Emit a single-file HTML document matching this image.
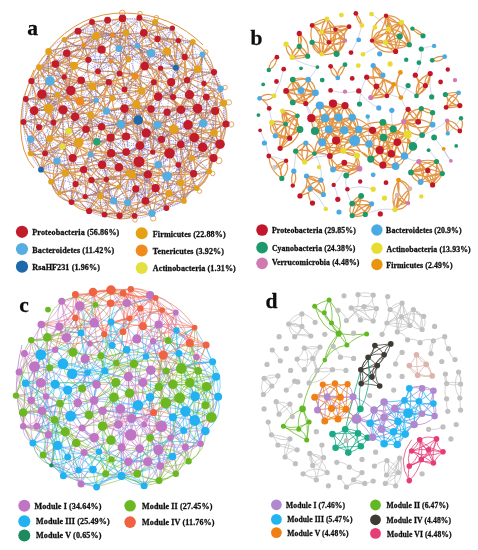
<!DOCTYPE html>
<html><head><meta charset="utf-8"><style>
html,body{margin:0;padding:0;background:#fff;}
svg{display:block;}
text{font-family:"Liberation Serif",serif;font-weight:bold;fill:#111;stroke:#111;stroke-width:0.28px;letter-spacing:0.1px;}
</style></head><body>
<svg width="478" height="550" viewBox="0 0 478 550">
<defs><filter id="bl" x="0" y="0" width="478" height="550" filterUnits="userSpaceOnUse"><feGaussianBlur stdDeviation="0.5"/></filter><filter id="bt" x="0" y="0" width="478" height="550" filterUnits="userSpaceOnUse"><feGaussianBlur stdDeviation="0.4"/></filter></defs><rect width="478" height="550" fill="#fff"/>
<g filter="url(#bl)"><path d="M96.1 100.2Q45.8 116.9 41 169.7M176 67.7Q182.2 83.2 173.1 97.1M189.5 94.7Q197.9 95.9 206.3 97.1M39.1 67.3Q64.1 81.7 92.5 86.5M102.1 164.8Q109.9 170.3 118.9 167.3M92.5 86.5Q104.3 96 106.4 111M124.5 89.4Q127.7 81.1 135.1 76.2M91.5 180.2Q106.2 186.7 113.6 200.9M48.7 108.6Q52.1 115.2 53.5 122.5M83.6 44.9Q92.8 46.6 101.6 49.7M126.1 152.1Q135.1 153.2 139.9 145.6M104.5 214.6Q119.3 222.5 134.6 215.8M92 22Q98.7 34 112.4 35.3M48.7 108.6Q89.4 102.4 110.7 137.7M126.1 32.9Q136 35.5 137.5 45.6M48.7 51.4Q35.7 63.7 31.4 81M173.8 129.2Q165 140.1 169.5 153.3M152.7 152.1Q161.1 152.4 169.5 153.3M139.4 17.7Q147 20.8 155.1 22M203.9 83.4Q219.2 93.2 215.2 111M83.6 169.7Q86.4 183 85.2 196.6M188 124.9Q207.3 135.8 226 124M75.6 184.1Q84.4 185.8 91.5 180.2M75.6 184.1Q75.7 200.9 89.1 211M141.8 91.1Q130.4 104.4 138.2 120.1M96.1 100.2Q120.2 120.9 126.1 152.1M64.3 39.6Q74.5 58.2 64.3 76.9M192.8 42Q210.7 51.9 214 72.1M96.8 141.8Q103.8 147.8 111.2 153.3M124.5 89.4Q137.6 80.3 144.7 66.1M91.5 180.2Q99.2 184.4 106.4 179.3M39.1 67.3Q44.2 83.9 57.8 94.7M213.5 158.1Q210 164.3 209.2 171.3M111.2 153.3Q148.6 178.8 193.6 173.7M137.5 45.6Q144.5 49 151 53.3M92 22Q95.8 36.2 101.6 49.7M137.5 45.6Q146.2 61.7 135.1 76.2M173.8 129.2Q182.4 137.5 194.3 137.7M90.8 115.3Q97.4 143.8 83.6 169.7M64.3 76.9Q123.1 94.5 167.1 51.6M131.7 174.5Q139.8 176.2 147.9 174.5M30.6 153.3Q38.1 160.1 41 169.7M131.7 174.5Q145.4 184.1 145.4 200.9M86 129.2Q93.4 125.3 101.6 126.8M160.6 68.2Q156.7 82.2 158.2 96.6M106.4 111Q90 109.5 75.1 116.7M86 129.2Q78.9 144.3 62.4 146.6M118.9 48.5Q136.4 41.2 151 53.3M172.4 28Q173.5 47.9 176 67.7M81.2 80.2Q87.5 91.1 96.1 100.2M83.6 169.7Q80.7 177.5 75.6 184.1M223.6 103.1Q228.8 113.1 226 124M83.6 169.7Q75.3 185 71.5 202.1M78.7 142.5Q81 152.4 72.7 158.1M188 124.9Q192.9 130.4 194.3 137.7M193.6 173.7Q189.5 187.6 183.9 200.9M64.3 39.6Q52 49 55.4 64.1M96.8 141.8Q112 142.1 126.1 136.5M192.8 42Q179.7 59.6 187.1 80.2M91.5 180.2Q96.2 188 100.4 196.1M180.3 182.6Q189.5 182.4 196.7 188.2M213.5 158.1Q210.4 176.1 196.7 188.2M178.4 164.8Q191.7 178 209.2 171.3M104.5 214.6Q163.1 207.9 209.2 171.3M137.5 45.6Q143.9 54.9 144.7 66.1M214 132.9Q222.2 145.7 213.5 158.1M131.7 174.5Q133.8 181.7 135.8 188.9M160.6 68.2Q164.2 76.5 171.2 82.2M203.9 83.4Q202.2 96.4 197.6 108.6M155.6 188.2Q164.4 196.3 166.4 208.1M78 31.2Q94.7 37.3 112.4 35.3M81.2 80.2Q72.9 82.3 70.8 90.6M68.4 131.2Q68.4 148.3 57.1 161M191.9 158.1Q185.4 175.2 167.1 176.2M78.7 142.5Q75.6 159.2 65.5 173M96.1 100.2Q94.3 108 90.8 115.3M75.6 184.1Q71.2 192.6 71.5 202.1M181 109.8Q187.7 115.9 188 124.9M112.4 35.3Q129.6 32.1 139.4 17.7M192.8 42Q190.6 56.5 197.6 69.4M96.8 141.8Q93.8 148.1 90.8 154.5M194.3 137.7Q208.5 135.6 220 144.2M213.5 158.1Q198.4 159.4 193.6 173.7M126.1 32.9Q130.8 45.8 128.5 59.3M102.1 164.8Q91.8 163.1 83.6 169.7M63.1 109.8Q69.8 119.5 68.4 131.2M194.3 137.7Q191.6 154.4 178.4 164.8M64.3 76.9Q72.1 81.6 81.2 80.2M41.9 94.2Q55.4 92.3 67.9 97.8M136.5 104.3Q149.3 117.9 167.1 112.2M187.1 80.2Q188.3 87.4 189.5 94.7M206.3 97.1Q222 106.2 226 124M152.7 152.1Q184.3 143.3 213.5 158.1M167.1 112.2Q165.9 126.1 161.6 139.3M160.6 68.2Q168.4 69.7 176 67.7M203.9 83.4Q200.8 91 206.3 97.1M108.8 82.2Q118.4 81.9 124.5 89.4M160.6 68.2Q152.9 81.1 141.8 91.1M90.8 154.5Q107.4 155.3 118.9 167.3M83.6 169.7Q63.4 164.9 51.1 181.7M78.7 142.5Q87.6 137.6 96.8 141.8M180.8 144.4Q177.9 152.4 169.5 153.3M75.6 184.1Q70.3 193.5 59.5 193M158.2 96.6Q147.9 102.1 136.5 104.3M34.2 110.6Q68.6 157 126.1 152.1M206.3 97.1Q207 106.4 215.2 111M192.8 42Q186.3 48.1 184.7 56.9M75.1 116.7Q67.9 130.9 78.7 142.5M96.8 141.8Q105 143.9 110.7 137.7M157.5 124.9Q166.2 125.1 173.8 129.2M126.1 32.9Q125.9 42.3 118.9 48.5M141.8 91.1Q124.2 117.8 139.9 145.6M194.3 137.7Q196.8 143.9 202.7 147.3M167.1 51.6Q160.7 66.2 144.7 66.1M63.1 109.8Q60.8 148.4 75.6 184.1M64.3 76.9Q67.9 87 67.9 97.8M53.5 122.5Q52 138.6 45.1 153.3M126.1 136.5Q135.7 132.3 146.2 132.9M119.6 73.7Q122 55.5 137.5 45.6M203.9 83.4Q214.1 80.2 220.7 88.7M160.6 68.2Q159.4 76.2 153.9 82.2M90.8 154.5Q100.9 151.8 111.2 153.3M124.5 108.6Q170.3 148.7 226 124M49.9 81Q62.9 80.3 70.8 90.6M155.6 188.2Q165.6 203.7 183.9 200.9M128.5 173Q135.4 179.5 135.8 188.9M49.9 81Q52.1 94.9 48.7 108.6M67.9 97.8Q55.9 98.9 48.7 108.6M193.6 173.7Q161.3 168.3 135.8 188.9M180.8 144.4Q187.2 140.4 194.3 137.7M51.1 181.7Q105.4 152 155.6 188.2M48.7 108.6Q41.5 109.9 34.2 110.6M75.1 116.7Q89.2 119.4 101.6 126.8M118.9 187Q97 190.2 89.1 211M194.3 137.7Q203.1 131.1 214 132.9M110.7 137.7Q122.8 126.3 138.2 120.1M126.1 32.9Q65.4 30.6 31.4 81M39.1 127.3Q50.6 138.3 45.1 153.3M72.7 158.1Q75.8 170.9 75.6 184.1M187.1 80.2Q176.4 85.6 173.1 97.1M41 169.7Q52.6 175.9 65.5 173M101.6 49.7Q160.1 84.5 152.7 152.1M62.4 146.6Q79.2 141.3 90.8 154.5M167.1 112.2Q163 128.9 146.2 132.9M120.8 124.4Q119.9 132 126.1 136.5M124.5 108.6Q133.3 112 138.2 120.1M65.5 173Q75.1 174.5 83.6 169.7M90.8 154.5Q91.7 171.3 106.4 179.3M96.1 100.2Q81.7 102.2 67.9 97.8M55.4 64.1Q47.8 68.3 39.1 67.3M128.5 173Q129.6 174.8 131.7 174.5M172.4 28Q157.7 28.1 143.8 32.9M55.4 64.1Q67.5 74.8 70.8 90.6M68.4 131.2Q63.1 138 62.4 146.6M191.9 158.1Q202.7 155.3 213.5 158.1M226 124Q225.1 143 213.5 158.1M112.4 35.3Q101.3 50.1 83.6 44.9M180.8 144.4Q165.4 143.2 152.7 152.1M73.9 65.8Q84.3 75.6 98 71.3M178.4 40.6Q174.7 53.9 176 67.7M151 53.3Q166.7 65.6 184.7 56.9M75.1 116.7Q82.5 110.8 90.8 115.3M206.3 97.1Q204.1 104.5 197.6 108.6M118.9 187Q102.2 192.4 85.2 196.6M158.2 164.8Q163.6 180.8 180.3 182.6M112.4 35.3Q128.9 44.1 143.8 32.9M126.1 32.9Q115.2 43.2 101.6 49.7M189.5 94.7Q201.3 106.6 203.2 123.2M135.1 76.2Q147.7 85.3 158.2 96.6M155.1 22Q146.4 33.9 137.5 45.6M151 109.1Q141.3 110.8 138.2 120.1M62.4 146.6Q70.1 150.1 72.7 158.1M203.2 123.2Q207.2 137.3 220 144.2M71.5 202.1Q127 185.7 161.6 139.3M90.8 154.5Q83.8 160.5 83.6 169.7M88.4 59.8Q85.4 73.9 92.5 86.5M155.6 188.2Q149.5 193.8 145.4 200.9M96.1 100.2Q102.6 104.4 106.4 111M55.4 64.1Q70.3 68.9 81.2 80.2M49.9 81Q60.5 87.7 67.9 97.8M197.6 69.4Q188.6 80.4 189.5 94.7M89.1 211Q105.8 204.4 119.6 215.8M135.8 188.9Q140.9 202.6 134.6 215.8M178.4 40.6Q170.8 44.1 167.1 51.6M215.2 111Q223.5 126.8 220 144.2M158.2 96.6Q173.6 96.3 181 109.8M158.2 164.8Q166.4 167.6 167.1 176.2M168.8 193.5Q176.1 197.8 183.9 200.9M70.8 90.6Q61.9 102.3 48.7 108.6M167.1 51.6Q176.4 70.8 197.6 69.4M39.1 127.3Q27.9 138 30.6 153.3M101.6 126.8Q94.1 132.7 96.8 141.8M145.4 200.9Q157.1 201 166.4 208.1M70.8 90.6Q131.5 68.1 181 109.8M202.7 147.3Q212.7 157.5 209.2 171.3M100.4 196.1Q94.8 203.6 89.1 211M62.4 146.6Q52.8 147.4 45.1 153.3M107.6 20.1Q114.3 33.9 118.9 48.5M120.8 124.4Q103 150.2 72.7 158.1M25.8 99Q34.1 112.4 39.1 127.3M90.8 154.5Q81.4 154.8 72.7 158.1M203.2 123.2Q200 135.2 202.7 147.3M88.4 59.8Q73.4 64.2 64.3 76.9M49.9 81Q50.5 89.8 57.8 94.7M45.1 153.3Q53 165.5 65.5 173M108.8 82.2Q95.8 134.6 45.1 153.3M106.4 179.3Q110.8 186.1 118.9 187M34.2 110.6Q36.5 125.5 30.6 139.3M101.6 49.7Q105.9 55.9 111.2 61.2M151 53.3Q158.9 51 167.1 51.6M214 72.1Q214.6 81.5 220.7 88.7M173.1 97.1Q180.2 113 173.8 129.2M110.7 137.7Q113.7 145.4 111.2 153.3M158.2 164.8Q161.1 177 155.6 188.2M126.1 152.1Q134.3 161.9 131.7 174.5M101.6 126.8Q111.8 130.8 120.8 124.4M155.1 22Q173.8 48 197.6 69.4M41 169.7Q47.5 174.5 51.1 181.7M202.7 147.3Q191.8 157.8 178.4 164.8M31.4 81Q40.6 87.4 49.9 81M124.5 89.4Q151.1 127.4 178.4 164.8M31.4 81Q32 91.1 25.8 99M71.5 202.1Q78.4 210.4 89.1 211M80 101.4Q92.2 109 106.4 111M88.4 59.8Q70.4 50.6 55.4 64.1M157.5 38.9Q149.4 47.8 137.5 45.6M55.4 64.1Q60.1 70.3 64.3 76.9M197.6 69.4Q205.2 74.4 214 72.1M86 129.2Q106.2 166.6 147.9 174.5M30.6 139.3Q33.8 150.5 45.1 153.3M197.6 108.6Q185.4 154 139 161.7M139 161.7Q137.2 169.2 131.7 174.5M89.1 211Q97.8 208.7 104.5 214.6M135.8 188.9Q149.2 197.7 151.9 213.4M189.5 94.7Q180.3 99.4 181 109.8M215.2 111Q185.5 114.6 157.5 124.9M34.2 110.6Q40.3 122.4 53.5 122.5M215.2 111Q216.6 122.1 214 132.9M158.2 164.8Q150.6 167 147.9 174.5M83.6 44.9Q86.5 52.2 88.4 59.8M110.7 137.7Q111 152.7 102.1 164.8M168.8 193.5Q155.7 192.7 145.4 200.9M70.8 90.6Q67.1 93.3 67.9 97.8M48.7 51.4Q48.3 62 39.1 67.3M98 71.3Q103.4 85.8 112.4 98.3M119.6 215.8Q136 217.3 151.9 213.4M101.6 126.8Q93.3 139.2 78.7 142.5M124.5 108.6Q127.9 122.4 126.1 136.5M90.8 115.3Q147 118.1 178.4 164.8M147.9 174.5Q157.9 171.4 167.1 176.2M31.4 81Q37.9 95.3 34.2 110.6M203.2 123.2Q214.5 125.2 226 124M107.6 20.1Q101.5 34.3 101.6 49.7M25.8 99Q29.4 111 23.4 122M197.6 108.6Q205.4 114 203.2 123.2M45.1 153.3Q45 162 41 169.7M128.5 59.3Q122.3 65.4 119.6 73.7M106.4 179.3Q113.2 197.4 104.5 214.6M112.4 35.3Q118.9 32.3 126.1 32.9M151 109.1Q166.1 103.2 181 109.8M23.4 122Q23.4 132.1 30.6 139.3M48.7 108.6Q43.3 117.6 39.1 127.3M92 22Q98.4 27.7 96.3 36M83.6 44.9Q84.6 58.1 73.9 65.8M91.5 180.2Q144.7 176.5 196.7 188.2M196.7 188.2Q182.6 189.9 168.8 193.5M57.8 94.7Q62.5 97.2 67.9 97.8M167.1 112.2Q181.3 101.7 197.6 108.6M118.9 167.3Q123.5 177.2 118.9 187M138.2 120.1Q135.6 133.1 139.9 145.6M41.9 94.2Q59.9 103.4 75.1 116.7M73.9 65.8Q124.7 82.7 157.5 124.9M96.3 36Q109.3 39.2 118.9 48.5M171.2 82.2Q167.3 99.1 181 109.8M169.5 153.3Q171.3 165.1 167.1 176.2M25.8 99Q84.2 100.5 141.8 91.1M188 124.9Q195.4 122.5 203.2 123.2M157.5 38.9Q175.3 38.4 192.8 42M30.6 139.3Q27 146.3 30.6 153.3M127.6 202.6Q146.6 205.1 155.6 188.2M75.6 184.1Q120.6 171.4 167.1 176.2M189.5 94.7Q182 108.2 167.1 112.2M39.1 67.3Q36.2 81.2 41.9 94.2M23.4 122Q38.6 116 53.5 122.5M102.1 164.8Q112.1 181 100.4 196.1M124.5 89.4Q132.2 106.7 151 109.1M161.6 139.3Q161.3 152.2 158.2 164.8M158.2 96.6Q142.9 103.9 138.2 120.1M220 144.2Q217.7 151.6 213.5 158.1M48.7 51.4Q57.4 65.4 73.9 65.8M118.9 167.3Q123.9 169.9 128.5 173M85.2 196.6Q100.4 192 113.6 200.9M138.2 120.1Q156.4 121.8 161.6 139.3M41.9 94.2Q46.7 108.8 53.5 122.5M139.4 17.7Q146.4 30.1 157.5 38.9M113.6 200.9Q129.5 210 145.4 200.9M96.3 36Q104.1 31 112.4 35.3M124.5 108.6Q115.1 122 110.7 137.7M143.8 32.9Q157.1 40.1 167.1 51.6M202.5 54.5Q211.5 71.7 220.7 88.7M147.9 174.5Q153.2 188.3 145.4 200.9M146.2 132.9Q160.9 139.6 169.5 153.3M34.2 110.6Q48.7 110.6 63.1 109.8M197.6 108.6Q187.9 113.9 188 124.9M157.5 38.9Q176 40.5 184.7 56.9M127.6 202.6Q137.6 188.4 147.9 174.5M128.5 59.3Q120.1 73.5 124.5 89.4M161.6 139.3Q161 148.9 169.5 153.3M92 22Q86.9 29.6 78 31.2M83.6 44.9Q74.5 61.9 55.4 64.1M90.8 115.3Q85.6 130.4 96.8 141.8M48.7 51.4Q57.1 58.3 66.7 53.3M98 71.3Q103.5 76.6 108.8 82.2M214 132.9Q210.8 152.4 191.9 158.1M30.6 153.3Q70.9 177.3 111.2 153.3M118.9 167.3Q113.6 174.3 106.4 179.3M64.3 76.9Q107.6 94.2 144.7 66.1M214 132.9Q208.4 151.7 209.2 171.3M220.7 88.7Q211.6 89.6 206.3 97.1M85.2 196.6Q99.1 201 104.5 214.6M183.9 200.9Q165.4 200.7 151.9 213.4M113.6 200.9Q122.4 190.6 135.8 188.9M108.8 82.2Q103.7 92 96.1 100.2M113.6 200.9Q120.5 213.4 134.6 215.8M96.3 36Q95.8 44.1 101.6 49.7M86 129.2Q94 140.8 90.8 154.5M122.5 18.4Q135.4 29 137.5 45.6M78 31.2Q85.2 44.8 88.4 59.8M146.2 132.9Q142.2 147.2 139 161.7M112.4 98.3Q83.2 131.3 45.1 153.3M120.8 124.4Q135.9 130 139.9 145.6M127.6 202.6Q125.9 210.6 119.6 215.8M96.1 100.2Q83 105.1 75.1 116.7M127.6 202.6Q135.5 198 135.8 188.9M192.8 42Q192.7 60.2 176 67.7M153.9 82.2Q162.8 90.5 173.1 97.1M180.3 182.6Q178.8 192.4 183.9 200.9M161.6 139.3Q177.4 127.9 194.3 137.7M102.1 164.8Q86.1 176.7 85.2 196.6M178.4 164.8Q184.1 173.2 180.3 182.6M83.6 44.9Q65.7 45.7 48.7 51.4M90.8 115.3Q105.5 120.9 120.8 124.4M92 22Q76.6 28.3 64.3 39.6M206.3 97.1Q208.3 110.6 203.2 123.2M173.8 129.2Q168.3 134.9 161.6 139.3M196.7 188.2Q180.4 196.4 166.4 208.1M124.5 108.6Q137.8 107.5 151 109.1M139.4 17.7Q139.9 25.8 143.8 32.9M86 129.2Q98.7 132.5 110.7 137.7M106.4 111Q114.2 117.1 120.8 124.4M143.8 32.9Q154.2 40.7 151 53.3M86 129.2Q76.9 142.5 72.7 158.1M78 31.2Q80.9 38 83.6 44.9M146.2 132.9Q153 141.3 152.7 152.1M81.2 80.2Q66.8 83.1 57.8 94.7M111.2 153.3Q112.3 161.8 118.9 167.3M188 124.9Q175.2 132.9 161.6 139.3M173.1 97.1Q187.9 97.4 197.6 108.6M188 124.9Q190.6 141.4 191.9 158.1M67.9 97.8Q76.7 105.3 75.1 116.7M127.6 202.6Q122.3 187.5 131.7 174.5M153.9 82.2Q153.8 95.8 151 109.1M124.5 89.4Q133.6 85.3 141.8 91.1M178.4 164.8Q182.6 182.6 183.9 200.9M92 22Q107.3 20.4 122.5 18.4M90.8 115.3Q93.5 132.8 78.7 142.5M64.3 76.9Q69.8 90.6 80 101.4M49.9 138.4Q114.9 152.3 134.6 215.8M136.5 104.3Q125.4 111.8 120.8 124.4M214 132.9Q205.6 137.9 202.7 147.3M118.9 48.5Q123.6 54 128.5 59.3M59.5 193Q73.5 186.8 85.2 196.6M106.4 111Q121.5 107.7 136.5 104.3M65.5 173Q79.1 174.4 91.5 180.2M86 129.2Q76.6 124.6 68.4 131.2M108.8 82.2Q114.7 89.3 112.4 98.3M101.6 126.8Q120.4 159.9 158.2 164.8M184.7 56.9Q194.4 61.9 202.5 54.5M112.4 98.3Q112.4 112.7 120.8 124.4M172.4 28Q151.1 29.1 137.5 45.6M68.4 131.2Q60.7 138.8 49.9 138.4M81.2 80.2Q94.3 90.5 108.8 82.2M184.7 56.9Q186 68.5 187.1 80.2M78.7 142.5Q84.6 177.6 118.9 187M181 109.8Q164.9 110.5 157.5 124.9M75.1 116.7Q83.5 120.4 86 129.2M111.2 153.3Q127.1 155.2 139.9 145.6M124.5 89.4Q141.4 94.7 153.9 82.2M157.5 124.9Q172.1 135.5 169.5 153.3M41.9 94.2Q34.4 98.3 25.8 99M64.3 76.9Q50 81.5 41.9 94.2M187.1 80.2Q176.6 95.3 158.2 96.6M53.5 122.5Q60.5 139.5 78.7 142.5M122.5 18.4Q126.6 25.1 126.1 32.9M118.9 48.5Q103.4 55.3 98 71.3M59.5 193Q67.8 194.6 71.5 202.1M108.8 82.2Q100.6 84.3 92.5 86.5M197.6 108.6Q212.2 113.5 223.6 103.1M203.9 83.4Q217.8 89.2 223.6 103.1M167.1 112.2Q190.2 153.8 183.9 200.9M78 31.2Q71.1 35.3 64.3 39.6M146.2 132.9Q144.7 140 139.9 145.6M120.8 124.4Q136.3 120.4 146.2 132.9M111.2 153.3Q109.2 161.1 102.1 164.8M83.6 169.7Q98.3 178.9 100.4 196.1M193.6 173.7Q190.7 181.9 196.7 188.2M191.9 158.1Q198.9 166.9 209.2 171.3M73.9 65.8Q56.1 56.9 39.1 67.3M63.1 109.8Q63.1 127.2 49.9 138.4M118.9 187Q134 178.4 139 161.7M135.1 76.2Q142.5 81.8 141.8 91.1M41.9 94.2Q37.7 102.2 34.2 110.6M126.1 32.9Q134.9 34.6 143.8 32.9M113.6 200.9Q102.3 208.4 89.1 211M167.1 176.2Q158.4 192 166.4 208.1M101.6 126.8Q120.2 124.9 138.2 120.1M122.5 18.4Q119 33.2 118.9 48.5M106.4 111Q137.9 109.3 153.9 82.2M98 71.3Q130.1 96.1 126.1 136.5M220.7 88.7Q211.2 108.2 226 124M122.5 18.4Q117.1 54.1 124.5 89.4M119.6 73.7Q132 80.8 141.8 91.1M112.4 98.3Q128.6 100.8 141.8 91.1M160.6 68.2Q171.6 80.6 173.1 97.1M65.5 173Q58.5 189.6 71.5 202.1M226 124Q221.9 133.8 220 144.2M83.6 169.7Q88.6 174.2 91.5 180.2M73.9 65.8Q74.9 74.4 81.2 80.2M106.4 179.3Q118.9 175.9 131.7 174.5M214 72.1Q206.9 88.9 189.5 94.7M75.1 116.7Q63.3 115.9 53.5 122.5M104.5 214.6Q112.4 210.4 119.6 215.8M144.7 66.1Q172.4 113.3 226 124M194.3 137.7Q207.4 144.6 213.5 158.1M63.1 109.8Q72.7 121.7 86 129.2M157.5 124.9Q145.9 136.9 152.7 152.1M90.8 115.3Q87.6 122 86 129.2M153.9 82.2Q139.6 112.3 139.9 145.6M98 71.3Q146.8 71 189.5 94.7M57.8 94.7Q74.1 99.7 75.1 116.7M122.5 18.4Q123 30.1 112.4 35.3M120.8 124.4Q113.1 139 96.8 141.8M62.4 146.6Q49.8 156.4 41 169.7M139.9 145.6Q140.2 153.7 139 161.7M65.5 173Q62.3 182.9 59.5 193M128.5 173Q145.6 177.1 158.2 164.8M49.9 81Q49.3 89.7 41.9 94.2M184.7 56.9Q182.4 64 176 67.7M55.4 64.1Q63.7 85.4 80 101.4M193.6 173.7Q189.9 182.6 180.3 182.6M180.8 144.4Q200.3 130.7 220 144.2M143.8 32.9Q182.7 72 203.2 123.2M191.9 158.1Q197 165.4 193.6 173.7M112.4 35.3Q122.8 45.7 128.5 59.3M158.2 96.6Q165.7 94 173.1 97.1M151 53.3Q141.7 63.8 135.1 76.2M73.9 65.8Q68.9 81.4 67.9 97.8M75.1 116.7Q74.8 125.3 68.4 131.2M23.4 122Q55.5 165.7 100.4 196.1M157.5 124.9Q169.5 134.2 180.8 144.4M155.1 22Q171.5 25.3 178.4 40.6M167.1 176.2Q168 193.7 183.9 200.9M106.4 111Q115 106.6 124.5 108.6M57.8 94.7Q62.5 109.7 53.5 122.5M126.1 136.5Q135.6 137.1 139.9 145.6M139.9 145.6Q145.7 150.1 152.7 152.1M203.2 123.2Q195 128.1 194.3 137.7M96.3 36Q50.5 61 34.2 110.6M220.7 88.7Q214.3 107.2 203.2 123.2M144.7 66.1Q160.6 69.8 171.2 82.2M181 109.8Q188.9 103.5 197.6 108.6M141.8 91.1Q137.8 97.2 136.5 104.3M172.4 28Q174.9 34.6 178.4 40.6M106.4 179.3Q105.2 188.3 100.4 196.1M180.8 144.4Q191.5 148.1 202.7 147.3M191.9 158.1Q187.1 170.8 180.3 182.6M180.8 144.4Q178.2 163 193.6 173.7M101.6 49.7Q85.1 53.2 73.9 65.8M151 53.3Q150.1 60.8 144.7 66.1M112.4 35.3Q103.2 65.8 124.5 89.4M178.4 40.6Q193.8 70.5 173.1 97.1M75.1 116.7Q56.9 121.2 39.1 127.3M57.1 161Q62.1 166.4 65.5 173M158.2 164.8Q146.7 174.5 131.7 174.5M206.3 97.1Q216.8 94.8 223.6 103.1M118.9 187Q113.5 192.9 113.6 200.9M70.8 90.6Q79.1 92.9 80 101.4M155.1 22Q160 37.2 167.1 51.6M187.1 80.2Q201.3 94.8 220.7 88.7M138.2 120.1Q174.6 125.7 191.9 158.1M118.9 167.3Q126.8 168.2 131.7 174.5M119.6 73.7Q114.1 85.5 112.4 98.3M122.5 18.4Q109.3 27.1 96.3 36M100.4 196.1Q113.4 202 127.6 202.6M31.4 81Q34 98.6 48.7 108.6M137.5 45.6Q165.6 80.7 157.5 124.9M107.6 20.1Q98.9 35.7 83.6 44.9M119.6 73.7Q127.7 72.8 135.1 76.2M124.5 108.6Q143 113.9 146.2 132.9M144.7 66.1Q136.4 77.8 141.8 91.1M197.6 69.4Q181.9 70.6 171.2 82.2M128.5 173Q139.8 184.7 155.6 188.2M215.2 111Q213.4 121.2 203.2 123.2M180.8 144.4Q164.6 149.2 158.2 164.8M101.6 49.7Q83.5 45.5 66.7 53.3M214 72.1Q200.7 76.8 187.1 80.2M49.9 138.4Q49.7 150.9 57.1 161M23.4 122Q35.3 136.9 45.1 153.3M57.1 161Q70.8 169 75.6 184.1M70.8 90.6Q57.3 100.4 41.9 94.2M189.5 94.7Q179.2 115.8 157.5 124.9M110.7 137.7Q130 116.2 157.5 124.9M155.1 22Q158.2 30.2 157.5 38.9M101.6 126.8Q112.2 135.9 126.1 136.5M66.7 53.3Q76.7 59.5 88.4 59.8M119.6 73.7Q103 73.5 92.5 86.5M124.5 89.4Q152.2 123.9 194.3 137.7M92 22Q144.9 46.3 173.1 97.1M100.4 196.1Q109.3 206.7 119.6 215.8M171.2 82.2Q143.4 112.7 110.7 137.7M88.4 59.8Q99.5 65.1 111.2 61.2M157.5 38.9Q167.9 40.1 178.4 40.6M157.5 38.9Q171.5 50.3 176 67.7M128.5 173Q138.1 175.7 147.9 174.5M51.1 181.7Q54.7 198.5 71.5 202.1M111.2 61.2Q126.1 64 135.1 76.2M127.6 202.6Q127.6 211.1 134.6 215.8M23.4 122Q33 119.3 39.1 127.3M178.4 40.6Q192.8 51.8 197.6 69.4M49.9 138.4Q43 149.4 30.6 153.3M57.1 161Q47.6 162.6 41 169.7M57.1 161Q48.3 177.7 59.5 193M92.5 86.5Q86.7 100.6 90.8 115.3M57.8 94.7Q62.3 101.6 63.1 109.8M48.7 51.4Q51 84.7 80 101.4M151 109.1Q156.1 116.2 157.5 124.9M101.6 126.8Q101.3 142.6 90.8 154.5M66.7 53.3Q66.7 61.6 73.9 65.8M96.3 36Q90.2 47.2 88.4 59.8M202.5 54.5Q199.3 69.1 203.9 83.4M112.4 98.3Q107.9 104 106.4 111M100.4 196.1Q105.4 202.9 113.6 200.9M147.9 174.5Q158.8 183.6 168.8 193.5M128.5 173Q120.4 177.7 118.9 187M71.5 202.1Q93.7 215.6 119.6 215.8M144.7 66.1Q152.1 71.1 160.6 68.2M55.4 64.1Q44.1 73.6 31.4 81M51.1 181.7Q53.5 188.7 59.5 193M135.8 188.9Q145.7 189.5 155.6 188.2M139 161.7Q155 165.2 167.1 176.2M92.5 86.5Q82.5 92.9 70.8 90.6M215.2 111Q200.4 115.6 188 124.9M49.9 138.4Q65.5 131.9 78.7 142.5M119.6 215.8Q179.4 198.2 194.3 137.7M57.1 161Q59.2 172.8 51.1 181.7M48.7 108.6Q59.2 123.1 49.9 138.4M126.1 152.1Q135.2 153.3 139 161.7M168.8 193.5Q163.2 200.1 166.4 208.1M57.8 94.7Q42.3 100.3 25.8 99M124.5 108.6Q126.6 117.4 120.8 124.4M136.5 104.3Q142.6 111.6 138.2 120.1M171.2 82.2Q178.5 76.1 187.1 80.2M96.3 36Q88.7 38.7 83.6 44.9M202.5 54.5Q206.6 64.4 214 72.1M143.8 32.9Q139.7 49.6 144.7 66.1M100.4 196.1Q99.4 206 104.5 214.6M147.9 174.5Q161.7 192.7 151.9 213.4M107.6 20.1Q115.2 20.2 122.5 18.4M81.2 80.2Q82.6 90.9 80 101.4M80 101.4Q62.7 98 48.7 108.6M188 124.9Q199.7 141.7 220 144.2M139 161.7Q140 179.5 155.6 188.2M111.2 153.3Q127.9 157.7 131.7 174.5M92.5 86.5Q99.4 97.5 112.4 98.3M127.6 202.6Q136.6 215 151.9 213.4M39.1 67.3Q47.7 88.8 70.8 90.6M153.9 82.2Q160 88.2 158.2 96.6M49.9 138.4Q57.8 139.9 62.4 146.6M128.5 59.3Q138.1 50.2 151 53.3M102.1 164.8Q105.6 130.7 138.2 120.1M126.1 152.1Q139.4 158.6 152.7 152.1M126.1 152.1Q132.1 168.1 147.9 174.5M70.8 90.6Q82.5 97.8 96.1 100.2M196.7 188.2Q187.4 191.6 183.9 200.9M48.7 51.4Q46.6 66.3 49.9 81M57.8 94.7Q48.4 106.2 34.2 110.6M124.5 108.6Q129.3 103.1 136.5 104.3M126.1 32.9Q124.2 89.2 75.1 116.7M139.4 17.7Q154 28.8 172.4 28M96.3 36Q85.1 50.8 66.7 53.3M202.5 54.5Q198.1 69.3 187.1 80.2M128.5 173Q117.8 177.3 106.4 179.3M71.5 202.1Q92.2 197.3 104.5 214.6M45.1 153.3Q59.7 151 72.7 158.1M64.3 39.6Q79.4 46 88.4 59.8M176 67.7Q187.6 79.8 203.9 83.4M39.1 67.3Q61.3 69.9 81.2 80.2M153.9 82.2Q162.6 80 171.2 82.2M189.5 94.7Q189 104.3 197.6 108.6M91.5 180.2Q105.2 183.7 118.9 187M161.6 139.3Q149.2 137.1 139.9 145.6M92 22Q100 22.3 107.6 20.1M48.7 108.6Q49.7 129.9 30.6 139.3M137.5 45.6Q152.7 46.8 167.1 51.6M119.6 215.8Q126.5 201.6 135.8 188.9M30.6 153.3Q37.9 156.1 45.1 153.3M85.2 196.6Q78.9 200.8 71.5 202.1M220.7 88.7Q220.1 96.3 223.6 103.1M96.3 36Q80.2 37 64.3 39.6M202.5 54.5Q203 62.9 197.6 69.4M108.8 82.2Q100.3 96 106.4 111M146.2 132.9Q155.7 131.7 161.6 139.3M169.5 153.3Q171.4 161 178.4 164.8M209.2 171.3Q206.8 182.6 196.7 188.2M111.2 61.2Q119.8 64.5 119.6 73.7M80 101.4Q73.2 102.1 67.9 97.8M188 124.9Q199.5 133.7 214 132.9M111.2 153.3Q168.6 185.1 220 144.2" fill="none" stroke="#d98b38" stroke-width="1.05" opacity="0.85"/><path d="M139 161.7Q136.2 175.2 135.8 188.9M64.3 39.6Q66.6 53.6 73.9 65.8M176 67.7Q170.9 82 173.1 97.1M126.1 152.1Q131.6 162.1 128.5 173M153.9 82.2Q148.5 87.5 141.8 91.1M102.1 164.8Q110.7 164.9 118.9 167.3M91.5 180.2Q106.9 185.9 113.6 200.9M104.5 214.6Q119.7 212.3 134.6 215.8M83.6 44.9Q93.4 44.4 101.6 49.7M126.1 152.1Q133.5 149.9 139.9 145.6M118.9 187Q133.6 191.2 145.4 200.9M92 22Q103.2 27.1 112.4 35.3M137.5 45.6Q144.1 61.9 160.6 68.2M126.1 32.9Q131.7 39.3 137.5 45.6M126.1 32.9Q160.8 73.2 214 72.1M30.6 153.3Q43.3 158.9 57.1 161M137.5 45.6Q158.5 78.2 181 109.8M173.8 129.2Q167.8 140.6 169.5 153.3M131.7 174.5Q145.7 177.9 155.6 188.2M135.1 76.2Q112.8 123.3 128.5 173M152.7 152.1Q161 163.5 167.1 176.2M139.4 17.7Q148.2 16.4 155.1 22M113.6 200.9Q147.5 193.9 180.3 182.6M25.8 99Q46.6 97.1 63.1 109.8M197.6 108.6Q206.3 110.4 215.2 111M86 129.2Q81.5 135.4 78.7 142.5M108.8 82.2Q92.3 88.6 80 101.4M126.1 32.9Q87.8 76.5 68.4 131.2M106.4 111Q100.7 125.1 86 129.2M169.5 153.3Q184.6 142 202.7 147.3M122.5 18.4Q131 19.8 139.4 17.7M118.9 48.5Q139.2 59.5 160.6 68.2M106.4 111Q110.9 127.9 126.1 136.5M111.2 61.2Q119.8 59.4 128.5 59.3M215.2 111Q217.8 105.4 223.6 103.1M223.6 103.1Q226 120.3 214 132.9M75.6 184.1Q82.6 178.4 91.5 180.2M75.6 184.1Q86.7 195.4 89.1 211M181 109.8Q190.3 119.5 203.2 123.2M128.5 59.3Q117.9 70.1 108.8 82.2M176 67.7Q179.2 76 187.1 80.2M126.1 152.1Q111.6 153.7 102.1 164.8M39.1 67.3Q51.6 72.3 64.3 76.9M96.8 141.8Q106 145 111.2 153.3M91.5 180.2Q98.8 177.5 106.4 179.3M213.5 158.1Q210.7 164.5 209.2 171.3M39.1 67.3Q53.3 77.7 57.8 94.7M91.5 180.2Q97.7 197.5 104.5 214.6M178.4 164.8Q173.5 179.1 168.8 193.5M118.9 187Q127.8 184 135.8 188.9M41.9 94.2Q48.4 100 48.7 108.6M158.2 96.6Q151.5 110.6 157.5 124.9M48.7 108.6Q58.7 119.8 68.4 131.2M118.9 187Q127.2 201.1 134.6 215.8M92 22Q97.8 35.5 101.6 49.7M173.8 129.2Q182.8 136.5 194.3 137.7M131.7 174.5Q139.8 175.7 147.9 174.5M30.6 153.3Q34.3 162.5 41 169.7M152.7 152.1Q145.5 156.4 139 161.7M86 129.2Q93.4 125.2 101.6 126.8M160.6 68.2Q163.1 82.7 158.2 96.6M118.9 48.5Q135.5 47.3 151 53.3M86 129.2Q111.3 140.6 118.9 167.3M120.8 124.4Q129.8 123.4 138.2 120.1M169.5 153.3Q161.8 157 158.2 164.8M120.8 124.4Q154.6 147.5 194.3 137.7M111.2 61.2Q106.8 69.1 98 71.3M81.2 80.2Q91.7 87.9 96.1 100.2M223.6 103.1Q223.5 113.7 226 124M111.2 61.2Q124.6 72.1 124.5 89.4M83.6 169.7Q82.1 187.6 71.5 202.1M78.7 142.5Q76.5 150.6 72.7 158.1M188 124.9Q189.5 132.1 194.3 137.7M193.6 173.7Q195 189.5 183.9 200.9M96.1 100.2Q104.8 112.3 101.6 126.8M124.5 89.4Q118.3 102.6 106.4 111M64.3 39.6Q63.2 53.1 55.4 64.1M192.8 42Q199.8 46.6 202.5 54.5M96.8 141.8Q111.7 140.4 126.1 136.5M96.8 141.8Q103.2 152.4 102.1 164.8M194.3 137.7Q198.1 148.5 191.9 158.1M81.2 80.2Q110.6 124.5 161.6 139.3M91.5 180.2Q96.3 188 100.4 196.1M213.5 158.1Q206.3 173.8 196.7 188.2M102.1 164.8Q106 171.5 106.4 179.3M178.4 164.8Q192.5 174 209.2 171.3M194.3 137.7Q193.7 158.1 209.2 171.3M118.9 187Q122.6 178 131.7 174.5M180.3 182.6Q188 186.9 196.7 188.2M64.3 76.9Q66.4 84.3 70.8 90.6M173.8 129.2Q188.8 127.4 203.2 123.2M214 132.9Q214.8 145.5 213.5 158.1M206.3 97.1Q212 114.6 214 132.9M173.8 129.2Q160.8 138.4 152.7 152.1M203.9 83.4Q206.8 97.5 197.6 108.6M118.9 48.5Q134.2 45.3 143.8 32.9M122.5 18.4Q142.1 63.1 124.5 108.6M78 31.2Q95.9 27.6 112.4 35.3M155.6 188.2Q162.2 197.5 166.4 208.1M184.7 56.9Q175.4 68.5 160.6 68.2M172.4 28Q165.2 38.8 167.1 51.6M68.4 131.2Q83.2 135 96.8 141.8M81.2 80.2Q76.7 86.1 70.8 90.6M78.7 142.5Q62.8 150.7 45.1 153.3M173.1 97.1Q159.8 99 151 109.1M191.9 158.1Q181 169.2 167.1 176.2M96.1 100.2Q92.3 107.3 90.8 115.3M75.6 184.1Q69.4 192.2 71.5 202.1M48.7 108.6Q55.9 108.6 63.1 109.8M64.3 39.6Q54.1 42.3 48.7 51.4M176 67.7Q173.2 74.8 171.2 82.2M112.4 35.3Q124.9 25 139.4 17.7M124.5 89.4Q147.4 57.9 172.4 28M192.8 42Q197.3 55.3 197.6 69.4M194.3 137.7Q207.4 140.1 220 144.2M213.5 158.1Q205.3 168.1 193.6 173.7M96.8 141.8Q96.8 158.9 83.6 169.7M102.1 164.8Q92.1 164.4 83.6 169.7M180.3 182.6Q176.6 197.1 166.4 208.1M64.3 76.9Q73.4 75.4 81.2 80.2M41.9 94.2Q55.4 92.1 67.9 97.8M136.5 104.3Q151.6 108.9 167.1 112.2M90.8 115.3Q77.3 120 68.4 131.2M63.1 109.8Q62.6 141.5 65.5 173M145.4 200.9Q140.2 208.5 134.6 215.8M113.6 200.9Q120.3 203.8 127.6 202.6M173.8 129.2Q179.3 135.9 180.8 144.4M167.1 112.2Q166.1 126.1 161.6 139.3M160.6 68.2Q168.2 65.8 176 67.7M203.9 83.4Q205.7 90.1 206.3 97.1M108.8 82.2Q116.2 86.8 124.5 89.4M155.6 188.2Q168.2 186.4 180.3 182.6M100.4 196.1Q119.5 202.5 134.6 215.8M78 31.2Q90 40.2 101.6 49.7M172.4 28Q166.6 35.7 157.5 38.9M128.5 173Q132 190 145.4 200.9M223.6 103.1Q211.6 111.4 203.2 123.2M78.7 142.5Q87.9 146.2 96.8 141.8M180.8 144.4Q172.9 146 169.5 153.3M75.6 184.1Q67.1 187.8 59.5 193M226 124Q192.7 158.2 155.6 188.2M101.6 49.7Q97.2 67.7 108.8 82.2M214 72.1Q213.9 91.6 215.2 111M206.3 97.1Q211.4 103.6 215.2 111M192.8 42Q188.7 49.4 184.7 56.9M75.1 116.7Q81.7 128.9 78.7 142.5M96.8 141.8Q104.3 141.5 110.7 137.7M118.9 187Q108.8 189.9 100.4 196.1M157.5 124.9Q166.5 123.7 173.8 129.2M194.3 137.7Q196.8 144 202.7 147.3M178.4 164.8Q185 171 193.6 173.7M167.1 51.6Q154 55.9 144.7 66.1M72.7 158.1Q72.6 167.2 65.5 173M64.3 76.9Q63.8 87.7 67.9 97.8M173.8 129.2Q180.1 124.5 188 124.9M113.6 200.9Q120.2 206.9 119.6 215.8M53.5 122.5Q46.1 137 45.1 153.3M126.1 136.5Q136.5 136.7 146.2 132.9M167.1 112.2Q168.1 121.6 173.8 129.2M101.6 126.8Q138 118.3 173.8 129.2M203.9 83.4Q213.1 83.4 220.7 88.7M90.8 154.5Q101.2 157.9 111.2 153.3M49.9 81Q62.4 81.3 70.8 90.6M88.4 59.8Q73.2 71.6 70.8 90.6M112.4 98.3Q167.3 117.7 223.6 103.1M155.6 188.2Q168.1 198.2 183.9 200.9M128.5 173Q134.6 179.8 135.8 188.9M49.9 81Q46.3 94.7 48.7 108.6M172.4 28Q166.9 45.1 151 53.3M68.4 131.2Q74.7 135.8 78.7 142.5M111.2 153.3Q118.8 155.1 126.1 152.1M80 101.4Q86.1 107.8 90.8 115.3M80 101.4Q99.3 125.1 111.2 153.3M73.9 65.8Q59.3 69.3 49.9 81M48.7 108.6Q41.5 109.9 34.2 110.6M101.6 49.7Q109.1 62.9 119.6 73.7M75.1 116.7Q87.7 123.5 101.6 126.8M157.5 124.9Q150.4 126.8 146.2 132.9M39.1 127.3Q36.4 141.6 45.1 153.3M136.5 104.3Q144.5 104.4 151 109.1M41 169.7Q53.5 169.7 65.5 173M145.4 200.9Q146.8 208.1 151.9 213.4M167.1 176.2Q166.3 185 168.8 193.5M202.7 147.3Q161 154.8 135.8 188.9M167.1 112.2Q161.6 127.5 146.2 132.9M62.4 146.6Q70.6 160.3 83.6 169.7M65.5 173Q74.5 171 83.6 169.7M124.5 108.6Q128.5 117.8 138.2 120.1M90.8 154.5Q97 159.1 102.1 164.8M128.5 173Q139.8 161.6 139.9 145.6M88.4 59.8Q88.9 71.4 81.2 80.2M90.8 154.5Q101.2 165.3 106.4 179.3M55.4 64.1Q47.6 67.6 39.1 67.3M128.5 173Q130 173.9 131.7 174.5M172.4 28Q158.8 34.5 143.8 32.9M55.4 64.1Q60.7 78.7 70.8 90.6M68.4 131.2Q66.1 139.2 62.4 146.6M226 124Q217.9 140.4 213.5 158.1M80 101.4Q84 115.1 86 129.2M112.4 35.3Q96.8 36.4 83.6 44.9M191.9 158.1Q202.7 154.4 213.5 158.1M73.9 65.8Q85.3 71.4 98 71.3M178.4 40.6Q176.5 54.1 176 67.7M151 53.3Q167.6 57.3 184.7 56.9M75.1 116.7Q83.3 119.5 90.8 115.3M118.9 187Q101.7 190.7 85.2 196.6M126.1 32.9Q116.1 44.6 101.6 49.7M189.5 94.7Q196.4 108.9 203.2 123.2M72.7 158.1Q56.7 163.6 41 169.7M155.1 22Q141.3 30.1 137.5 45.6M72.7 158.1Q63.1 174.4 59.5 193M113.6 200.9Q108.5 207.4 104.5 214.6M62.4 146.6Q65 154.6 72.7 158.1M203.2 123.2Q215.7 130.4 220 144.2M90.8 154.5Q85.2 161.2 83.6 169.7M49.9 81Q57.6 90.8 67.9 97.8M89.1 211Q103.4 219.5 119.6 215.8M80 101.4Q74.7 108.1 75.1 116.7M78.7 142.5Q70.4 143.9 62.4 146.6M180.8 144.4Q195.8 154.5 213.5 158.1M215.2 111Q209.7 128.7 220 144.2M101.6 49.7Q97.8 60.2 98 71.3M151 53.3Q166.8 54.7 176 67.7M214 72.1Q212.4 85.3 206.3 97.1M158.2 164.8Q161.1 171.7 167.1 176.2M168.8 193.5Q176.9 196 183.9 200.9M70.8 90.6Q56 95 48.7 108.6M98 71.3Q98.2 85.8 96.1 100.2M151 109.1Q127.9 153 127.6 202.6M155.1 22Q162.3 29.3 172.4 28M39.1 127.3Q33.4 139.8 30.6 153.3M192.8 42Q195.5 88.3 173.8 129.2M72.7 158.1Q61.6 169.6 51.1 181.7M41 169.7Q52 180 59.5 193M62.4 146.6Q52.2 146.1 45.1 153.3M120.8 124.4Q116.1 131.3 110.7 137.7M139.9 145.6Q150.6 153.7 158.2 164.8M90.8 154.5Q81.7 156.3 72.7 158.1M25.8 99Q29.8 114.4 39.1 127.3M203.2 123.2Q198.9 135.2 202.7 147.3M55.4 64.1Q64.5 66.1 73.9 65.8M157.5 38.9Q151 52.4 144.7 66.1M49.9 81Q52.6 88.5 57.8 94.7M141.8 91.1Q158.3 89.5 173.1 97.1M197.6 69.4Q199.5 76.9 203.9 83.4M135.8 188.9Q151.5 196.9 168.8 193.5M106.4 111Q110.2 146.3 131.7 174.5M106.4 179.3Q113.2 197.5 119.6 215.8M180.8 144.4Q160.5 151.4 139.9 145.6M178.4 40.6Q163.3 50.4 160.6 68.2M34.2 110.6Q27.7 124.4 30.6 139.3M23.4 122Q36.2 131 49.9 138.4M215.2 111Q214.9 131.2 202.7 147.3M214 72.1Q220.1 79.3 220.7 88.7M110.7 137.7Q108.8 145.6 111.2 153.3M206.3 97.1Q195.3 106.8 181 109.8M57.8 94.7Q54.9 102.7 48.7 108.6M189.5 94.7Q181.7 109.5 188 124.9M167.1 51.6Q176.8 51.3 184.7 56.9M101.6 126.8Q111 124.1 120.8 124.4M126.1 136.5Q129.3 144.3 126.1 152.1M118.9 167.3Q129.3 165.9 139 161.7M119.6 73.7Q124.9 80.7 124.5 89.4M202.7 147.3Q188.9 153.8 178.4 164.8M66.7 53.3Q58.5 67.3 49.9 81M31.4 81Q40.6 80.8 49.9 81M107.6 20.1Q108.4 28.2 112.4 35.3M80 101.4Q95.6 99.7 106.4 111M157.5 38.9Q146.9 40.3 137.5 45.6M45.1 153.3Q52.5 154.9 57.1 161M25.8 99Q24.4 126.5 30.6 153.3M55.4 64.1Q58.6 71.4 64.3 76.9M197.6 69.4Q206.3 67.7 214 72.1M141.8 91.1Q144.5 101.1 151 109.1M30.6 139.3Q37.2 146.9 45.1 153.3M55.4 64.1Q60.6 79.1 57.8 94.7M197.6 69.4Q183.6 81.7 173.1 97.1M89.1 211Q97.5 209.9 104.5 214.6M139 161.7Q135.8 168.4 131.7 174.5M135.8 188.9Q138.4 204.7 151.9 213.4M106.4 179.3Q108.1 190.7 113.6 200.9M92.5 86.5Q88.8 96.1 80 101.4M189.5 94.7Q181.6 100.2 181 109.8M178.4 40.6Q162.5 42.3 151 53.3M34.2 110.6Q44.4 115.6 53.5 122.5M215.2 111Q217.8 122.1 214 132.9M151 53.3Q154.4 61.7 160.6 68.2M161.6 139.3Q176.2 148 178.4 164.8M83.6 44.9Q86.1 52.3 88.4 59.8M110.7 137.7Q112.6 153.2 102.1 164.8M168.8 193.5Q155.6 192.6 145.4 200.9M70.8 90.6Q70.1 94.5 67.9 97.8M48.7 51.4Q47 61.2 39.1 67.3M98 71.3Q107.8 83.4 112.4 98.3M119.6 215.8Q136.3 222.1 151.9 213.4M39.1 127.3Q70.3 116.5 101.6 126.8M96.3 36Q111.1 33.6 126.1 32.9M124.5 108.6Q124.3 122.6 126.1 136.5M66.7 53.3Q84.2 59 98 71.3M202.7 147.3Q197.4 160.2 193.6 173.7M112.4 98.3Q104.7 103 96.1 100.2M147.9 174.5Q157.5 175 167.1 176.2M100.4 196.1Q84.5 192.2 71.5 202.1M31.4 81Q33 95.8 34.2 110.6M209.2 171.3Q193.4 173.4 180.3 182.6M107.6 20.1Q107.1 35.4 101.6 49.7M25.8 99Q21.9 110.2 23.4 122M197.6 108.6Q202.1 115.2 203.2 123.2M141.8 91.1Q149.6 95 158.2 96.6M45.1 153.3Q39.3 160.6 41 169.7M197.6 69.4Q192.4 74.9 187.1 80.2M30.6 139.3Q40.8 153.9 57.1 161M78 31.2Q130.3 40.7 176 67.7M106.4 179.3Q107.9 197.1 104.5 214.6M112.4 35.3Q118.8 31.3 126.1 32.9M151 109.1Q166.1 106.2 181 109.8M181 109.8Q151.8 160.2 134.6 215.8M57.1 161Q65.2 161.3 72.7 158.1M48.7 108.6Q42 117 39.1 127.3M92 22Q93.1 29.3 96.3 36M83.6 44.9Q83.2 57.4 73.9 65.8M153.9 82.2Q117.8 117.1 102.1 164.8M196.7 188.2Q184 197.5 168.8 193.5M167.1 112.2Q182.2 108.8 197.6 108.6M118.9 167.3Q122.4 177.2 118.9 187M83.6 44.9Q112.9 34.9 143.8 32.9M138.2 120.1Q133.2 133.2 139.9 145.6M143.8 32.9Q161 37.2 178.4 40.6M147.9 174.5Q149 182.9 155.6 188.2M118.9 48.5Q130.2 59.6 144.7 66.1M107.6 20.1Q105.1 30.3 96.3 36M80 101.4Q70.6 103.8 63.1 109.8M157.5 38.9Q175.4 37.1 192.8 42M111.2 61.2Q127.8 41.1 139.4 17.7M30.6 139.3Q31.4 146.3 30.6 153.3M30.6 139.3Q33.6 155.3 41 169.7M127.6 202.6Q140.6 193.4 155.6 188.2M49.9 138.4Q49.5 146.5 45.1 153.3M64.3 39.6Q76.5 74.9 63.1 109.8M102.1 164.8Q94.7 180.1 100.4 196.1M158.2 96.6Q144.2 105 138.2 120.1M83.6 44.9Q76.2 51.2 66.7 53.3M92 22Q92.9 35.3 83.6 44.9M48.7 51.4Q64.1 53.7 73.9 65.8M118.9 167.3Q122.8 171.6 128.5 173M126.1 32.9Q138.3 67 171.2 82.2M85.2 196.6Q98.3 205.8 113.6 200.9M220.7 88.7Q210.1 99.8 197.6 108.6M41.9 94.2Q54.1 105.7 53.5 122.5M139.4 17.7Q151.5 25.7 157.5 38.9M118.9 167.3Q128.6 155.6 139.9 145.6M96.3 36Q104.4 37.5 112.4 35.3M124.5 108.6Q110.4 119.7 110.7 137.7M136.5 104.3Q139.9 119.1 146.2 132.9M171.2 82.2Q179.6 89.6 189.5 94.7M118.9 48.5Q127.7 43.7 137.5 45.6M202.5 54.5Q216.3 69.1 220.7 88.7M122.5 18.4Q135.8 21.8 143.8 32.9M147.9 174.5Q144.8 187.5 145.4 200.9M146.2 132.9Q158.9 142 169.5 153.3M111.2 61.2Q84 66.2 70.8 90.6M188 124.9Q181 133.4 180.8 144.4M34.2 110.6Q48.6 109.9 63.1 109.8M197.6 108.6Q195.1 118.1 188 124.9M157.5 38.9Q172.2 46.2 184.7 56.9M78 31.2Q128 30.4 160.6 68.2M128.5 59.3Q112.6 63.6 98 71.3M127.6 202.6Q142.4 191.9 147.9 174.5M111.2 153.3Q125.1 157.7 139 161.7M128.5 59.3Q131.9 75.1 124.5 89.4M127.6 202.6Q136.1 197.9 145.4 200.9M39.1 67.3Q47.5 71.7 49.9 81M91.5 180.2Q86.6 187.7 85.2 196.6M151 109.1Q158.4 113.8 167.1 112.2M161.6 139.3Q168.6 144.6 169.5 153.3M48.7 108.6Q39.3 121.5 23.4 122M92 22Q82.9 23.4 78 31.2M83.6 44.9Q72.6 59.1 55.4 64.1M90.8 115.3Q90.8 129.2 96.8 141.8M48.7 51.4Q57.8 51.3 66.7 53.3M214 132.9Q209.2 151 191.9 158.1M118.9 167.3Q110.8 171.4 106.4 179.3M220.7 88.7Q212.8 91.6 206.3 97.1M85.2 196.6Q94.2 206.3 104.5 214.6M183.9 200.9Q168.1 207.6 151.9 213.4M25.8 99Q37 104.3 48.7 108.6M136.5 104.3Q146.8 114.8 157.5 124.9M108.8 82.2Q103.1 91.7 96.1 100.2M64.3 76.9Q58.1 99.5 53.5 122.5M96.3 36Q98.1 43.2 101.6 49.7M143.8 32.9Q151.7 33.5 157.5 38.9M86 129.2Q89.6 141.6 90.8 154.5M113.6 200.9Q123.3 209.5 134.6 215.8M169.5 153.3Q163.1 168.4 147.9 174.5M122.5 18.4Q125.8 34.3 137.5 45.6M166.4 208.1Q149.6 208.4 134.6 215.8M146.2 132.9Q145 147.9 139 161.7M81.2 80.2Q86.4 84.2 92.5 86.5M184.7 56.9Q193.4 70.8 203.9 83.4M120.8 124.4Q131.2 134.2 139.9 145.6M81.2 80.2Q75.7 89.9 67.9 97.8M81.2 80.2Q116.2 61.4 143.8 32.9M127.6 202.6Q126 210.7 119.6 215.8M96.1 100.2Q82.6 104.6 75.1 116.7M176 67.7Q164.7 74.6 153.9 82.2M127.6 202.6Q132.6 196.3 135.8 188.9M192.8 42Q179.9 51.9 176 67.7M92.5 86.5Q96.2 92.9 96.1 100.2M153.9 82.2Q161.7 92 173.1 97.1M91.5 180.2Q79.4 189.2 71.5 202.1M180.3 182.6Q185.3 191.1 183.9 200.9M178.4 164.8Q178.6 173.8 180.3 182.6M83.6 44.9Q66 47.2 48.7 51.4M90.8 115.3Q103.8 126.5 120.8 124.4M92 22Q79.4 32.7 64.3 39.6M126.1 32.9Q130.8 23.6 139.4 17.7M214 132.9Q217.3 138.4 220 144.2M206.3 97.1Q207.9 110.5 203.2 123.2M48.7 51.4Q53.8 56.8 55.4 64.1M173.8 129.2Q165.3 131.4 161.6 139.3M118.9 167.3Q113.9 184.4 100.4 196.1M85.2 196.6Q92.9 198.2 100.4 196.1M118.9 48.5Q122.8 61 119.6 73.7M124.5 108.6Q137.7 113.3 151 109.1M139.4 17.7Q140.5 25.6 143.8 32.9M59.5 193Q77.1 197.4 89.1 211M106.4 111Q160.8 120.3 215.2 111M143.8 32.9Q145.3 43.9 151 53.3M106.4 111Q115.4 115.7 120.8 124.4M86 129.2Q80 143.9 72.7 158.1M81.2 80.2Q69.2 87 57.8 94.7M111.2 153.3Q113.7 161.1 118.9 167.3M188 124.9Q173.1 129 161.6 139.3M30.6 139.3Q40.4 142.8 49.9 138.4M171.2 82.2Q173.6 142 183.9 200.9M67.9 97.8Q68.2 108.5 75.1 116.7M127.6 202.6Q132.2 188.9 131.7 174.5M192.8 42Q178.5 42.9 167.1 51.6M39.1 67.3Q37.8 75.6 31.4 81M194.3 137.7Q181.9 145.5 169.5 153.3M112.4 35.3Q128.4 50.8 144.7 66.1M153.9 82.2Q147.9 95.2 151 109.1M102.1 164.8Q84.5 168.5 75.6 184.1M178.4 164.8Q172 169.8 167.1 176.2M178.4 164.8Q172.8 184.1 183.9 200.9M41.9 94.2Q52.4 102.2 63.1 109.8M90.8 115.3Q85.3 129.1 78.7 142.5M126.1 32.9Q141.2 38.8 157.5 38.9M136.5 104.3Q128.2 114 120.8 124.4M75.1 116.7Q100.7 146.3 139.9 145.6M214 132.9Q210.6 141.8 202.7 147.3M53.5 122.5Q42.4 138.2 30.6 153.3M173.8 129.2Q200 127.3 220 144.2M118.9 48.5Q124.4 53.3 128.5 59.3M152.7 152.1Q164.8 160 178.4 164.8M183.9 200.9Q175.5 205.3 166.4 208.1M59.5 193Q73.2 189 85.2 196.6M160.6 68.2Q149.7 78 135.1 76.2M106.4 111Q122.1 110.7 136.5 104.3M65.5 173Q76.9 182.5 91.5 180.2M86 129.2Q77.2 130.6 68.4 131.2M108.8 82.2Q113.7 89.6 112.4 98.3M108.8 82.2Q121.5 92.5 124.5 108.6M184.7 56.9Q194.1 59.3 202.5 54.5M83.6 169.7Q97 169.8 106.4 179.3M193.6 173.7Q202 176.3 209.2 171.3M173.1 97.1Q189.7 92.1 206.3 97.1M111.2 153.3Q123.6 159.8 128.5 173M193.6 173.7Q168.2 188.8 151.9 213.4M181 109.8Q170.3 119.1 157.5 124.9M124.5 89.4Q111 96.7 96.1 100.2M64.3 39.6Q81.2 51 101.6 49.7M111.2 153.3Q126.7 153.8 139.9 145.6M176 67.7Q179.6 82.8 189.5 94.7M112.4 35.3Q127.5 34.3 137.5 45.6M124.5 89.4Q138.3 82.2 153.9 82.2M197.6 69.4Q200.4 119.6 178.4 164.8M135.1 76.2Q135.6 90.3 136.5 104.3M90.8 115.3Q96.1 121.2 101.6 126.8M187.1 80.2Q173.8 90.5 158.2 96.6M187.1 80.2Q154.2 102.7 120.8 124.4M173.8 129.2Q185.4 142.8 202.7 147.3M122.5 18.4Q125.4 25.4 126.1 32.9M118.9 48.5Q110.1 61.4 98 71.3M41 169.7Q89.3 157.2 139 161.7M203.9 83.4Q187.8 88.7 173.1 97.1M62.4 146.6Q70.1 159.1 65.5 173M59.5 193Q63.6 200 71.5 202.1M197.6 108.6Q209.9 102.5 223.6 103.1M112.4 98.3Q124.9 99.5 136.5 104.3M96.1 100.2Q87.9 99.2 80 101.4M106.4 111Q107.8 120 101.6 126.8M90.8 154.5Q84.9 167.5 91.5 180.2M122.5 18.4Q138.9 19.2 155.1 22M78 31.2Q69.9 33.4 64.3 39.6M146.2 132.9Q143.1 139.3 139.9 145.6M155.6 188.2Q151 206.5 134.6 215.8M120.8 124.4Q134.5 125.6 146.2 132.9M78 31.2Q72.5 51.6 55.4 64.1M31.4 81Q66.7 122 120.8 124.4M111.2 61.2Q106.1 71.3 108.8 82.2M111.2 153.3Q105.7 158.3 102.1 164.8M171.2 82.2Q144 124.4 147.9 174.5M111.2 153.3Q107.7 166.1 106.4 179.3M191.9 158.1Q202.2 162.5 209.2 171.3M73.9 65.8Q66.2 77.4 70.8 90.6M73.9 65.8Q55.7 83.9 48.7 108.6M96.8 141.8Q112.6 143.6 126.1 152.1M63.1 109.8Q77.1 111.8 90.8 115.3M63.1 109.8Q63.3 127.2 49.9 138.4M135.1 76.2Q134.8 85.3 141.8 91.1M110.7 137.7Q125.4 141.5 139.9 145.6M64.3 76.9Q57.1 79.1 49.9 81M167.1 51.6Q176.3 65.9 171.2 82.2M41.9 94.2Q35.3 101.1 34.2 110.6M151 109.1Q192.7 120.3 213.5 158.1M70.8 90.6Q71.4 103.9 75.1 116.7M113.6 200.9Q100.6 204.2 89.1 211M53.5 122.5Q56.7 135 62.4 146.6M136.5 104.3Q92.2 112.7 62.4 146.6M113.6 200.9Q145.8 174.5 146.2 132.9M118.9 48.5Q113.8 54.1 111.2 61.2M152.7 152.1Q155.8 158.3 158.2 164.8M122.5 18.4Q124.8 33.9 118.9 48.5M62.4 146.6Q56.5 152.6 57.1 161M65.5 173Q70.5 178.6 75.6 184.1M220.7 88.7Q225.8 106 226 124M112.4 98.3Q127.2 95.1 141.8 91.1M160.6 68.2Q169.6 81.5 173.1 97.1M106.4 111Q99.4 116 90.8 115.3M126.1 136.5Q131.7 169.9 145.4 200.9M65.5 173Q72.7 186.7 71.5 202.1M112.4 98.3Q102.5 110.8 101.6 126.8M172.4 28Q181 37.3 192.8 42M68.4 131.2Q50.2 138.4 30.6 139.3M184.7 56.9Q178.3 69.8 171.2 82.2M31.4 81Q18.4 99.8 23.4 122M226 124Q224.9 134.7 220 144.2M31.4 81Q60.1 107.9 78.7 142.5M88.4 59.8Q145.4 56.2 202.5 54.5M180.8 144.4Q188.2 149.7 191.9 158.1M75.6 184.1Q89.5 187 100.4 196.1M191.9 158.1Q188.6 174.1 196.7 188.2M158.2 96.6Q161.8 104.9 167.1 112.2M106.4 179.3Q119.4 178.6 131.7 174.5M75.1 116.7Q63.6 117.1 53.5 122.5M104.5 214.6Q112.3 212.5 119.6 215.8M118.9 187Q124.2 194.3 127.6 202.6M173.1 97.1Q194 154.1 166.4 208.1M63.1 109.8Q69.8 125.1 86 129.2M194.3 137.7Q205.4 146.5 213.5 158.1M157.5 124.9Q154.1 138.3 152.7 152.1M135.1 76.2Q144.2 80 153.9 82.2M167.1 51.6Q174.5 58 176 67.7M90.8 115.3Q87 121.8 86 129.2M145.4 200.9Q164.7 208.9 183.9 200.9M187.1 80.2Q186.6 96.5 197.6 108.6M167.1 176.2Q175 176.7 180.3 182.6M53.5 122.5Q54.1 131 49.9 138.4M151 109.1Q163 150.6 168.8 193.5M122.5 18.4Q116.8 26.5 112.4 35.3M62.4 146.6Q47.8 156.3 30.6 153.3M139.9 145.6Q137.1 153.5 139 161.7M66.7 53.3Q124.4 63.3 178.4 40.6M57.8 94.7Q82.1 120.3 90.8 154.5M160.6 68.2Q172.1 78.1 187.1 80.2M65.5 173Q66.1 184.1 59.5 193M88.4 59.8Q107 60.1 119.6 73.7M49.9 81Q42.8 85.7 41.9 94.2M25.8 99Q45 138.3 51.1 181.7M68.4 131.2Q72.4 144.4 72.7 158.1M226 124Q210.2 131.5 202.7 147.3M180.8 144.4Q200.4 139.3 220 144.2M191.9 158.1Q189.8 166.2 193.6 173.7M112.4 35.3Q117.9 49 128.5 59.3M180.8 144.4Q181.3 154.8 178.4 164.8M34.2 110.6Q49.2 124.4 68.4 131.2M101.6 49.7Q94.1 53.6 88.4 59.8M158.2 96.6Q165.6 99.7 173.1 97.1M214 72.1Q207.4 76.3 203.9 83.4M75.1 116.7Q71.7 123.9 68.4 131.2M118.9 187Q113.6 201.5 119.6 215.8M63.1 109.8Q68 115.1 75.1 116.7M157.5 124.9Q164.3 140.4 180.8 144.4M72.7 158.1Q88.6 156.3 102.1 164.8M155.1 22Q169.5 27.9 178.4 40.6M64.3 76.9Q47.1 72.6 31.4 81M126.1 136.5Q117.2 143.6 111.2 153.3M92.5 86.5Q70.7 130.5 41 169.7M187.1 80.2Q197.6 87.7 206.3 97.1M189.5 94.7Q180.4 142.4 196.7 188.2M167.1 176.2Q170.2 192.2 183.9 200.9M106.4 111Q115.6 110.6 124.5 108.6M220.7 88.7Q184.7 137.2 126.1 152.1M57.8 94.7Q52.6 108.1 53.5 122.5M126.1 136.5Q134.1 139.3 139.9 145.6M139.9 145.6Q146.1 149.3 152.7 152.1M100.4 196.1Q152 174.4 194.3 137.7M203.2 123.2Q195.4 128.4 194.3 137.7M65.5 173Q60.2 180.4 51.1 181.7M139.9 145.6Q148.4 158.8 147.9 174.5M181 109.8Q189.6 112.7 197.6 108.6M49.9 81Q37.1 89 25.8 99M141.8 91.1Q140.4 98.2 136.5 104.3M172.4 28Q176.3 33.9 178.4 40.6M55.4 64.1Q49.1 79.4 41.9 94.2M226 124Q217.9 125.6 214 132.9M34.2 110.6Q35.1 119.4 39.1 127.3M191.9 158.1Q183.4 169.1 180.3 182.6M215.2 111Q199.1 119.9 194.3 137.7M73.9 65.8Q67.2 69.7 64.3 76.9M180.8 144.4Q189.8 157.9 193.6 173.7M151 53.3Q149.9 60.7 144.7 66.1M57.1 161Q58.9 168.7 65.5 173M214 72.1Q218.1 87.8 223.6 103.1M206.3 97.1Q214.2 102.3 223.6 103.1M118.9 187Q115.4 193.6 113.6 200.9M158.2 164.8Q167.3 177.8 168.8 193.5M70.8 90.6Q78 93.8 80 101.4M157.5 124.9Q172.8 118 188 124.9M157.5 124.9Q149.2 135.7 139.9 145.6M72.7 158.1Q75.9 166 83.6 169.7M155.1 22Q164.3 35.5 167.1 51.6M126.1 136.5Q114.1 150.6 102.1 164.8M167.1 176.2Q163.8 184.5 155.6 188.2M66.7 53.3Q54.7 63.9 39.1 67.3M122.5 18.4Q113.3 33 96.3 36M112.4 98.3Q120.4 101.2 124.5 108.6M100.4 196.1Q115.5 193.2 127.6 202.6M31.4 81Q45.9 91.1 48.7 108.6M167.1 112.2Q175.5 121.9 188 124.9M96.3 36Q93.8 68.1 96.1 100.2M107.6 20.1Q92.9 29.9 83.6 44.9M119.6 73.7Q128 71.1 135.1 76.2M112.4 98.3Q121.2 84.6 135.1 76.2M124.5 108.6Q133.6 122.3 146.2 132.9M137.5 45.6Q196.9 70.7 214 132.9M88.4 59.8Q94.2 64.7 98 71.3M144.7 66.1Q160.7 59.5 176 67.7M128.5 173Q132.7 166.4 139 161.7M144.7 66.1Q138.7 78.1 141.8 91.1M128.5 173Q145.6 174.2 155.6 188.2M67.9 97.8Q51.1 104.4 34.2 110.6M51.1 181.7Q67.3 191 85.2 196.6M107.6 20.1Q123.8 31.9 143.8 32.9M89.1 211Q109.3 156.8 157.5 124.9M106.4 179.3Q92 192 89.1 211M112.4 35.3Q108 48.1 111.2 61.2M178.4 40.6Q193.3 42.6 202.5 54.5M180.8 144.4Q168.3 153.3 158.2 164.8M101.6 49.7Q83.7 46.7 66.7 53.3M214 72.1Q198.6 69.6 187.1 80.2M49.9 138.4Q54.6 149.3 57.1 161M23.4 122Q27.4 142.4 45.1 153.3M214 72.1Q175.6 78.8 151 109.1M70.8 90.6Q57.2 99.3 41.9 94.2M168.8 193.5Q162.2 205 151.9 213.4M57.8 94.7Q68.4 99.8 80 101.4M167.1 112.2Q173.8 109.7 181 109.8M151 109.1Q149.6 121.2 146.2 132.9M101.6 126.8Q112.8 134.2 126.1 136.5M72.7 158.1Q78.4 172.3 91.5 180.2M167.1 112.2Q143.6 149.7 102.1 164.8M119.6 73.7Q109.1 86.6 92.5 86.5M167.1 176.2Q159.8 191.7 145.4 200.9M171.2 82.2Q168.7 97.1 167.1 112.2M100.4 196.1Q106.6 209.2 119.6 215.8M107.6 20.1Q93.6 27.8 78 31.2M139.9 145.6Q137.8 160.6 131.7 174.5M88.4 59.8Q99.9 58.7 111.2 61.2M144.7 66.1Q147.8 75 153.9 82.2M157.5 38.9Q161.5 56.7 176 67.7M51.1 181.7Q63.8 178.7 75.6 184.1M51.1 181.7Q56.4 196.8 71.5 202.1M111.2 61.2Q122.6 69.6 135.1 76.2M106.4 179.3Q98.1 190.8 85.2 196.6M112.4 35.3Q106.1 41.9 101.6 49.7M178.4 40.6Q185.4 43.6 192.8 42M34.2 110.6Q28.9 116.4 23.4 122M23.4 122Q32.5 121 39.1 127.3M178.4 40.6Q185.9 56.4 197.6 69.4M49.9 138.4Q39.1 144.4 30.6 153.3M57.1 161Q48.8 165 41 169.7M161.6 139.3Q148 148.2 139 161.7M158.2 164.8Q168.3 165.4 178.4 164.8M220 144.2Q206.9 153.1 191.9 158.1M57.1 161Q57.8 177 59.5 193M98 71.3Q109.1 70.1 119.6 73.7M23.4 122Q57.2 146.6 75.6 184.1M92.5 86.5Q90.8 100.9 90.8 115.3M39.1 127.3Q45.3 122 53.5 122.5M138.2 120.1Q140.2 127.7 146.2 132.9M155.1 22Q145.6 36.7 151 53.3M85.2 196.6Q117.7 147.4 173.8 129.2M41.9 94.2Q38.4 110.6 39.1 127.3M101.6 126.8Q97.6 141.2 90.8 154.5M171.2 82.2Q168.6 90.1 173.1 97.1M96.3 36Q87.2 46.2 88.4 59.8M202.5 54.5Q201.4 69 203.9 83.4M100.4 196.1Q107.9 196 113.6 200.9M128.5 173Q123.4 179.8 118.9 187M25.8 99Q34.1 118.4 30.6 139.3M106.4 111Q121 120 138.2 120.1M86 129.2Q146.5 124.2 202.7 147.3M55.4 64.1Q42.5 71.3 31.4 81M51.1 181.7Q54 188.3 59.5 193M135.8 188.9Q145.8 192.5 155.6 188.2M92.5 86.5Q80.9 84.5 70.8 90.6M215.2 111Q199.1 113.1 188 124.9M112.4 35.3Q97 44.2 88.4 59.8M92.5 86.5Q125.7 63.6 157.5 38.9M161.6 139.3Q158.1 146.4 152.7 152.1M23.4 122Q23.7 138.4 30.6 153.3M158.2 164.8Q176.2 168.2 193.6 173.7M48.7 108.6Q43.9 123.7 49.9 138.4M126.1 152.1Q133.9 155 139 161.7M91.5 180.2Q119.1 180.7 139 161.7M168.8 193.5Q164.7 200.3 166.4 208.1M57.8 94.7Q42 98.6 25.8 99M39.1 127.3Q54.3 125 68.4 131.2M220.7 88.7Q204.2 87.2 189.5 94.7M85.2 196.6Q90.6 202.9 89.1 211M101.6 126.8Q105.3 133 110.7 137.7M124.5 108.6Q126.5 117.4 120.8 124.4M139.4 17.7Q134.2 31.4 137.5 45.6M136.5 104.3Q134.1 112.6 138.2 120.1M119.6 73.7Q113.5 77 108.8 82.2M171.2 82.2Q179 80 187.1 80.2M66.7 53.3Q68.7 65.4 64.3 76.9M202.5 54.5Q209.3 62.6 214 72.1M31.4 81Q41.8 93.2 57.8 94.7M166.4 208.1Q159.5 211.7 151.9 213.4M147.9 174.5Q146.8 194.3 151.9 213.4M107.6 20.1Q115.4 21.9 122.5 18.4M81.2 80.2Q85.6 91.1 80 101.4M25.8 99Q45.3 104.1 53.5 122.5M144.7 66.1Q138.8 70.1 135.1 76.2M188 124.9Q206.5 130.4 220 144.2M157.5 38.9Q161.2 53.3 160.6 68.2M111.2 61.2Q123 51.1 137.5 45.6M197.6 69.4Q209.9 78.2 220.7 88.7M135.8 188.9Q141.9 193.8 145.4 200.9M139 161.7Q142.3 178.1 155.6 188.2M64.3 39.6Q51.7 53.5 39.1 67.3M92.5 86.5Q99.6 97.2 112.4 98.3M127.6 202.6Q138.2 211.5 151.9 213.4M153.9 82.2Q156.2 89.4 158.2 96.6M49.9 138.4Q54.4 145.2 62.4 146.6M161.6 139.3Q170.5 144.4 180.8 144.4M128.5 59.3Q141.1 61.4 151 53.3M128.5 59.3Q134.9 66.6 135.1 76.2M110.7 137.7Q119.8 143.4 126.1 152.1M220 144.2Q212 149.3 202.7 147.3M83.6 44.9Q97.3 54.5 98 71.3M220 144.2Q201.3 154 193.6 173.7M119.6 215.8Q130.6 205.1 145.4 200.9M206.3 97.1Q177.5 127.3 139.9 145.6M48.7 51.4Q47.7 66.3 49.9 81M196.7 188.2Q187.4 191.6 183.9 200.9M48.7 51.4Q44.1 78.5 25.8 99M41.9 94.2Q38.9 112.2 23.4 122M139.4 17.7Q154.4 27.5 172.4 28M86 129.2Q89.2 137.4 96.8 141.8M96.3 36Q79.5 41.2 66.7 53.3M202.5 54.5Q200.6 70.8 187.1 80.2M169.5 153.3Q180 158.8 191.9 158.1M136.5 104.3Q143.9 152.3 145.4 200.9M71.5 202.1Q88.4 207.3 104.5 214.6M107.6 20.1Q119.2 23.2 126.1 32.9M197.6 108.6Q174 108 157.5 124.9M45.1 153.3Q58.5 158.3 72.7 158.1M90.8 154.5Q120.4 192.8 166.4 208.1M197.6 108.6Q210 117.9 214 132.9M111.2 153.3Q139.3 156.7 161.6 139.3M139 161.7Q145.8 166.5 147.9 174.5M176 67.7Q191.5 72.8 203.9 83.4M126.1 152.1Q122.5 159.7 118.9 167.3M83.6 169.7Q141.5 170.6 196.7 188.2M92.5 86.5Q78.8 89.1 67.9 97.8M189.5 94.7Q193.8 101.5 197.6 108.6M153.9 82.2Q146.3 94.1 136.5 104.3M128.5 59.3Q135 45.4 143.8 32.9M161.6 139.3Q150.3 140.9 139.9 145.6M48.7 108.6Q61.2 114.8 75.1 116.7M92 22Q99.7 20.2 107.6 20.1M92 22Q107.6 33 118.9 48.5M119.6 215.8Q133 205.5 135.8 188.9M85.2 196.6Q78.1 198.8 71.5 202.1M220.7 88.7Q224.3 95.5 223.6 103.1M96.3 36Q80.1 35.8 64.3 39.6M202.5 54.5Q203.7 63.1 197.6 69.4M108.8 82.2Q112.9 97 106.4 111M146.2 132.9Q153.6 136.8 161.6 139.3M169.5 153.3Q173.5 159.4 178.4 164.8M147.9 174.5Q153.8 193.1 166.4 208.1M209.2 171.3Q201 178.3 196.7 188.2M80 101.4Q73.1 102.3 67.9 97.8M173.1 97.1Q181.8 99.1 189.5 94.7M188 124.9Q202.7 123.2 214 132.9M188 124.9Q180.9 150.7 158.2 164.8M64.3 39.6Q72.7 46.7 83.6 44.9M181 109.8Q181.1 126.9 194.3 137.7" fill="none" stroke="#6c5cb4" stroke-width="0.65" stroke-dasharray="1.4 0.9" opacity="0.8"/><path d="M34 70Q14 115 24 150Q28 162 34 168M48 50Q80 12 125 13Q172 14 203 45" fill="none" stroke="#dc9440" stroke-width="1.0"/><g fill="none" stroke="#dc9440" stroke-width="0.8"><circle cx="122.3" cy="12.9" r="2.8"/><circle cx="126.1" cy="28" r="2.5"/><circle cx="140" cy="13.5" r="2.2"/><circle cx="156.4" cy="17.7" r="2.3"/><circle cx="145" cy="27.5" r="2.8"/><circle cx="180.6" cy="37.5" r="2"/><circle cx="205.8" cy="51.9" r="2.2"/><circle cx="225" cy="87.5" r="2.3"/><circle cx="211.1" cy="96" r="2.5"/><circle cx="228.8" cy="102.4" r="2.7"/><circle cx="127.7" cy="207.8" r="2.7"/><circle cx="231.2" cy="124.4" r="2.7"/><circle cx="219.4" cy="133.9" r="2.8"/><circle cx="218.9" cy="160.7" r="3.1"/><circle cx="197.6" cy="177.1" r="2.7"/><circle cx="212.7" cy="173.6" r="2.2"/><circle cx="183.6" cy="186.6" r="2.7"/><circle cx="199.6" cy="191.2" r="2.2"/><circle cx="171.3" cy="198.1" r="2.7"/><circle cx="146.6" cy="206.3" r="2.8"/><circle cx="153.2" cy="218.4" r="2.7"/><circle cx="135" cy="220" r="2.2"/></g><circle cx="92" cy="22" r="2.9" fill="#c21a2c"/><circle cx="107.6" cy="20.1" r="3.4" fill="#c21a2c"/><circle cx="122.5" cy="18.4" r="3.8" fill="#c21a2c"/><circle cx="78" cy="31.2" r="3.4" fill="#c21a2c"/><circle cx="96.3" cy="36" r="4.3" fill="#e2a01c"/><circle cx="112.4" cy="35.3" r="2.4" fill="#ef8a1e"/><circle cx="126.1" cy="32.9" r="3.4" fill="#e2a01c"/><circle cx="64.3" cy="39.6" r="2.6" fill="#e2a01c"/><circle cx="83.6" cy="44.9" r="2.4" fill="#ef8a1e"/><circle cx="101.6" cy="49.7" r="4.1" fill="#c21a2c"/><circle cx="118.9" cy="48.5" r="3.4" fill="#55ade2"/><circle cx="48.7" cy="51.4" r="3.4" fill="#e2a01c"/><circle cx="66.7" cy="53.3" r="3.8" fill="#c21a2c"/><circle cx="88.4" cy="59.8" r="3.1" fill="#c21a2c"/><circle cx="111.2" cy="61.2" r="2.4" fill="#ef8a1e"/><circle cx="128.5" cy="59.3" r="2.9" fill="#e2a01c"/><circle cx="55.4" cy="64.1" r="3.8" fill="#c21a2c"/><circle cx="73.9" cy="65.8" r="4.1" fill="#e2a01c"/><circle cx="39.1" cy="67.3" r="3.1" fill="#e2a01c"/><circle cx="98" cy="71.3" r="2.9" fill="#c21a2c"/><circle cx="119.6" cy="73.7" r="2.9" fill="#c21a2c"/><circle cx="64.3" cy="76.9" r="2.6" fill="#c21a2c"/><circle cx="81.2" cy="80.2" r="3.8" fill="#c21a2c"/><circle cx="31.4" cy="81" r="3.1" fill="#c21a2c"/><circle cx="49.9" cy="81" r="4.8" fill="#55ade2"/><circle cx="108.8" cy="82.2" r="3.1" fill="#c21a2c"/><circle cx="92.5" cy="86.5" r="4.1" fill="#e2a01c"/><circle cx="70.8" cy="90.6" r="4.8" fill="#c21a2c"/><circle cx="124.5" cy="89.4" r="2.9" fill="#c21a2c"/><circle cx="41.9" cy="94.2" r="4.8" fill="#c21a2c"/><circle cx="57.8" cy="94.7" r="2.9" fill="#e2a01c"/><circle cx="112.4" cy="98.3" r="3.1" fill="#e2a01c"/><circle cx="96.1" cy="100.2" r="2.6" fill="#55ade2"/><circle cx="25.8" cy="99" r="2.9" fill="#c21a2c"/><circle cx="80" cy="101.4" r="4.3" fill="#ef8a1e"/><circle cx="67.9" cy="97.8" r="2" fill="#ef8a1e"/><circle cx="48.7" cy="108.6" r="4.8" fill="#e2a01c"/><circle cx="34.2" cy="110.6" r="4.3" fill="#c21a2c"/><circle cx="63.1" cy="109.8" r="4.6" fill="#c21a2c"/><circle cx="106.4" cy="111" r="3.6" fill="#55ade2"/><circle cx="124.5" cy="108.6" r="4.3" fill="#c21a2c"/><circle cx="139.4" cy="17.7" r="2.9" fill="#c21a2c"/><circle cx="155.1" cy="22" r="3.1" fill="#e2a01c"/><circle cx="172.4" cy="28" r="2.6" fill="#c21a2c"/><circle cx="143.8" cy="32.9" r="3.8" fill="#c21a2c"/><circle cx="157.5" cy="38.9" r="3.1" fill="#c21a2c"/><circle cx="178.4" cy="40.6" r="2.6" fill="#c21a2c"/><circle cx="192.8" cy="42" r="2.9" fill="#e2a01c"/><circle cx="137.5" cy="45.6" r="2.9" fill="#55ade2"/><circle cx="151" cy="53.3" r="4.3" fill="#55ade2"/><circle cx="167.1" cy="51.6" r="4.1" fill="#e2a01c"/><circle cx="184.7" cy="56.9" r="3.1" fill="#c21a2c"/><circle cx="202.5" cy="54.5" r="2.9" fill="#55ade2"/><circle cx="144.7" cy="66.1" r="4.3" fill="#c21a2c"/><circle cx="160.6" cy="68.2" r="2.6" fill="#c21a2c"/><circle cx="176" cy="67.7" r="2.9" fill="#1d69ab"/><circle cx="197.6" cy="69.4" r="3.8" fill="#e2a01c"/><circle cx="214" cy="72.1" r="3.1" fill="#c21a2c"/><circle cx="135.1" cy="76.2" r="3.4" fill="#ef8a1e"/><circle cx="153.9" cy="82.2" r="2.9" fill="#c21a2c"/><circle cx="171.2" cy="82.2" r="4.1" fill="#c21a2c"/><circle cx="187.1" cy="80.2" r="3.1" fill="#c21a2c"/><circle cx="203.9" cy="83.4" r="2.6" fill="#c21a2c"/><circle cx="220.7" cy="88.7" r="3.1" fill="#55ade2"/><circle cx="141.8" cy="91.1" r="3.6" fill="#e2a01c"/><circle cx="158.2" cy="96.6" r="4.3" fill="#c21a2c"/><circle cx="173.1" cy="97.1" r="3.1" fill="#c21a2c"/><circle cx="189.5" cy="94.7" r="4.6" fill="#c21a2c"/><circle cx="206.3" cy="97.1" r="3.4" fill="#c21a2c"/><circle cx="136.5" cy="104.3" r="4.1" fill="#e2a01c"/><circle cx="151" cy="109.1" r="3.8" fill="#c21a2c"/><circle cx="167.1" cy="112.2" r="3.6" fill="#c21a2c"/><circle cx="181" cy="109.8" r="4.3" fill="#c21a2c"/><circle cx="197.6" cy="108.6" r="4.8" fill="#c21a2c"/><circle cx="215.2" cy="111" r="4.1" fill="#c21a2c"/><circle cx="223.6" cy="103.1" r="3.6" fill="#e2a01c"/><circle cx="75.1" cy="116.7" r="4.3" fill="#c21a2c"/><circle cx="90.8" cy="115.3" r="3.6" fill="#e2a01c"/><circle cx="23.4" cy="122" r="2.9" fill="#c21a2c"/><circle cx="39.1" cy="127.3" r="3.1" fill="#c21a2c"/><circle cx="53.5" cy="122.5" r="2.9" fill="#c21a2c"/><circle cx="86" cy="129.2" r="3.8" fill="#c21a2c"/><circle cx="101.6" cy="126.8" r="3.8" fill="#c21a2c"/><circle cx="120.8" cy="124.4" r="4.3" fill="#55ade2"/><circle cx="68.4" cy="131.2" r="3.4" fill="#e6de38"/><circle cx="30.6" cy="139.3" r="3.6" fill="#55ade2"/><circle cx="49.9" cy="138.4" r="3.4" fill="#e2a01c"/><circle cx="78.7" cy="142.5" r="4.8" fill="#e2a01c"/><circle cx="96.8" cy="141.8" r="3.8" fill="#22a276"/><circle cx="110.7" cy="137.7" r="4.1" fill="#c21a2c"/><circle cx="126.1" cy="136.5" r="4.1" fill="#c21a2c"/><circle cx="62.4" cy="146.6" r="3.1" fill="#e6de38"/><circle cx="30.6" cy="153.3" r="2.9" fill="#e2a01c"/><circle cx="45.1" cy="153.3" r="2.9" fill="#c21a2c"/><circle cx="90.8" cy="154.5" r="2.9" fill="#55ade2"/><circle cx="111.2" cy="153.3" r="4.3" fill="#c21a2c"/><circle cx="126.1" cy="152.1" r="3.8" fill="#c21a2c"/><circle cx="57.1" cy="161" r="3.6" fill="#55ade2"/><circle cx="72.7" cy="158.1" r="4.1" fill="#c21a2c"/><circle cx="102.1" cy="164.8" r="4.3" fill="#c21a2c"/><circle cx="118.9" cy="167.3" r="4.3" fill="#c21a2c"/><circle cx="41" cy="169.7" r="2.9" fill="#1d69ab"/><circle cx="65.5" cy="173" r="3.8" fill="#e2a01c"/><circle cx="83.6" cy="169.7" r="3.6" fill="#c21a2c"/><circle cx="128.5" cy="173" r="3" fill="#e2a01c"/><circle cx="51.1" cy="181.7" r="2.9" fill="#e2a01c"/><circle cx="75.6" cy="184.1" r="3.1" fill="#c21a2c"/><circle cx="91.5" cy="180.2" r="3.1" fill="#c21a2c"/><circle cx="106.4" cy="179.3" r="2.6" fill="#c21a2c"/><circle cx="118.9" cy="187" r="2.4" fill="#e2a01c"/><circle cx="59.5" cy="193" r="2.2" fill="#e2a01c"/><circle cx="85.2" cy="196.6" r="2.6" fill="#c21a2c"/><circle cx="100.4" cy="196.1" r="3.1" fill="#e2a01c"/><circle cx="113.6" cy="200.9" r="3.6" fill="#55ade2"/><circle cx="127.6" cy="202.6" r="3.6" fill="#55ade2"/><circle cx="71.5" cy="202.1" r="2.9" fill="#c21a2c"/><circle cx="89.1" cy="211" r="3.1" fill="#c21a2c"/><circle cx="104.5" cy="214.6" r="2.9" fill="#c21a2c"/><circle cx="119.6" cy="215.8" r="3.1" fill="#c21a2c"/><circle cx="138.2" cy="120.1" r="4.8" fill="#1d69ab"/><circle cx="157.5" cy="124.9" r="4.1" fill="#55ade2"/><circle cx="173.8" cy="129.2" r="4.8" fill="#e2a01c"/><circle cx="188" cy="124.9" r="4.8" fill="#c21a2c"/><circle cx="203.2" cy="123.2" r="4.3" fill="#55ade2"/><circle cx="226" cy="124" r="3.6" fill="#c21a2c"/><circle cx="146.2" cy="132.9" r="4.6" fill="#c21a2c"/><circle cx="161.6" cy="139.3" r="3.6" fill="#c21a2c"/><circle cx="180.8" cy="144.4" r="3.8" fill="#c21a2c"/><circle cx="194.3" cy="137.7" r="4.8" fill="#c21a2c"/><circle cx="214" cy="132.9" r="3.8" fill="#e2a01c"/><circle cx="220" cy="144.2" r="4.8" fill="#c21a2c"/><circle cx="139.9" cy="145.6" r="4.3" fill="#c21a2c"/><circle cx="152.7" cy="152.1" r="2.6" fill="#c21a2c"/><circle cx="169.5" cy="153.3" r="5.3" fill="#c21a2c"/><circle cx="202.7" cy="147.3" r="4.8" fill="#c21a2c"/><circle cx="191.9" cy="158.1" r="3.1" fill="#e2a01c"/><circle cx="213.5" cy="158.1" r="4.1" fill="#c21a2c"/><circle cx="139" cy="161.7" r="5.5" fill="#c21a2c"/><circle cx="158.2" cy="164.8" r="3.8" fill="#55ade2"/><circle cx="178.4" cy="164.8" r="2.9" fill="#c21a2c"/><circle cx="131.7" cy="174.5" r="4.3" fill="#e2a01c"/><circle cx="147.9" cy="174.5" r="4.1" fill="#c21a2c"/><circle cx="167.1" cy="176.2" r="4.8" fill="#55ade2"/><circle cx="193.6" cy="173.7" r="3.6" fill="#c21a2c"/><circle cx="209.2" cy="171.3" r="2.9" fill="#e2a01c"/><circle cx="135.8" cy="188.9" r="3.6" fill="#c21a2c"/><circle cx="155.6" cy="188.2" r="4.1" fill="#c21a2c"/><circle cx="180.3" cy="182.6" r="3.6" fill="#e2a01c"/><circle cx="196.7" cy="188.2" r="2.9" fill="#e2a01c"/><circle cx="168.8" cy="193.5" r="3.6" fill="#e2a01c"/><circle cx="145.4" cy="200.9" r="3.8" fill="#c21a2c"/><circle cx="183.9" cy="200.9" r="2.9" fill="#e2a01c"/><circle cx="166.4" cy="208.1" r="2.9" fill="#c21a2c"/><circle cx="151.9" cy="213.4" r="3.6" fill="#55ade2"/><circle cx="134.6" cy="215.8" r="2.9" fill="#c21a2c"/><path d="M321.7 31.9Q336.2 33.5 349.1 26.7M361.9 25.4Q359 40 351 52.6M292.1 57.4Q303.6 65.2 317.4 67.1M363 54.3Q374 48.1 385.3 42.3M283.7 69.2Q280.9 83.3 274.1 95.9M317.4 67.1Q313.5 73.8 308.2 79.6M286.1 90.9Q300.5 95.4 315.4 92.8M330.6 90.4Q344.6 94.5 358.7 90.9M358.7 90.9Q366.4 102.2 378.8 107.9M305.8 103.6Q307.6 111.3 311.3 118.2M305.8 103.6Q314 116.1 315 131M359.5 104.1Q359.4 89.7 366.7 77.2M269.2 108.4Q271.5 122.3 275.3 135.8M371.5 14.1Q381.7 19.7 388.4 29.1M421.3 49Q427.5 46.6 434.1 45.9M421.3 49Q422.5 63.1 415.3 75.2M400.4 72.4Q398.7 79.3 393.7 84.4M430.2 73.6Q428.9 85.4 431.7 96.9M393.7 84.4Q406.4 87.6 416.5 95.9M376.4 86.3Q387.1 95.4 400.9 97.6M408.1 85.6Q405.3 92.1 400.9 97.6M400.9 97.6Q406.2 112.1 418.2 121.8M271.7 122.3Q278.8 122.2 285.6 124.2M260.1 130.3Q266.8 142.3 268.8 156M315 131Q329.6 129.4 344.3 130.3M305.8 143Q308.9 152.7 304.6 162M295.7 151.2Q295.3 161.2 293.8 171.2M314.5 153.6Q322.3 154.1 329.9 156M314.5 153.6Q322.9 165.6 321 180.1M329.9 156Q316.4 155.3 304.6 162M268.8 156Q277.7 157.5 286.1 160.8M344.3 162.7Q343.4 175.9 333.7 184.9M346.2 175.5Q344 190.7 352.2 203.6M333.7 184.9Q337.3 191.7 337.8 199.3M310.1 188.7Q319.9 197.2 325.8 208.9M347.4 189.2Q360.3 184.3 373.2 189.2M365.3 214.4Q379.3 207.3 394.9 209.6M391.8 110.3Q390.9 119.8 393.2 129.1M367.7 116.5Q369.6 123.6 372.5 130.3M367.7 116.5Q368.4 130.3 369.1 144M447.1 120.6Q436.1 130.4 422.1 135.1M461 118.2Q455.7 126.9 447.8 133.4M422.1 135.1Q415.4 139 412.9 146.4M434.1 137.5Q443.7 148.3 450.9 160.8M369.1 144Q373.2 149.2 379.7 150.2M404.5 156Q410.8 161 418.9 161.5M428.6 150.2Q439 159.8 442.3 173.6M443.7 148.8Q445.6 155.8 450.9 160.8" fill="none" stroke="#a0a8d8" stroke-width="0.6" opacity="0.8"/><path d="M401.4 22.3Q394.1 24.1 388.4 29.1M401.4 22.3Q396.6 29 388.4 29.1M344.3 130.3Q362 127.6 369.1 144M338.5 117.5Q345.4 120.7 352.2 117.5M365.3 214.4Q370.2 210.1 371.6 203.8M365.3 214.4Q365.6 207.4 371.6 203.8M358.7 129.5Q369.2 120.6 382.9 122.3M361.1 195.9Q360.6 207.5 352.2 215.6M361.1 195.9Q353.8 204.5 352.2 215.6M292.8 79.6Q301 91.5 315.4 92.8M425.4 85.6Q422.5 92.1 416.5 95.9M425.4 85.6Q417.7 88 416.5 95.9M432.6 112.7Q432.5 126.3 422.1 135.1M407.6 134.6Q392 137.9 391.3 153.8M315 131Q316.7 137.9 322.2 142.3M286.1 160.8Q278.9 161.8 274.5 167.5M286.1 160.8Q281.7 166.6 274.5 167.5M271.7 122.3Q278.4 127.8 275.3 135.8M271.7 122.3Q268.2 130.5 275.3 135.8M459.8 105.6Q453.2 108.1 446.1 107.4M459.8 105.6Q452.6 104.2 446.1 107.4M379.7 150.2Q377.5 156.9 370.8 159.1M333 103.6Q338.3 108.5 345 105.6M403.8 121.4Q408.8 134.4 397.3 142.3M401.4 22.3Q401.8 34.7 409.3 44.7M401.4 22.3Q412.8 30.9 409.3 44.7M285.6 124.2Q285.7 131.8 289.7 138.2M275.3 135.8Q282 139.8 289.7 138.2M275.3 135.8Q283 134.1 289.7 138.2M338.5 117.5Q330 120.6 328.9 129.5M319.8 105.6Q317.6 113.9 325.1 118.2M338.5 117.5Q355.2 123 354.6 140.6M329.9 156Q327.2 163.7 333 169.5M329.9 156Q333.1 162.4 333 169.5M408.1 203.1Q403.3 210 394.9 209.6M408.1 203.1Q399.9 203.1 394.9 209.6M352.2 117.5Q352.4 126.5 344.3 130.3M397.3 142.3Q393.3 154.1 395.6 166.3M436.5 161.5Q437.4 173.7 432.6 184.9M300 129.5Q287 135.7 280.1 148.3M300 129.5Q295.4 144.6 280.1 148.3M335.4 29.5Q344.6 31.2 345 40.6M335.4 29.5Q338.3 36.7 345 40.6M407.6 134.6Q394.7 129 383.6 137.5M310.1 188.7Q318.1 188.4 323.4 194.5M370.8 159.1Q381 170.2 395.6 166.3M282.5 111Q280.6 118.4 285.6 124.2M282.5 111Q289.2 116.4 285.6 124.2M447.1 120.6Q451.3 128.5 459.8 131M447.1 120.6Q457.1 121.3 459.8 131M436.5 161.5Q443.5 165.6 442.3 173.6M436.5 161.5Q436.8 168.8 442.3 173.6M386 15.8Q390 29.2 385.3 42.3M292.8 79.6Q300.3 82.5 301 90.4M292.8 79.6Q292.9 88.1 301 90.4M297.4 115.8Q277.8 126.2 280.1 148.3M297.4 115.8Q295.9 135.9 280.1 148.3M335.4 29.5Q331 41.9 336.6 53.8M335.4 29.5Q345.3 41.2 336.6 53.8M352.2 203.6Q347.6 209.6 352.2 215.6M286.1 90.9Q300.3 98.3 315.4 92.8M286.1 90.9Q301.1 85.7 315.4 92.8M401.4 22.3Q389.5 29.2 385.3 42.3M401.4 22.3Q396.9 35.2 385.3 42.3M338.5 117.5Q323.2 118.1 315 131M319.8 105.6Q311.8 109.4 311.3 118.2M399.7 36.3Q395.7 43.3 395.6 51.4M399.7 36.3Q400.6 44.7 395.6 51.4M421.3 108.6Q415.4 114.2 418.2 121.8M421.3 108.6Q422.4 115.8 418.2 121.8M321.7 31.9Q336.8 36.6 349.1 26.7M321.7 31.9Q334.4 23.8 349.1 26.7M397.3 142.3Q394.5 156.5 382.9 165.1M386 15.8Q395.4 14.9 401.4 22.3M386 15.8Q391.6 23.9 401.4 22.3M352.2 215.6Q359 217.5 365.3 214.4M335.4 29.5Q337.6 46.9 321.7 54.3M315 131Q329.4 121 344.3 130.3M427.8 170.4Q425.1 179.3 432.6 184.9M427.8 170.4Q434.8 176.1 432.6 184.9M430.2 73.6Q430.1 88.9 416.5 95.9M430.2 73.6Q414.6 79.4 416.5 95.9M293.8 171.2Q298.2 178.7 292.8 185.6M293.8 171.2Q290 178.2 292.8 185.6M382.9 122.3Q379.7 130.1 383.6 137.5M370.8 159.1Q374.8 166.3 382.9 165.1M325.1 118.2Q314.9 129.2 322.2 142.3M421.3 108.6Q428.1 107.6 432.6 112.7M421.3 108.6Q425.9 113.7 432.6 112.7M354.6 140.6Q339.8 144.4 329.9 156M397.3 142.3Q396.6 151.4 404.5 156M305.8 143Q310.2 152.8 304.6 162M305.8 143Q298.4 152.1 304.6 162M271.7 122.3Q278.2 126.5 285.6 124.2M271.7 122.3Q279.2 119.3 285.6 124.2M286.1 90.9Q293.5 88.2 301 90.4M432.2 60.3Q437.5 55.2 444.7 56.7M432.2 60.3Q439.8 63.1 444.7 56.7M382.9 122.3Q390.5 137.3 379.7 150.2M345 64.7Q336.6 68.7 337.8 77.9M345 64.7Q343.5 72.4 337.8 77.9M345 105.6Q337.5 117.7 344.3 130.3M445.4 94.5Q450.1 100.7 446.1 107.4M421.3 108.6Q408.8 109.9 403.8 121.4M421.3 108.6Q417.3 121.5 403.8 121.4M418.9 161.5Q411.6 164.5 411 172.4M297.4 115.8Q298.5 128.7 289.7 138.2M297.4 115.8Q286.5 124.6 289.7 138.2M393.2 129.1Q397.3 135.1 397.3 142.3M369.1 144Q367.2 151.9 370.8 159.1M345 105.6Q345.1 113.7 352.2 117.5M354.6 140.6Q351.4 148.4 343.3 150.7M276.9 57.2Q269.2 61.3 268.8 70M276.9 57.2Q276.5 65.9 268.8 70M415.3 75.2Q418.8 81.9 425.4 85.6M372 40.6Q379.6 55.2 395.6 51.4M344.3 130.3Q341.8 145.8 329.9 156M314.5 153.6Q322.7 151.7 329.9 156M393.2 129.1Q403.8 140.5 404.5 156M311.3 118.2Q321.5 121.6 328.9 129.5M343.3 150.7Q349.1 156.2 357 155.5M343.3 150.7Q352 147.8 357 155.5M306.5 176Q308.9 187.8 300 195.9M358.7 129.5Q360.6 139.1 369.1 144M382.9 122.3Q386.8 127.6 393.2 129.1M259.6 98.3Q266 92.1 274.1 95.9M259.6 98.3Q267.8 102.7 274.1 95.9M373.2 65.6Q371.9 76.4 376.4 86.3M325.1 118.2Q331.3 129.6 344.3 130.3M369.1 144Q377.8 154.4 391.3 153.8M345 105.6Q332.8 114.8 328.9 129.5M372.5 130.3Q376 145 370.8 159.1M336.1 140.6Q327.9 151.4 314.5 153.6M328.9 129.5Q334.1 134 336.1 140.6M295.7 151.2Q302.8 154.4 304.6 162M295.7 151.2Q298.3 158.2 304.6 162M372 40.6Q376.3 29.3 388.4 29.1M372 40.6Q382.2 37.7 388.4 29.1M391.3 153.8Q383.4 156.7 382.9 165.1M292.1 57.4Q299.7 54.7 307.7 56.2M292.1 57.4Q300.1 59.6 307.7 56.2M366.7 77.2Q369 84.4 376.4 86.3M344.3 130.3Q352.3 132.6 354.6 140.6M393.2 129.1Q375.2 127 369.1 144M311.3 118.2Q325 121.9 338.5 117.5M333 103.6Q333.6 113.4 325.1 118.2M325.1 118.2Q338.9 127.9 352.2 117.5M345 105.6Q337.7 109.4 338.5 117.5M295.7 151.2Q305.6 148.2 314.5 153.6M328.9 129.5Q315.5 137.9 314.5 153.6M397.3 195.2Q400 202.8 408.1 203.1M286.1 44.2Q293.8 48.7 292.1 57.4M286.1 44.2Q285.6 52.4 292.1 57.4M391.3 153.8Q397.3 158.4 404.5 156M372 40.6Q389.4 54 409.3 44.7M314.5 153.6Q328 143 343.3 150.7M393.2 129.1Q383.9 140.8 391.3 153.8M315.4 92.8Q314.4 101.5 305.8 103.6M315.4 92.8Q306.8 94.8 305.8 103.6M445.4 94.5Q451.7 91.7 458.6 92.8M311.3 118.2Q311.5 125.1 315 131M358.7 129.5Q373.1 127.3 383.6 137.5M327 19Q337.1 38.6 321.7 54.3M373.2 65.6Q378.6 80.2 393.7 84.4M357 155.5Q359.9 161.8 359.5 168.7M357 155.5Q355.9 162.5 359.5 168.7M369.1 144Q373 149.5 379.7 150.2M372.5 130.3Q379.1 132.3 383.6 137.5M328.9 129.5Q330.5 138.5 322.2 142.3M312.1 25.4Q307.3 43 321.7 54.3M312.1 25.4Q325 37.2 321.7 54.3M393.7 84.4Q388.4 89 386.9 95.9M393.7 84.4Q393.8 92.2 386.9 95.9M311.3 118.2Q318.2 113.8 325.1 118.2M306.5 176Q312.6 182.2 321 180.1M306.5 176Q314.4 175.8 321 180.1M358.7 129.5Q363.2 145.9 379.7 150.2M333 103.6Q326.8 117.8 311.3 118.2M343.3 150.7Q355.4 144.2 369.1 144M343.3 150.7Q359.5 146.7 370.8 159.1M373.2 65.6Q379.9 68.6 382.9 75.2M373.2 65.6Q374.5 74 382.9 75.2M322.2 142.3Q330.8 146.5 329.9 156M282.5 111Q290 130.2 280.1 148.3M299.3 33.4Q303.7 39.9 299.3 46.4M299.3 33.4Q297.6 39.9 299.3 46.4M345 105.6Q332.6 108 325.1 118.2M372.5 130.3Q381.1 138.4 379.7 150.2M328.9 42.3Q336.4 36.1 345 40.6M328.9 42.3Q337.6 47.4 345 40.6M328.9 129.5Q343.8 124.4 358.7 129.5M308.2 79.6Q315.7 84.1 315.4 92.8M308.2 79.6Q309 87.7 315.4 92.8M285.6 124.2Q276.1 126.1 275.3 135.8M285.6 124.2Q281.8 131.2 275.3 135.8M338.5 117.5Q343.7 129.7 336.1 140.6M383.6 137.5Q391.7 136.3 397.3 142.3M383.6 137.5Q392 151.5 382.9 165.1M352.2 117.5Q337.6 117.7 328.9 129.5M352.2 117.5Q359.8 128.4 354.6 140.6M328.9 42.3Q336.8 45.3 336.6 53.8M408.1 109.3Q410.9 117.4 418.2 121.8M408.1 109.3Q417.1 112.3 418.2 121.8M403.8 121.4Q407.5 135.5 422.1 135.1M403.8 121.4Q416.9 122.9 422.1 135.1M285.6 124.2Q291.2 131.3 300 129.5M393.7 84.4Q387 99.2 370.8 97.6M327 19Q332.7 23 335.4 29.5M327 19Q329.1 25.9 335.4 29.5M322.2 142.3Q329.9 153.5 343.3 150.7M372.5 130.3Q382.5 124.4 393.2 129.1M292.8 79.6Q291.3 96 305.8 103.6M292.8 79.6Q302.2 90 305.8 103.6M461 118.2Q464.4 125 459.8 131M354.6 140.6Q360.8 130.7 372.5 130.3M407.6 134.6Q405.6 142.6 412.9 146.4M315 131Q331.9 137.9 329.9 156M286.1 160.8Q290.6 171.2 281.8 178.4M286.1 160.8Q277.7 168.1 281.8 178.4M403.8 121.4Q398.7 135.7 383.6 137.5M310.1 188.7Q306.3 196.7 312.5 203.1M338.5 117.5Q334.6 132.7 322.2 142.3M383.6 137.5Q374.8 137.2 369.1 144M352.2 117.5Q348.6 132.1 336.1 140.6M322.2 142.3Q329.8 146.4 336.1 140.6M282.5 111Q282.1 125.7 289.7 138.2M305.8 143Q306.6 151.2 314.5 153.6M305.8 143Q313.9 145.2 314.5 153.6M335.4 29.5Q342.8 30.8 349.1 26.7M335.4 29.5Q341.7 25.5 349.1 26.7M299.3 46.4Q305.6 49.5 307.7 56.2M299.3 46.4Q300.8 53.6 307.7 56.2M352.2 203.6Q361.9 206 371.6 203.8M352.2 203.6Q362 197.2 371.6 203.8M403.8 121.4Q410.6 126.6 407.6 134.6M312.1 42.3Q318.7 46.9 321.7 54.3M312.1 42.3Q312.7 51.7 321.7 54.3M338.5 117.5Q345.7 128.3 358.7 129.5M329.9 156Q343.3 148.4 357 155.5M442.3 173.6Q439.5 181 432.6 184.9M442.3 173.6Q435.9 177.9 432.6 184.9M327 19Q329.3 27.5 321.7 31.9M327 19Q321.3 24.2 321.7 31.9M282.5 111Q291.4 108.9 297.4 115.8M282.5 111Q289.1 116.1 297.4 115.8M361.1 195.9Q359.1 202.6 352.2 203.6M361.1 195.9Q354.8 197.6 352.2 203.6M321 180.1Q326.4 186.6 323.4 194.5M397.3 142.3Q397.9 149.9 391.3 153.8M436.5 161.5Q421.7 162.1 411 172.4M436.5 161.5Q425.8 171.8 411 172.4M300 129.5Q289.5 140 275.3 135.8M412.9 146.4Q411.6 153.8 404.5 156M407.6 134.6Q404.9 141.7 397.3 142.3M358.7 129.5Q355.1 134.5 354.6 140.6M410 188.7Q405.4 201.3 394.9 209.6M410 188.7Q399.5 197 394.9 209.6M403.8 121.4Q417.2 131.7 432.6 124.7M403.8 121.4Q419.1 115.5 432.6 124.7M355.8 13.4Q356.8 20.4 361.9 25.4M355.8 13.4Q360.6 18.5 361.9 25.4M286.1 90.9Q291.9 103.5 305.8 103.6M401.4 22.3Q405.6 29.9 399.7 36.3M430.2 73.6Q423.6 77.9 425.4 85.6M430.2 73.6Q429.3 80.2 425.4 85.6M344.3 130.3Q358.4 126.1 372.5 130.3M319.8 105.6Q332.6 114.4 328.9 129.5M305.8 143Q298.3 144.1 295.7 151.2M305.8 143Q303.7 150.7 295.7 151.2M386 15.8Q396.6 32 395.6 51.4M458.6 92.8Q447.9 96.3 446.1 107.4M458.6 92.8Q454.8 102.2 446.1 107.4M382.9 75.2Q384.8 90.7 370.8 97.6M299.3 46.4Q292.4 49.7 292.1 57.4M407.6 134.6Q409 145.7 404.5 156M271.7 122.3Q275 136.7 289.7 138.2M404.5 156Q404 164.6 395.6 166.3M358.7 129.5Q346.3 136.7 343.3 150.7M338.5 117.5Q343.4 123 344.3 130.3M442.3 173.6Q429.6 172.9 420.6 182M442.3 173.6Q432.8 181.4 420.6 182M319.8 105.6Q333.5 104.7 338.5 117.5M321 180.1Q313.7 192.2 300 195.9M321 180.1Q306.9 183.2 300 195.9M397.3 142.3Q389.9 149.5 379.7 150.2M321.7 31.9Q336.3 28.5 345 40.6M386 15.8Q391.2 21.7 388.4 29.1M386 15.8Q383.8 23.1 388.4 29.1M352.2 215.6Q360.2 206.8 371.6 203.8M352.2 215.6Q364.6 214.1 371.6 203.8M370.8 97.6Q379.1 98.8 386.9 95.9M370.8 97.6Q378.4 92.8 386.9 95.9M358.7 129.5Q349.1 138.5 336.1 140.6M286.1 90.9Q287.8 97.6 292.8 102.4M286.1 90.9Q291.2 95.6 292.8 102.4M343.3 150.7Q334.6 148.3 329.9 156M382.9 122.3Q379.6 128.8 372.5 130.3M382.9 122.3Q393.2 130.1 397.3 142.3M319.8 105.6Q322.3 119.2 315 131M325.1 118.2Q324.2 124.8 328.9 129.5M447.1 120.6Q449.2 126.9 447.8 133.4M447.1 120.6Q445.1 127.1 447.8 133.4M345 40.6Q331.3 43.9 321.7 54.3M345 40.6Q338.6 56.4 321.7 54.3M386 15.8Q405.3 24.1 409.3 44.7M386 15.8Q390.1 36.4 409.3 44.7M418.9 161.5Q427.7 159 436.5 161.5M391.3 153.8Q379.7 151.3 370.8 159.1M418.9 161.5Q429 171.3 432.6 184.9M418.9 161.5Q420 176.6 432.6 184.9M366.7 77.2Q381.6 75.4 393.7 84.4M344.3 130.3Q338.8 134.3 336.1 140.6M314.5 153.6Q307.4 155.3 304.6 162M314.5 153.6Q311 159.5 304.6 162M352.2 203.6Q362 205.1 365.3 214.4M404.5 156Q396.2 166.4 382.9 165.1M336.6 53.8Q327.9 40.6 312.1 42.3M388.4 29.1Q388.4 41.4 395.6 51.4M382.9 122.3Q393.6 128.7 403.8 121.4M325.1 118.2Q332 121.9 338.5 117.5M398.5 180.1Q400.4 195.3 394.9 209.6M398.5 180.1Q389.4 194 394.9 209.6M397.3 142.3Q406.1 140.5 412.9 146.4M352.2 117.5Q364.9 119.8 372.5 130.3M321.7 31.9Q326.3 43.1 321.7 54.3M321.7 31.9Q317 43.1 321.7 54.3M418.9 161.5Q433.4 162.1 442.3 173.6M372 40.6Q379 38.5 385.3 42.3M372 40.6Q378.2 44.8 385.3 42.3M366.7 77.2Q375.3 80.5 382.9 75.2M393.2 129.1Q398.7 136.3 407.6 134.6M393.2 129.1Q392.7 143.6 379.7 150.2M336.6 53.8Q343.1 48.7 345 40.6M319.8 105.6Q332.4 110.5 345 105.6M315.4 92.8Q302.9 94.7 292.8 102.4M315.4 92.8Q305.7 101.4 292.8 102.4M330.6 66.3Q337.4 70.1 337.8 77.9M330.6 66.3Q330.3 74.5 337.8 77.9M311.3 118.2Q325.2 126.4 322.2 142.3M382.9 122.3Q379.5 135.4 369.1 144M268.8 156Q269.6 170.5 281.8 178.4M268.8 156Q281.4 163.6 281.8 178.4M325.1 118.2Q318 123 315 131M259.6 98.3Q266.4 101.5 269.2 108.4M325.1 118.2Q327 131.2 336.1 140.6M398.5 180.1Q406.7 181.1 410 188.7M321.7 31.9Q327 35.9 328.9 42.3M321.7 31.9Q322.8 38.8 328.9 42.3M297.4 115.8Q288.6 116 285.6 124.2M418.9 161.5Q427.1 171.1 420.6 182M344.3 130.3Q328.6 127.7 322.2 142.3M359.5 168.7Q353.8 173.9 346.2 175.5M359.5 168.7Q350.3 167.1 346.2 175.5M388.4 29.1Q404.7 29.1 409.3 44.7M333 103.6Q344 114.7 344.3 130.3M376.4 86.3Q383.9 88.6 386.9 95.9M376.4 86.3Q379.1 93.9 386.9 95.9M385.3 42.3Q392.7 44.3 395.6 51.4M385.3 42.3Q388.1 49.5 395.6 51.4M398.5 180.1Q394.8 195.2 408.1 203.1M398.5 180.1Q412.3 187.9 408.1 203.1M345 105.6Q357.6 114.2 358.7 129.5M328.9 129.5Q336.4 134.2 344.3 130.3M336.1 140.6Q338.6 150.5 329.9 156M344.3 162.7Q353.3 162.1 359.5 168.7M344.3 162.7Q349.6 171.6 359.5 168.7M415.3 75.2Q422.4 85.2 416.5 95.9M418.9 161.5Q421.8 167.5 427.8 170.4M344.3 130.3Q351.8 134.9 358.7 129.5M393.2 129.1Q407.3 132.9 412.9 146.4M319.8 105.6Q327 108.7 333 103.6M411 172.4Q427 165.2 442.3 173.6M411 172.4Q426.4 179.6 442.3 173.6M383.6 137.5Q385.7 153.3 370.8 159.1M333 103.6Q348 103.1 352.2 117.5M432.6 124.7Q424.9 127.5 422.1 135.1M373.2 65.6Q386.8 77.7 386.9 95.9M369.1 144Q383.6 149.5 397.3 142.3M369.1 144Q368.9 159.2 382.9 165.1M299.3 33.4Q310.3 42.3 307.7 56.2M336.1 140.6Q345.4 143.4 354.6 140.6M408.1 109.3Q402.4 114.1 403.8 121.4M408.1 109.3Q409.6 116.6 403.8 121.4M328.9 129.5Q321.9 143 329.9 156M372 40.6Q384.4 31.2 386 15.8M372 40.6Q370.8 23.5 386 15.8M400.4 72.4Q392.7 85.2 400.9 97.6M412.4 28.6Q419.4 29.8 423 35.8M412.4 28.6Q416.6 33.8 423 35.8M379.7 150.2Q382 163.9 395.6 166.3M358.7 129.5Q365.8 125.8 372.5 130.3M411 172.4Q417.9 175.1 420.6 182M411 172.4Q412.4 180.6 420.6 182M306.5 176Q321.4 179.3 323.4 194.5M306.5 176Q309.6 190.1 323.4 194.5M383.6 137.5Q390.3 144.3 391.3 153.8M333 103.6Q338.4 117.7 328.9 129.5M376.4 86.3Q372.2 91.2 370.8 97.6M376.4 86.3Q377.5 93.9 370.8 97.6M322.2 142.3Q320 149.1 314.5 153.6M357 155.5Q355.3 167.5 346.2 175.5M372.5 130.3Q380.4 145.5 397.3 142.3M385.3 42.3Q397.6 40.5 409.3 44.7M385.3 42.3Q396.9 47.1 409.3 44.7M328.9 42.3Q336.5 31.2 349.1 26.7M328.9 42.3Q342.3 38.8 349.1 26.7M336.1 140.6Q337.6 147.2 343.3 150.7M354.6 140.6Q360.7 147.1 369.1 144M328.9 129.5Q339.4 140.5 354.6 140.6M312.1 25.4Q315.8 30.2 321.7 31.9M312.1 25.4Q317.8 27.3 321.7 31.9M344.3 162.7Q337.6 164.3 333 169.5M344.3 162.7Q341.1 170.2 333 169.5M354.6 140.6Q358.7 153.3 370.8 159.1M308.2 79.6Q300.4 91.6 286.1 90.9M308.2 79.6Q292.7 76.5 286.1 90.9M372 40.6Q384.3 28.6 399.7 36.3M372 40.6Q386.9 45.1 399.7 36.3M285.6 124.2Q287.3 137.3 280.1 148.3M333 169.5Q346.4 173 359.5 168.7M333 169.5Q346 161.6 359.5 168.7M349.1 26.7Q342.3 32.2 345 40.6M411 172.4Q418.8 166.5 427.8 170.4M411 172.4Q420.1 177.3 427.8 170.4M333 103.6Q331.9 112.1 338.5 117.5M299.3 33.4Q304.9 48.1 292.1 57.4M328.9 129.5Q339.3 137.9 343.3 150.7M397.3 195.2Q400.9 203.2 394.9 209.6M397.3 195.2Q392.4 201.8 394.9 209.6M301 90.4Q299.1 98.5 305.8 103.6M301 90.4Q305.1 96.4 305.8 103.6M379.7 150.2Q384 157.1 382.9 165.1M403.8 121.4Q403.9 135.5 412.9 146.4M445.4 94.5Q449.4 104.3 459.8 105.6M445.4 94.5Q456.7 94.7 459.8 105.6M329.9 156Q339.6 174.2 359.5 168.7M327 19Q320.6 24.6 312.1 25.4M327 19Q318.4 19.5 312.1 25.4M383.6 137.5Q377.2 142.5 379.7 150.2M352.2 117.5Q352.7 125 358.7 129.5M282.5 111Q288.7 122.6 300 129.5M282.5 111Q296.6 115.2 300 129.5M292.8 79.6Q300.5 76.4 308.2 79.6M382.9 75.2Q383.9 83.2 376.4 86.3M354.6 140.6Q368.3 131.8 383.6 137.5M308.2 79.6Q308.2 96.2 292.8 102.4M379.7 150.2Q390.3 160.8 404.5 156M403.8 121.4Q410.9 126.5 418.2 121.8M403.8 121.4Q411.1 119.4 418.2 121.8" fill="none" stroke="#e08a30" stroke-width="1.2" opacity="0.9"/><circle cx="327" cy="19" r="2.4" fill="#e8dc32"/><circle cx="312.1" cy="25.4" r="2.4" fill="#c2182c"/><circle cx="321.7" cy="31.9" r="2.4" fill="#e8dc32"/><circle cx="335.4" cy="29.5" r="2.2" fill="#c2182c"/><circle cx="328.9" cy="42.3" r="2.4" fill="#c2182c"/><circle cx="336.6" cy="53.8" r="3.1" fill="#1f9a6c"/><circle cx="341.4" cy="15.1" r="2.4" fill="#e8dc32"/><circle cx="355.8" cy="13.4" r="2.4" fill="#c2182c"/><circle cx="349.1" cy="26.7" r="2.4" fill="#c2182c"/><circle cx="361.9" cy="25.4" r="2.4" fill="#e8dc32"/><circle cx="345" cy="40.6" r="2.2" fill="#d07ab2"/><circle cx="358.7" cy="39.9" r="2.4" fill="#4caae2"/><circle cx="299.3" cy="33.4" r="2.6" fill="#c2182c"/><circle cx="286.1" cy="44.2" r="2.6" fill="#e8dc32"/><circle cx="299.3" cy="46.4" r="2.6" fill="#1f9a6c"/><circle cx="312.1" cy="42.3" r="2.6" fill="#1f9a6c"/><circle cx="292.1" cy="57.4" r="2.6" fill="#e8dc32"/><circle cx="307.7" cy="56.2" r="2.6" fill="#1f9a6c"/><circle cx="321.7" cy="54.3" r="2.2" fill="#e8dc32"/><circle cx="351" cy="52.6" r="2.4" fill="#c2182c"/><circle cx="363" cy="54.3" r="2.4" fill="#e8dc32"/><circle cx="345" cy="64.7" r="2.4" fill="#1f9a6c"/><circle cx="358.3" cy="65.6" r="2.4" fill="#e8dc32"/><circle cx="276.9" cy="57.2" r="2.4" fill="#c2182c"/><circle cx="283.7" cy="69.2" r="2.4" fill="#c2182c"/><circle cx="268.8" cy="70" r="2.2" fill="#1f9a6c"/><circle cx="301" cy="68.3" r="1.9" fill="#1f9a6c"/><circle cx="317.4" cy="67.1" r="1.9" fill="#1f9a6c"/><circle cx="330.6" cy="66.3" r="2.4" fill="#c2182c"/><circle cx="276.5" cy="81.5" r="2.4" fill="#c2182c"/><circle cx="337.8" cy="77.9" r="2.4" fill="#4caae2"/><circle cx="352.2" cy="78.4" r="2.4" fill="#c2182c"/><circle cx="263.2" cy="84.4" r="1.9" fill="#1f9a6c"/><circle cx="292.8" cy="79.6" r="2.9" fill="#1f9a6c"/><circle cx="308.2" cy="79.6" r="2.9" fill="#4caae2"/><circle cx="322.2" cy="80.1" r="2.4" fill="#1f9a6c"/><circle cx="286.1" cy="90.9" r="2.9" fill="#c2182c"/><circle cx="301" cy="90.4" r="3.4" fill="#4caae2"/><circle cx="315.4" cy="92.8" r="3.4" fill="#4caae2"/><circle cx="330.6" cy="90.4" r="2.4" fill="#c2182c"/><circle cx="345" cy="91.6" r="2.2" fill="#d07ab2"/><circle cx="358.7" cy="90.9" r="2.6" fill="#c2182c"/><circle cx="259.6" cy="98.3" r="2.4" fill="#4caae2"/><circle cx="274.1" cy="95.9" r="2.4" fill="#e8dc32"/><circle cx="292.8" cy="102.4" r="2.9" fill="#1f9a6c"/><circle cx="305.8" cy="103.6" r="2.6" fill="#c2182c"/><circle cx="319.8" cy="105.6" r="4.1" fill="#4caae2"/><circle cx="333" cy="103.6" r="4.1" fill="#c2182c"/><circle cx="345" cy="105.6" r="3.6" fill="#c2182c"/><circle cx="359.5" cy="104.1" r="2.6" fill="#1f9a6c"/><circle cx="269.2" cy="108.4" r="2.4" fill="#c2182c"/><circle cx="371.5" cy="14.1" r="2.4" fill="#e8dc32"/><circle cx="374.9" cy="27.4" r="2.4" fill="#e8dc32"/><circle cx="372" cy="40.6" r="2.2" fill="#c2182c"/><circle cx="386" cy="15.8" r="2.2" fill="#c2182c"/><circle cx="401.4" cy="22.3" r="2.6" fill="#e8dc32"/><circle cx="412.4" cy="28.6" r="2.2" fill="#1f9a6c"/><circle cx="388.4" cy="29.1" r="2.6" fill="#e8dc32"/><circle cx="399.7" cy="36.3" r="3.1" fill="#1f9a6c"/><circle cx="423" cy="35.8" r="2.6" fill="#1f9a6c"/><circle cx="385.3" cy="42.3" r="2.6" fill="#e8dc32"/><circle cx="409.3" cy="44.7" r="2.6" fill="#1f9a6c"/><circle cx="395.6" cy="51.4" r="2.6" fill="#c2182c"/><circle cx="379.7" cy="53.8" r="2.6" fill="#4caae2"/><circle cx="421.3" cy="49" r="2.6" fill="#1f9a6c"/><circle cx="434.1" cy="45.9" r="2.2" fill="#4caae2"/><circle cx="406.2" cy="59.8" r="2.2" fill="#1f9a6c"/><circle cx="418.9" cy="62.7" r="2.4" fill="#1f9a6c"/><circle cx="432.2" cy="60.3" r="2.4" fill="#1f9a6c"/><circle cx="444.7" cy="56.7" r="2.4" fill="#4caae2"/><circle cx="390.1" cy="63.9" r="2.6" fill="#e8dc32"/><circle cx="373.2" cy="65.6" r="2.6" fill="#4caae2"/><circle cx="366.7" cy="77.2" r="2.6" fill="#c2182c"/><circle cx="382.9" cy="75.2" r="2.6" fill="#4caae2"/><circle cx="400.4" cy="72.4" r="2.4" fill="#e8940e"/><circle cx="415.3" cy="75.2" r="2.6" fill="#c2182c"/><circle cx="430.2" cy="73.6" r="2.6" fill="#c2182c"/><circle cx="447.8" cy="69.5" r="2.2" fill="#c2182c"/><circle cx="393.7" cy="84.4" r="2.4" fill="#e8940e"/><circle cx="376.4" cy="86.3" r="2.9" fill="#c2182c"/><circle cx="408.1" cy="85.6" r="2.6" fill="#1f9a6c"/><circle cx="425.4" cy="85.6" r="2.6" fill="#c2182c"/><circle cx="440.6" cy="82" r="2.4" fill="#c2182c"/><circle cx="455" cy="80.1" r="2.2" fill="#d07ab2"/><circle cx="370.8" cy="97.6" r="2.6" fill="#d07ab2"/><circle cx="386.9" cy="95.9" r="2.4" fill="#c2182c"/><circle cx="400.9" cy="97.6" r="2.4" fill="#e8940e"/><circle cx="416.5" cy="95.9" r="2.4" fill="#1f9a6c"/><circle cx="431.7" cy="96.9" r="2.6" fill="#1f9a6c"/><circle cx="445.4" cy="94.5" r="2.6" fill="#1f9a6c"/><circle cx="458.6" cy="92.8" r="2.4" fill="#4caae2"/><circle cx="459.8" cy="105.6" r="2.6" fill="#c2182c"/><circle cx="282.5" cy="111" r="2.4" fill="#e8dc32"/><circle cx="258.4" cy="115.1" r="1.9" fill="#1f9a6c"/><circle cx="297.4" cy="115.8" r="2.4" fill="#1f9a6c"/><circle cx="271.7" cy="122.3" r="2.6" fill="#e8dc32"/><circle cx="285.6" cy="124.2" r="2.4" fill="#1f9a6c"/><circle cx="311.3" cy="118.2" r="4.1" fill="#c2182c"/><circle cx="325.1" cy="118.2" r="4.1" fill="#4caae2"/><circle cx="338.5" cy="117.5" r="4.1" fill="#4caae2"/><circle cx="352.2" cy="117.5" r="3.8" fill="#4caae2"/><circle cx="260.1" cy="130.3" r="1.9" fill="#c2182c"/><circle cx="300" cy="129.5" r="3.4" fill="#1f9a6c"/><circle cx="315" cy="131" r="4.1" fill="#1f9a6c"/><circle cx="328.9" cy="129.5" r="4.1" fill="#4caae2"/><circle cx="344.3" cy="130.3" r="4.1" fill="#4caae2"/><circle cx="358.7" cy="129.5" r="3.8" fill="#4caae2"/><circle cx="275.3" cy="135.8" r="2.6" fill="#4caae2"/><circle cx="289.7" cy="138.2" r="2.6" fill="#c2182c"/><circle cx="264.4" cy="143" r="2.6" fill="#4caae2"/><circle cx="305.8" cy="143" r="2.6" fill="#4caae2"/><circle cx="322.2" cy="142.3" r="4.1" fill="#4caae2"/><circle cx="336.1" cy="140.6" r="4.1" fill="#c2182c"/><circle cx="354.6" cy="140.6" r="5.5" fill="#4caae2"/><circle cx="280.1" cy="148.3" r="2.6" fill="#c2182c"/><circle cx="295.7" cy="151.2" r="2.6" fill="#1f9a6c"/><circle cx="314.5" cy="153.6" r="2.4" fill="#1f9a6c"/><circle cx="343.3" cy="150.7" r="3.1" fill="#e8dc32"/><circle cx="329.9" cy="156" r="2.9" fill="#c2182c"/><circle cx="357" cy="155.5" r="3.1" fill="#e8dc32"/><circle cx="268.8" cy="156" r="2.4" fill="#c2182c"/><circle cx="304.6" cy="162" r="2.6" fill="#e8dc32"/><circle cx="286.1" cy="160.8" r="2.2" fill="#c2182c"/><circle cx="344.3" cy="162.7" r="2.9" fill="#c2182c"/><circle cx="274.5" cy="167.5" r="2.4" fill="#c8c8c8"/><circle cx="319" cy="167.1" r="2.2" fill="#e8dc32"/><circle cx="333" cy="169.5" r="2.9" fill="#4caae2"/><circle cx="359.5" cy="168.7" r="2.9" fill="#d07ab2"/><circle cx="293.8" cy="171.2" r="2.6" fill="#4caae2"/><circle cx="346.2" cy="175.5" r="2.9" fill="#1f9a6c"/><circle cx="306.5" cy="176" r="2.6" fill="#4caae2"/><circle cx="281.8" cy="178.4" r="2.6" fill="#1f9a6c"/><circle cx="321" cy="180.1" r="2.6" fill="#4caae2"/><circle cx="360.2" cy="181.5" r="2.2" fill="#c2182c"/><circle cx="292.8" cy="185.6" r="2.2" fill="#c2182c"/><circle cx="333.7" cy="184.9" r="2.2" fill="#c2182c"/><circle cx="310.1" cy="188.7" r="2.6" fill="#4caae2"/><circle cx="347.4" cy="189.2" r="2.2" fill="#c2182c"/><circle cx="300" cy="195.9" r="2.6" fill="#c2182c"/><circle cx="323.4" cy="194.5" r="2.6" fill="#4caae2"/><circle cx="361.1" cy="195.9" r="2.9" fill="#1f9a6c"/><circle cx="337.8" cy="199.3" r="2.6" fill="#c2182c"/><circle cx="312.5" cy="203.1" r="2.6" fill="#c2182c"/><circle cx="352.2" cy="203.6" r="2.9" fill="#1f9a6c"/><circle cx="325.8" cy="208.9" r="2.2" fill="#e8dc32"/><circle cx="339" cy="212" r="2.6" fill="#4caae2"/><circle cx="352.2" cy="215.6" r="2.6" fill="#1f9a6c"/><circle cx="365.3" cy="214.4" r="2.6" fill="#1f9a6c"/><circle cx="380.3" cy="213.9" r="2.6" fill="#c2182c"/><circle cx="371.6" cy="203.8" r="2.6" fill="#4caae2"/><circle cx="378.8" cy="107.9" r="2.6" fill="#4caae2"/><circle cx="391.8" cy="110.3" r="2.6" fill="#4caae2"/><circle cx="408.1" cy="109.3" r="2.6" fill="#c2182c"/><circle cx="421.3" cy="108.6" r="2.6" fill="#1f9a6c"/><circle cx="432.6" cy="112.7" r="2.6" fill="#1f9a6c"/><circle cx="446.1" cy="107.4" r="2.4" fill="#c2182c"/><circle cx="367.7" cy="116.5" r="2.2" fill="#4caae2"/><circle cx="382.9" cy="122.3" r="3.4" fill="#1f9a6c"/><circle cx="403.8" cy="121.4" r="2.6" fill="#d07ab2"/><circle cx="418.2" cy="121.8" r="2.9" fill="#c2182c"/><circle cx="432.6" cy="124.7" r="2.9" fill="#4caae2"/><circle cx="447.1" cy="120.6" r="2.2" fill="#d07ab2"/><circle cx="461" cy="118.2" r="2.2" fill="#1f9a6c"/><circle cx="372.5" cy="130.3" r="3.6" fill="#c2182c"/><circle cx="393.2" cy="129.1" r="3.6" fill="#1f9a6c"/><circle cx="407.6" cy="134.6" r="4.1" fill="#e8dc32"/><circle cx="422.1" cy="135.1" r="2.9" fill="#1f9a6c"/><circle cx="434.1" cy="137.5" r="2.9" fill="#1f9a6c"/><circle cx="459.8" cy="131" r="2.4" fill="#c2182c"/><circle cx="447.8" cy="133.4" r="2.2" fill="#4caae2"/><circle cx="383.6" cy="137.5" r="3.8" fill="#1f9a6c"/><circle cx="369.1" cy="144" r="3.8" fill="#4caae2"/><circle cx="397.3" cy="142.3" r="3.8" fill="#c2182c"/><circle cx="412.9" cy="146.4" r="4.3" fill="#1f9a6c"/><circle cx="379.7" cy="150.2" r="4.1" fill="#c2182c"/><circle cx="391.3" cy="153.8" r="3.8" fill="#c2182c"/><circle cx="404.5" cy="156" r="3.8" fill="#4caae2"/><circle cx="428.6" cy="150.2" r="1.9" fill="#1f9a6c"/><circle cx="443.7" cy="148.8" r="1.9" fill="#e8940e"/><circle cx="456.2" cy="145.9" r="1.9" fill="#1f9a6c"/><circle cx="370.8" cy="159.1" r="3.6" fill="#1f9a6c"/><circle cx="382.9" cy="165.1" r="3.6" fill="#c2182c"/><circle cx="395.6" cy="166.3" r="3.8" fill="#4caae2"/><circle cx="418.9" cy="161.5" r="2.6" fill="#d07ab2"/><circle cx="436.5" cy="161.5" r="2.6" fill="#1f9a6c"/><circle cx="450.9" cy="160.8" r="1.9" fill="#d07ab2"/><circle cx="411" cy="172.4" r="2.9" fill="#1f9a6c"/><circle cx="427.8" cy="170.4" r="2.6" fill="#c2182c"/><circle cx="442.3" cy="173.6" r="2.6" fill="#1f9a6c"/><circle cx="373.2" cy="174.8" r="2.4" fill="#4caae2"/><circle cx="398.5" cy="180.1" r="2.4" fill="#e8940e"/><circle cx="386" cy="182.7" r="2.4" fill="#c2182c"/><circle cx="420.6" cy="182" r="2.9" fill="#4caae2"/><circle cx="432.6" cy="184.9" r="2.6" fill="#c2182c"/><circle cx="373.2" cy="189.2" r="2.6" fill="#e8dc32"/><circle cx="410" cy="188.7" r="2.4" fill="#d8b8b0"/><circle cx="397.3" cy="195.2" r="2.4" fill="#d8b8b0"/><circle cx="384.5" cy="198.1" r="2.6" fill="#e8dc32"/><circle cx="421.3" cy="196.4" r="2.2" fill="#e8dc32"/><circle cx="408.1" cy="203.1" r="2.2" fill="#d07ab2"/><circle cx="394.9" cy="209.6" r="2.6" fill="#e8dc32"/><path d="M150.1 437.7Q153.5 450.2 147.7 461.8M116.3 363Q111.2 372.7 115.8 382.6M73 352.2Q78.9 363.4 87.5 372.6M172.9 384.3Q181.6 386.5 189.8 382.9M142.9 382.6Q158.5 388 165.7 402.9M216.2 376.7Q147 357.6 82.2 388.4M206.6 386.7Q193 391.9 179.7 398M136.8 338.9Q140.6 351.9 134 363.7M76.2 443Q87.7 447.1 99 451.7M111.5 459.4Q122.4 445.6 139.7 448.6M46.1 396.4Q38.8 410.3 23.2 412.5M73 352.2Q70.8 362.9 72.1 373.8M88.9 414.9Q98.5 417.2 102.6 426.2M105.7 473.8Q113.2 477.9 121.5 476M189.8 382.9Q180.6 396.3 165.7 402.9M111.5 459.4Q126.6 462.7 137.3 473.8M102.6 426.2Q106 442.3 121.6 447.4M181.3 368.5Q190.6 363.9 198.2 370.9M116.3 363Q130.2 383.1 150.1 397.3M95.4 304.8Q82 306.2 75.4 318M94.2 400.4Q101.3 412.3 102.6 426.2M172.9 384.3Q187.5 383.9 195.1 396.4M102.6 410.8Q106.4 425.6 111 440.1M102.6 410.8Q114.1 399 129.6 393.2M189.8 382.9Q196.9 390.5 206.6 386.7M134 363.7Q150 367.8 166.2 370.9M150.1 397.3Q159.6 395.4 165.7 402.9M175.8 473.8Q168.2 479.2 159 480.6M72.1 373.8Q134.2 331.7 198.2 370.9M47.3 337.3Q56.3 351.3 73 352.2M137.3 473.8Q156.6 485.8 175.8 473.8M194.6 327.6Q196.7 350.9 181.3 368.5M23.2 412.5Q22.2 429.6 32.9 443M129.6 393.2Q129.6 402.1 138 405.3M150.1 437.7Q164.7 443.1 172.4 456.5M65.3 431.7Q70.9 451.3 78.6 470.2M60 403.6Q42.3 410.8 23.2 412.5M100.9 355.8Q101.4 363.8 105 370.9M211.4 417.3Q204.1 424.6 194.6 420.4M172.4 456.5Q178.5 464.3 175.8 473.8M19.1 371.9Q27.8 391.5 23.2 412.5M211.4 417.3Q197.5 423.7 183.7 430.5M99 451.7Q101.4 463 105.7 473.8M111 290.1Q101.4 295.6 95.4 304.8M113.9 397.3Q116.4 403.6 120.5 408.9M105.7 473.8Q96.5 486.4 81 483.9M94.2 322.8Q29.7 331.9 16 395.6M31.2 340.1Q32.4 359.3 49.7 367.8M111.5 459.4Q113.5 469.5 121.5 476M54.5 419.7Q40.7 432 23.2 426.2M189.8 382.9Q179.8 387.2 179.7 398M183.7 430.5Q185.4 446 188.6 461.3M160.4 466.1Q147.6 466.1 137.3 473.8M205.4 431Q206.4 451.4 188.6 461.3M115.8 382.6Q117.7 395.8 120.5 408.9M111.5 459.4Q94.7 468.2 96.6 487M49.7 367.8Q35.2 375.5 19.1 371.9M216.2 376.7Q191.4 376.2 179.7 398M168.1 340.6Q180 352.1 181.3 368.5M116.3 363Q125.2 362.1 134 363.7M168.1 340.6Q182.3 348.9 196.5 357M25.6 383.2Q42.3 394.3 60 403.6M112.2 345.4Q122 355.9 134 363.7M168.1 340.6Q186.4 349.2 206.1 345M150.1 437.7Q163.6 457.3 159 480.6M194.6 327.6Q181.7 334.9 168.1 340.6M150.8 370.2Q158.7 365.2 166.2 370.9" fill="none" stroke="#6db823" stroke-width="0.7" opacity="0.75"/><path d="M94.2 437.7Q102.1 442.4 111 440.1M139.7 448.6Q150.1 457.3 160.4 466.1M110.6 303.3Q109 318.6 94.2 322.8M46.1 396.4Q54.2 397.8 60 403.6M144.1 424.5Q151 429.3 150.1 437.7M161.4 426.4Q164.1 433.6 170.5 437.7M88.9 414.9Q102.8 402.1 120.5 408.9M139.7 448.6Q147.6 452.8 147.7 461.8M89.9 343.7Q137.5 330.9 166.2 370.9M153.2 341.3Q149.3 348.8 146 356.5M34.5 366.6Q34.5 383.7 31.2 400.4M76.2 443Q80.5 447.5 84.1 452.6M79.8 306Q89.1 331.8 85.1 358.9M46.1 396.4Q35.3 409.4 36.9 426.2M160.4 466.1Q149.5 473.7 144.1 485.8M150.1 294.9Q163.6 336.1 206.1 345M102.6 410.8Q137.9 412.8 172.9 417.3M94.2 400.4Q110.3 395.5 120.5 408.9M150.1 294.9Q153.7 295 155.6 298M170.5 437.7Q176 452.2 188.6 461.3M160.4 466.1Q163.6 473.7 159 480.6M75.4 318Q68.2 326.6 66.5 337.7M150.1 397.3Q145.1 433.2 160.4 466.1M93 292Q72.7 317.1 41.3 324.5M16 395.6Q32.9 396.4 42 410.8M170.5 437.7Q174.6 455.2 160.4 466.1M150.1 397.3Q155.3 412.7 144.1 424.5M24.4 353.4Q32.7 352.2 40.8 354.6M81 483.9Q88.8 485.4 96.6 487M102.6 410.8Q111.6 410.4 120.5 408.9M170.5 437.7Q162.4 458.5 159 480.6M34.5 366.6Q65 377.5 96.6 384.4M89.9 343.7Q88.4 362.3 105 370.9M115.8 382.6Q101.3 401.2 77.8 402.9M218.1 396.8Q208.1 447.1 160.4 466.1M75.4 294.4Q70.8 302.4 61.7 301.2M23.2 426.2Q60.3 424 84.1 452.6M146 356.5Q152.5 370.5 142.9 382.6M161.4 426.4Q180.1 428.8 185.4 446.9M25.6 383.2Q23.7 404.7 23.2 426.2M196.5 357Q204.9 358.3 212.6 361.8M161.4 426.4Q152 428.3 150.1 437.7M175.8 312.5Q184.7 320.6 194.6 327.6M105.7 473.8Q129.5 477.5 147.7 461.8M55.2 349.8Q30.1 349.3 19.1 371.9M94.2 437.7Q81.8 451.7 78.6 470.2M139.7 448.6Q135 460.9 137.3 473.8M161.4 426.4Q148 437.7 130.8 434.8M55.2 349.8Q49.7 364.2 34.5 366.6M23.2 412.5Q32.9 414.5 42 410.8M200.6 443.7Q193.6 448 185.4 446.9M41.3 324.5Q32.3 339.4 40.8 354.6M24.4 353.4Q30.6 376.5 31.2 400.4M118.3 424.5Q124.3 435.3 121.6 447.4M200.6 443.7Q176.5 447.8 160.4 466.1M138 405.3Q134.8 411.9 131.5 418.5M102.6 410.8Q115.7 419.7 131.5 418.5M144.1 424.5Q155.1 435.6 170.5 437.7M194.6 327.6Q156.2 369.2 144.1 424.5M134 363.7Q134.2 371.5 128.4 376.7M120.5 408.9Q113.2 423.7 111 440.1M41.3 324.5Q47.4 329.5 47.3 337.3M61.7 301.2Q95.2 289.2 130.8 289.1M31.2 340.1Q31.3 358.3 19.1 371.9M179.7 398Q151 410.8 130.8 434.8M34.5 366.6Q32.6 384.5 46.1 396.4M84.1 452.6Q62.9 441.4 43.2 455.1M79.8 306Q66.1 326.7 41.3 324.5M170.5 437.7Q176.2 455.3 175.8 473.8M216.2 376.7Q187.3 405.3 200.6 443.7M176.5 330.5Q167.3 341.1 153.2 341.3M82.2 428.1Q92.2 438.7 99 451.7M96.6 384.4Q104.5 391.9 113.9 397.3M121.6 447.4Q121.8 461.7 121.5 476M84.1 452.6Q91.5 451.7 99 451.7M42 410.8Q37.8 424.8 23.2 426.2M66.5 337.7Q79.9 334 89.9 343.7M96.6 384.4Q94.2 400 88.9 414.9M126.7 302.9Q142.8 309 142.9 326.2M150.1 437.7Q166 449.2 185.4 446.9M150.8 370.2Q140.4 381.9 129.6 393.2M85.1 358.9Q74.9 365.5 62.9 363.7M158.5 449.8Q147.2 465.2 128.4 461.8M150.1 437.7Q158.9 450.6 160.4 466.1M85.1 358.9Q95.1 364.8 105 370.9M61.7 301.2Q72.8 319.7 94.2 322.8M150.1 437.7Q151.8 445.5 158.5 449.8M23.2 426.2Q30 428.6 36.9 426.2M158.5 449.8Q164 456.1 172.4 456.5" fill="none" stroke="#c074c4" stroke-width="0.7" opacity="0.75"/><path d="M129.6 393.2Q137.5 405.3 131.5 418.5M161.4 426.4Q173.4 423.8 183.7 430.5M65.3 431.7Q78.7 439.7 94.2 437.7M111 440.1Q96.6 444.3 84.1 452.6M139.7 448.6Q155.5 460.9 159 480.6M55.2 349.8Q40.9 360.7 24.4 353.4M96.6 487Q115.1 477.7 128.4 461.8M112.2 345.4Q124.3 341.4 136.8 338.9M136.8 338.9Q164.6 360.4 198.2 370.9M94.2 437.7Q84.9 439.2 76.2 443M136.8 338.9Q145.5 336.9 153.2 341.3M102.6 426.2Q116.8 430.1 130.8 434.8M142.9 382.6Q139.8 400.6 153.7 412.5M111 290.1Q95.9 303 94.2 322.8M158.5 324.5Q168.7 324 176.5 330.5M75.4 318Q69.9 327.1 59.3 326.4M102.6 410.8Q133.5 411.6 150.1 437.7M175.8 312.5Q122.9 358 144.1 424.5M150.1 294.9Q168.6 308.8 176.5 330.5M48.5 434.8Q41.9 441.2 32.9 443M121.6 447.4Q121.4 456.3 128.4 461.8M170.5 437.7Q180.9 437.5 185.4 446.9M94.2 322.8Q86.1 332 89.9 343.7M121.6 447.4Q133.8 458 137.3 473.8M82.2 428.1Q87.7 433.5 94.2 437.7M66.5 337.7Q76 348.2 85.1 358.9M94.2 322.8Q87.4 327.5 81 332.9M49.7 367.8Q47.6 376.7 40.8 382.9M166.2 370.9Q154.5 376.7 142.9 382.6M82.2 428.1Q75.4 434 76.2 443M59.3 326.4Q54.4 333 47.3 337.3M77.8 402.9Q77.5 411.3 70.6 416.1M61.7 301.2Q63.5 321.8 81 332.9M165.7 402.9Q156.7 413.4 161.4 426.4M147.7 461.8Q143.8 468.9 137.3 473.8M175.8 312.5Q164.3 333.9 178.9 353.4M77.8 402.9Q68.7 414.9 54.5 419.7M61.7 301.2Q64.4 319.4 66.5 337.7M128.4 461.8Q128.2 479.1 144.1 485.8M175.8 312.5Q184.7 326.9 189.8 343M116.3 363Q125.5 367.1 128.4 376.7M128.4 461.8Q144.9 460.3 160.4 466.1M66.5 337.7Q71.1 344.3 73 352.2M155.6 298Q141.4 301.8 126.7 302.9M118.3 424.5Q131.2 427.5 144.1 424.5M82.2 388.4Q91.8 390.8 94.2 400.4M73 352.2Q81 352 85.1 358.9M138 405.3Q146.1 413.3 144.1 424.5M118.3 424.5Q110 430.1 111 440.1M118.3 424.5Q118.7 406.9 129.6 393.2M175.8 312.5Q163.4 313 158.5 324.5M60 403.6Q42.6 408.9 36.9 426.2M158.5 324.5Q154 340.9 163.3 355.1M118.3 424.5Q123.2 417.7 131.5 418.5M82.2 388.4Q79.9 395.6 77.8 402.9M118.3 424.5Q103.3 425.7 94.2 437.7M46.1 396.4Q62.4 397.4 77.8 402.9M120.5 408.9Q134.7 413 144.1 424.5M70.6 416.1Q77.8 432 94.2 437.7M142.9 382.6Q149.6 388.4 150.1 397.3M185.4 446.9Q190.2 453.4 188.6 461.3M94.2 400.4Q91.1 407.5 88.9 414.9M94.2 400.4Q94.9 417.1 82.2 428.1M42 410.8Q55.4 432.6 43.2 455.1M120.5 408.9Q122.8 417.2 118.3 424.5M128.4 376.7Q124.4 385.3 129.6 393.2M150.1 294.9Q148.9 304.3 140.4 308.4M40.8 382.9Q39.2 393.4 31.2 400.4M85.1 358.9Q88.8 365.3 87.5 372.6M115.8 382.6Q129.3 389.1 142.9 382.6M40.8 354.6Q47 368.8 40.8 382.9M128.4 376.7Q136.9 376.6 142.9 382.6M89.9 343.7Q98.9 346.6 100.9 355.8M131.5 418.5Q139.1 432.6 139.7 448.6M147.7 461.8Q152.5 474.8 144.1 485.8M42 410.8Q46.7 429.5 32.9 443M85.1 358.9Q131.3 339.3 130.8 289.1M94.2 322.8Q95.7 339.7 100.9 355.8M121.6 447.4Q124.1 439.6 130.8 434.8M73 352.2Q95.7 392 94.2 437.7M42 410.8Q56.5 412.1 70.6 416.1M75.4 294.4Q78.5 316 59.3 326.4M24.4 353.4Q31.1 358.7 34.5 366.6M118.3 424.5Q133.3 432.8 139.7 448.6M23.2 426.2Q36.5 428.6 48.5 434.8M87.5 372.6Q92.4 378.3 96.6 384.4M99 451.7Q114.7 454 128.4 461.8M96.6 384.4Q80.8 387.2 77.8 402.9M76.2 443Q68.3 464.7 81 483.9" fill="none" stroke="#c074c4" stroke-width="0.7" opacity="0.75"/><path d="M32.9 443Q35.7 459.6 51.4 465.4M84.1 452.6Q69.9 464.6 51.4 465.4" fill="none" stroke="#1c8a5c" stroke-width="0.7" opacity="0.75"/><path d="M111 322.1Q103.9 369.4 88.9 414.9M116.3 363Q120.4 355.5 126.7 349.8M99 451.7Q89.1 467.3 81 483.9M40.8 354.6Q59 400.8 32.9 443M178.9 353.4Q190.4 360.1 198.2 370.9M55.2 384.3Q49.5 419.7 43.2 455.1M70.6 416.1Q55.4 426.8 36.9 426.2M62.9 363.7Q77.4 362.1 87.5 372.6M206.1 345Q194 354.1 178.9 353.4M178.9 353.4Q180.2 360.9 181.3 368.5M111 322.1Q116.5 337.3 126.7 349.8M212.6 361.8Q224.4 377.9 218.1 396.8M195.1 396.4Q206.5 403.8 218.1 396.8M19.1 371.9Q22.6 377.4 25.6 383.2M87.5 372.6Q83.6 380.1 82.2 388.4M172.4 456.5Q158.5 451.8 147.7 461.8M96.6 487Q150.3 446 211.4 417.3M216.2 376.7Q204.2 388.5 205.4 405.3M40.8 354.6Q48.2 359.2 49.7 367.8M75.4 318Q74.5 326.8 81 332.9M32.9 443Q54.1 453.8 63.4 475.7M165.7 402.9Q183.1 406.9 194.6 420.4M55.2 384.3Q69.5 389.9 77.8 402.9M111 322.1Q110.6 333.8 112.2 345.4M150.8 370.2Q173 395.1 194.6 420.4M40.8 354.6Q56.2 343.7 73 352.2M67.7 390.1Q78 442.9 128.4 461.8M183.7 430.5Q181.2 444.9 172.4 456.5M23.2 412.5Q68.4 418 99 451.7M150.1 397.3Q138.3 405.7 131.5 418.5M216.2 376.7Q213.3 383.6 206.6 386.7M78.6 470.2Q88.2 478 96.6 487M126.7 349.8Q134.4 365.1 150.8 370.2M116.3 363Q100.1 362.5 87.5 372.6M218.1 396.8Q223.6 418.3 205.4 431M94.2 437.7Q98.9 443.9 99 451.7M51.4 465.4Q63.4 476.7 78.6 470.2M94.2 400.4Q145.1 410.1 195.1 396.4M172.9 417.3Q164.8 431.2 150.1 437.7M51.4 465.4Q58.7 469.1 63.4 475.7M67.7 390.1Q52.7 401.2 54.5 419.7M55.2 384.3Q69.8 379.2 82.2 388.4M142.9 326.2Q140.8 341.7 146 356.5M111 322.1Q112.7 353.6 87.5 372.6M205.4 431Q200.3 436.3 200.6 443.7M54.5 419.7Q39.6 427.6 32.9 443M40.8 354.6Q55 366.1 55.2 384.3M79.8 306Q89.3 319.1 81 332.9M67.7 390.1Q80.2 377.4 96.6 384.4M67.7 457Q84.4 455.1 93 469.5M55.2 384.3Q54.7 393.4 46.1 396.4M168.1 340.6Q151.8 341.3 146 356.5M150.8 370.2Q150.6 383.8 150.1 397.3M165.7 402.9Q176.1 405.8 185.4 411.3M67.7 457Q73 463.7 78.6 470.2M194.6 420.4Q198.3 427.5 205.4 431M89.9 343.7Q101.5 338.4 112.2 345.4M67.7 457Q63.1 465.8 63.4 475.7M150.1 397.3Q164.9 397.4 179.7 398M67.7 457Q60.8 463.6 51.4 465.4M66.5 337.7Q71.8 351.7 62.9 363.7M63.4 475.7Q80.1 481 96.6 487M139.7 448.6Q141.2 467.3 144.1 485.8M55.2 349.8Q66.4 359.8 72.1 373.8" fill="none" stroke="#22b2f2" stroke-width="0.7" opacity="0.75"/><path d="M155.6 298Q158.8 304.1 162.1 310.1M75.4 294.4Q70.6 306.2 75.4 318M110.6 303.3Q110.8 319.4 104.3 334.1M123.1 293.2Q131.3 312.4 123.1 331.7M158.5 324.5Q182.3 334.8 206.1 345M111 290.1Q116 295.8 123.1 293.2M130.8 289.1Q145.7 286.6 155.6 298M104.3 334.1Q100.3 350.8 85.1 358.9M104.3 334.1Q112.1 318.4 129.6 318.5M130.8 289.1Q141.7 287.7 150.1 294.9M142.9 326.2Q150.9 327 158.5 324.5M168.1 340.6Q178.3 347.8 189.8 343M123.1 293.2Q134 298.3 140.4 308.4M94.2 322.8Q106.6 333.9 123.1 331.7M150.1 397.3Q154.9 404.2 153.7 412.5M110.6 303.3Q95.2 317.5 81 332.9M75.4 294.4Q84.3 309 94.2 322.8M123.1 331.7Q130.3 327 129.6 318.5M111 290.1Q129.2 303.3 150.1 294.9M75.4 294.4Q93.4 294.1 111 290.1M163.3 355.1Q174.6 367.6 172.9 384.3M206.1 345Q200.6 364 181.3 368.5M95.4 304.8Q92.8 321.6 104.3 334.1M104.3 334.1Q99.9 343.1 89.9 343.7M75.4 318Q84.6 321.2 94.2 322.8M140.4 308.4Q151.3 308.9 162.1 310.1M93 292Q99.9 300.7 110.6 303.3M194.6 327.6Q189.1 334.3 189.8 343M176.5 330.5Q192.4 335.5 206.1 345M194.6 327.6Q186.4 349.8 163.3 355.1M75.4 294.4Q85 299.1 93 292" fill="none" stroke="#f06242" stroke-width="0.7" opacity="0.75"/><path d="M19.1 371.9Q64.2 414 63.4 475.7M72.1 373.8Q105.9 326.1 162.1 310.1M81 332.9Q92.3 340.7 104.3 334.1M112.2 345.4Q103.1 356.6 105 370.9M70.6 416.1Q63.4 430 48.5 434.8M100.9 355.8Q123 413.9 121.5 476M205.4 431Q193.5 436.5 185.4 446.9M172.9 417.3Q183.8 418.4 194.6 420.4M179.7 398Q195.5 412.2 205.4 431M73 352.2Q68.7 358.6 62.9 363.7M185.4 411.3Q168.4 411 161.4 426.4M172.9 417.3Q179.8 422.6 183.7 430.5M178.9 353.4Q188.1 353.4 196.5 357M40.8 354.6Q35.3 370 25.6 383.2M115.8 382.6Q132.7 388.3 138 405.3M104.3 334.1Q118.2 338.1 126.7 349.8M172.9 417.3Q175.7 428 170.5 437.7M32.9 443Q45.6 440.1 57.6 445.4M212.6 361.8Q188.7 362.7 166.2 370.9M31.2 340.1Q44.1 355.9 62.9 363.7M105.7 473.8Q103.4 482 96.6 487M93 292Q96.7 315.3 81 332.9M183.7 430.5Q194.7 425.9 205.4 431M40.8 354.6Q40.5 362.1 34.5 366.6M196.5 357Q209.2 364 216.2 376.7M176.5 330.5Q171.8 343.8 163.3 355.1M126.7 349.8Q91.8 390.7 42 410.8M158.5 449.8Q162.4 472.2 144.1 485.8M121.5 476Q135.7 474.3 144.1 485.8M198.2 370.9Q195.3 383.5 195.1 396.4M129.6 393.2Q134.6 435.9 172.4 456.5M123.1 293.2Q111.6 305.4 111 322.1M43.2 455.1Q56 462.7 63.4 475.7M195.1 396.4Q192.8 415.9 205.4 431M121.5 476Q135.1 465.3 139.7 448.6M172.9 417.3Q171.7 435.3 185.4 446.9M57.6 445.4Q53.3 454.5 43.2 455.1M138 405.3Q133.2 419.8 130.8 434.8M111.5 459.4Q119.1 483.4 144.1 485.8M57.6 445.4Q61.2 463.7 78.6 470.2M189.8 382.9Q191.8 389.9 195.1 396.4M179.7 398Q180.1 409 172.9 417.3M67.7 390.1Q74.6 386.3 82.2 388.4M158.5 324.5Q141.9 336.5 146 356.5M185.4 411.3Q196.2 420.3 205.4 431M57.6 445.4Q53.2 455 51.4 465.4M84.1 452.6Q84.1 463.4 93 469.5M185.4 411.3Q184.3 431.6 200.6 443.7M165.7 402.9Q164.9 412.3 172.9 417.3M87.5 372.6Q88.9 387 94.2 400.4M216.2 376.7Q212.3 393.6 195.1 396.4M84.1 452.6Q75.7 459.6 78.6 470.2M181.3 368.5Q200.4 365.4 216.2 376.7M111 322.1Q115 329.5 123.1 331.7M87.5 372.6Q80.2 387 77.8 402.9M85.1 358.9Q83.6 370.7 72.1 373.8M183.7 430.5Q168.8 437.2 158.5 449.8M170.5 437.7Q177.8 446.5 172.4 456.5M93 469.5Q93.9 478.4 96.6 487M121.5 476Q125.8 469.3 128.4 461.8M137.3 473.8Q139.1 480.7 144.1 485.8M153.2 341.3Q164.1 351.5 178.9 353.4M72.1 373.8Q80 376.2 87.5 372.6M121.5 476Q101.9 483.3 81 483.9" fill="none" stroke="#22b2f2" stroke-width="0.7" opacity="0.75"/><path d="M94.2 437.7Q104.7 447.1 111.5 459.4M198.2 370.9Q201 389.4 218.1 396.8M123.1 293.2Q106.5 292.5 95.4 304.8M105 370.9Q151.6 350.5 198.2 370.9M43.2 455.1Q54.9 463.2 67.7 457M168.1 340.6Q208.9 388.5 185.4 446.9M116.3 363Q124.8 349.5 136.8 338.9M60 403.6Q60.6 412.8 54.5 419.7M153.2 341.3Q160.6 339.9 168.1 340.6M206.6 386.7Q201.5 395.7 205.4 405.3M23.2 426.2Q43.3 436 65.3 431.7M31.2 340.1Q55 336.3 73 352.2M96.6 487Q117.2 481.2 137.3 473.8M102.6 426.2Q100.1 444.7 111.5 459.4M88.9 414.9Q96.2 414.2 102.6 410.8M179.7 398Q175.6 445.5 137.3 473.8M189.8 343Q188.4 358.6 198.2 370.9M166.2 370.9Q161.4 386.1 150.1 397.3M31.2 340.1Q49 340.9 66.5 337.7M179.7 398Q191.2 414.8 211.4 417.3M84.1 452.6Q95.8 464.1 111.5 459.4M31.2 340.1Q25.4 345.5 24.4 353.4M16 395.6Q61.7 430.5 111.5 459.4M77.8 402.9Q80.2 411.8 88.9 414.9M104.3 334.1Q109.2 346 100.9 355.8M100.9 355.8Q124.3 368.4 150.8 370.2M142.9 382.6Q158.1 379.5 172.9 384.3M61.7 301.2Q79.7 292.2 95.4 304.8M150.1 437.7Q134.2 445.2 128.4 461.8M16 395.6Q19.9 403.9 23.2 412.5M196.5 357Q196.2 364.1 198.2 370.9M36.9 426.2Q50.3 433 65.3 431.7M65.3 431.7Q50.4 439.8 43.2 455.1M55.2 349.8Q47 357.1 49.7 367.8M121.5 476Q139.4 485 159 480.6M82.2 388.4Q87.9 401.1 88.9 414.9M150.1 437.7Q160.3 437.9 170.5 437.7M134 363.7Q126.3 377.6 129.6 393.2M60 403.6Q61.4 421.8 48.5 434.8M25.6 383.2Q70.7 382.2 115.8 382.6M129.6 393.2Q141.1 389.1 150.1 397.3M73 352.2Q61.8 360.7 49.7 367.8M112.2 345.4Q116.8 353.6 116.3 363M159 386.7Q173.8 380.1 189.8 382.9M205.4 405.3Q198.7 418.1 205.4 431M102.6 426.2Q139.4 407.3 179.7 398M105 370.9Q119.6 367.8 134 363.7M181.3 368.5Q191.6 380.9 206.6 386.7M82.2 388.4Q69.7 393.9 60 403.6M113.9 397.3Q106.8 402.9 102.6 410.8M95.4 304.8Q103.3 306.7 110.6 303.3M54.5 419.7Q59.7 425.9 65.3 431.7M205.4 405.3Q206.9 412 211.4 417.3M181.3 368.5Q186.6 375.1 189.8 382.9M172.9 384.3Q171.1 394.3 165.7 402.9M31.2 400.4Q28.6 407.4 23.2 412.5M100.9 355.8Q103.1 372.1 115.8 382.6M87.5 372.6Q103.6 372.1 115.8 382.6M166.2 370.9Q171.1 376.8 172.9 384.3M121.6 447.4Q115.8 461.9 105.7 473.8M100.9 355.8Q105.3 371.1 96.6 384.4M75.4 294.4Q84.4 301.6 95.4 304.8M172.9 384.3Q189.9 383.6 206.6 386.7M81 332.9Q93.9 341.8 100.9 355.8M206.6 386.7Q201.5 392.4 195.1 396.4M115.8 382.6Q120.3 368.8 134 363.7" fill="none" stroke="#6db823" stroke-width="0.7" opacity="0.75"/><path d="M162.1 310.1Q171.8 318.5 176.5 330.5M162.1 310.1Q169.7 306.7 175.8 312.5M155.6 298Q160.6 310.9 158.5 324.5M75.4 318Q102.6 346.7 128.4 376.7M162.1 310.1Q171.4 324.1 168.1 340.6M75.4 318Q82.6 335.7 73 352.2M129.6 318.5Q127.5 366.2 94.2 400.4M111 290.1Q109.9 296.7 110.6 303.3M49.7 367.8Q95.7 319.1 162.1 310.1M75.4 318Q58.3 321 41.3 324.5M79.8 306Q100.9 312.3 104.3 334.1M93 292Q81.9 294.8 79.8 306M189.8 343Q197.3 349.1 206.1 345M168.1 340.6Q163.5 347.1 163.3 355.1M123.1 293.2Q135.6 308.1 142.9 326.2M194.6 327.6Q200.5 342 196.5 357M153.7 412.5Q155.7 420.5 161.4 426.4M61.7 301.2Q69.7 308.6 75.4 318M75.4 294.4Q94.5 293 110.6 303.3M123.1 293.2Q139.2 296.9 155.6 298M123.1 331.7Q115.2 336.6 112.2 345.4M123.1 331.7Q114.2 336.6 104.3 334.1M111 290.1Q97.8 302.7 79.8 306M142.9 326.2Q133.5 337.1 126.7 349.8M140.4 308.4Q157.3 317.3 175.8 312.5M126.7 302.9Q133.6 305.6 140.4 308.4M153.7 412.5Q159.6 426.2 150.1 437.7M153.7 412.5Q148.7 418.3 144.1 424.5M93 292Q101.8 289.4 111 290.1M75.4 294.4Q79.7 313.4 81 332.9M126.7 302.9Q132.1 310 129.6 318.5M138 405.3Q145.9 408.8 153.7 412.5" fill="none" stroke="#f06242" stroke-width="0.7" opacity="0.75"/><path d="M116.3 363Q109.7 365.5 105 370.9M60 403.6Q66.8 408.6 70.6 416.1M158.5 449.8Q177 446.4 188.6 461.3M113.9 397.3Q82 430.5 43.2 455.1M47.3 337.3Q47.9 355 34.5 366.6M179.7 398Q145.7 420.9 147.7 461.8M60 403.6Q68.9 403.3 77.8 402.9M189.8 382.9Q203.8 389.8 205.4 405.3M65.3 431.7Q70.9 437.2 76.2 443M181.3 368.5Q182.9 383.4 179.7 398M195.1 396.4Q179.7 396.3 165.7 402.9M65.3 431.7Q56.9 433.3 48.5 434.8M163.3 355.1Q164 363.1 166.2 370.9M160.4 466.1Q175.2 467.8 188.6 461.3M179.7 398Q183.7 411.5 194.6 420.4M102.6 426.2Q110.4 425 118.3 424.5M134 363.7Q115.4 396.9 77.8 402.9M185.4 446.9Q187.7 462.9 175.8 473.8M181.3 368.5Q169.1 376.3 159 386.7M54.5 419.7Q56.5 429.2 48.5 434.8M70.6 416.1Q63.1 420.4 54.5 419.7M134 363.7Q139.9 372.5 142.9 382.6M95.4 304.8Q106.9 310.1 111 322.1M49.7 367.8Q62.7 364.1 72.1 373.8M84.1 452.6Q100.7 457.2 105.7 473.8M31.2 400.4Q48.5 415.8 65.3 431.7M172.9 384.3Q179.2 389.7 179.7 398M161.4 426.4Q182.5 438 188.6 461.3M100.9 355.8Q108.8 359 116.3 363M102.6 410.8Q104.6 418.5 102.6 426.2M189.8 343Q207.9 402.3 188.6 461.3M23.2 412.5Q24 419.4 23.2 426.2M16 395.6Q30.8 406.3 46.1 396.4M150.8 370.2Q158.9 381.8 172.9 384.3M166.2 370.9Q177.6 377.8 189.8 382.9M196.5 357Q191.4 366.1 181.3 368.5M47.3 337.3Q57 332.3 66.5 337.7M206.6 386.7Q195.5 398.5 185.4 411.3M123.1 331.7Q111.9 343.6 100.9 355.8M81 332.9Q63.4 329.3 47.3 337.3M198.2 370.9Q184.4 375.5 172.9 384.3M76.2 443Q69.1 448.3 67.7 457M163.3 355.1Q147.7 356.2 134 363.7M158.5 324.5Q157.7 335.9 168.1 340.6M31.2 340.1Q39.9 342.6 47.3 337.3M24.4 353.4Q24.5 375.4 16 395.6M75.4 318Q66.2 334.7 47.3 337.3M212.6 361.8Q215.8 384.7 205.4 405.3M159 480.6Q150.6 480.4 144.1 485.8M115.8 382.6Q120.7 390.5 129.6 393.2M105.7 473.8Q84.8 480.7 63.4 475.7M136.8 338.9Q152.9 331.9 168.1 340.6M73 352.2Q126.5 364.5 165.7 402.9M111.5 459.4Q105.5 465.3 105.7 473.8M172.9 384.3Q182 434.8 159 480.6M185.4 446.9Q175.5 466.3 159 480.6M100.9 355.8Q114.9 357.5 126.7 349.8M115.8 382.6Q107.9 396.1 102.6 410.8M42 410.8Q51.4 423.7 65.3 431.7M115.8 382.6Q112.3 389.6 113.9 397.3M216.2 376.7Q193.5 374.8 172.9 384.3M23.2 426.2Q33.7 440.3 43.2 455.1M159 386.7Q166.3 397.9 179.7 398M121.5 476Q129.2 473.4 137.3 473.8M111 440.1Q101.6 442.4 99 451.7M128.4 461.8Q131.3 468.9 137.3 473.8" fill="none" stroke="#6db823" stroke-width="0.7" opacity="0.75"/><path d="M96.6 384.4Q106.3 385 115.8 382.6M150.8 370.2Q141 378.1 128.4 376.7M162.1 310.1Q164.3 341.6 150.8 370.2M139.7 448.6Q148.9 451.8 158.5 449.8M41.3 324.5Q39.6 341.9 55.2 349.8M19.1 371.9Q15.5 383.5 16 395.6M175.8 312.5Q175.6 321.5 176.5 330.5M144.1 424.5Q145.4 440.5 158.5 449.8M158.5 324.5Q147.3 331.2 136.8 338.9M82.2 428.1Q121.3 405.4 161.4 426.4M49.7 367.8Q44 381.6 46.1 396.4M70.6 416.1Q80.4 418.2 82.2 428.1M162.1 310.1Q159.5 317.1 158.5 324.5M59.3 326.4Q31.5 358.2 31.2 400.4M150.1 294.9Q139.7 306.6 129.6 318.5M23.2 412.5Q89.9 403.4 139.7 448.6M48.5 434.8Q42.5 460.1 63.4 475.7M121.6 447.4Q134 435.5 131.5 418.5M40.8 382.9Q49.8 396.5 42 410.8M89.9 343.7Q102.7 354 116.3 363M40.8 354.6Q28.3 361.1 19.1 371.9M31.2 400.4Q19.3 410.9 23.2 426.2M93 469.5Q82.6 473 81 483.9M147.7 461.8Q161.9 467.5 175.8 473.8M102.6 410.8Q106.2 422.6 118.3 424.5M34.5 366.6Q32.6 376.3 25.6 383.2M183.7 430.5Q190.6 439.1 200.6 443.7M131.5 418.5Q148.6 414.2 161.4 426.4M79.8 306Q75.8 322.5 59.3 326.4M170.5 437.7Q166.3 445.5 158.5 449.8M126.7 349.8Q133.3 399.1 121.6 447.4M77.8 402.9Q65.5 414.7 65.3 431.7M158.5 449.8Q171.2 441 185.4 446.9M40.8 382.9Q55.4 382.4 67.7 390.1M79.8 306Q87.7 307.3 95.4 304.8M59.3 326.4Q65 339.5 55.2 349.8M111 440.1Q119.2 431.1 130.8 434.8M158.5 449.8Q160.9 457.8 160.4 466.1M72.1 373.8Q77.8 387.8 77.8 402.9M59.3 326.4Q48 338.9 31.2 340.1M111 440.1Q123 431 131.5 418.5M161.4 426.4Q155.9 446.1 160.4 466.1M139.7 448.6Q137.3 458 128.4 461.8M161.4 426.4Q162.2 438.4 158.5 449.8M65.3 431.7Q73 426.2 82.2 428.1M175.8 312.5Q178.5 328.3 168.1 340.6M72.1 373.8Q87.1 372.8 96.6 384.4M158.5 324.5Q176.3 330.1 189.8 343M105 370.9Q115.4 379 128.4 376.7M142.9 382.6Q144.7 394.9 138 405.3M95.4 304.8Q111.3 308.2 126.7 302.9M123.1 293.2Q104.9 304.3 94.2 322.8M113.9 397.3Q109.7 411.9 118.3 424.5M162.1 310.1Q157.9 331.9 136.8 338.9M46.1 396.4Q61.3 402.6 70.6 416.1M84.1 452.6Q110.8 435.4 139.7 448.6M120.5 408.9Q126.3 442.4 121.5 476M41.3 324.5Q33.7 339.4 24.4 353.4M205.4 405.3Q204 424.6 200.6 443.7M111 290.1Q145.9 350.4 131.5 418.5M46.1 396.4Q48.3 404.8 42 410.8M131.5 418.5Q146.2 422.9 150.1 437.7M128.4 376.7Q144.8 412.7 158.5 449.8M31.2 400.4Q36.1 406.1 42 410.8M183.7 430.5Q174.9 430.1 170.5 437.7M120.5 408.9Q125.1 414.7 131.5 418.5M84.1 452.6Q82.1 468.2 81 483.9M79.8 306Q78.6 324.1 66.5 337.7M31.2 400.4Q44.6 411.3 60 403.6M94.2 400.4Q87.5 415.9 70.6 416.1M67.7 457Q72 471.6 81 483.9M130.8 289.1Q127.6 295.6 126.7 302.9M111 440.1Q123.8 447.6 128.4 461.8M93 292Q89.5 307.6 94.2 322.8M79.8 306Q78.1 312.2 75.4 318M150.1 294.9Q145.5 367.2 194.6 420.4M59.3 326.4Q62.6 341.2 73 352.2M158.5 449.8Q166.5 462.3 175.8 473.8M176.5 330.5Q189.5 341.5 196.5 357M79.8 306Q92.9 318.8 111 322.1M16 395.6Q28.1 408.9 23.2 426.2M96.6 384.4Q93.4 392.1 94.2 400.4M161.4 426.4Q147.2 434.2 139.7 448.6M82.2 428.1Q94.5 439.1 111 440.1M128.4 376.7Q120 386.2 113.9 397.3M150.8 370.2Q147.1 376.6 142.9 382.6M153.7 412.5Q143.4 418.4 131.5 418.5M60 403.6Q49.3 427.4 23.2 426.2M23.2 412.5Q29.2 431.2 48.5 434.8" fill="none" stroke="#c074c4" stroke-width="0.7" opacity="0.75"/><path d="M75.4 294.4Q76.2 300.7 79.8 306M129.6 393.2Q136.4 409.5 153.7 412.5M111 290.1Q119.7 295.5 126.7 302.9M111 290.1Q64.6 302.6 55.2 349.8M179.7 398Q165.1 402.4 153.7 412.5M142.9 326.2Q158.5 337.8 176.5 330.5M206.1 345Q182.8 341.9 163.3 355.1M104.3 334.1Q76.7 351.9 47.3 337.3M93 292Q111.8 289.7 130.8 289.1M189.8 343Q182.8 354.8 181.3 368.5M129.6 318.5Q138.5 318.4 142.9 326.2M111 322.1Q104.7 326.4 104.3 334.1M194.6 327.6Q170.5 324.1 153.2 341.3M110.6 303.3Q132.5 309.2 150.1 294.9M123.1 331.7Q131.2 322.6 142.9 326.2M123.1 293.2Q128.1 296.9 126.7 302.9M110.6 303.3Q123.5 300.2 130.8 289.1M163.3 355.1Q149.1 399.4 183.7 430.5M155.6 298Q139.2 303.9 129.6 318.5M162.1 310.1Q147.2 311.8 142.9 326.2M206.1 345Q200 357.3 198.2 370.9M142.9 326.2Q147.5 334.1 153.2 341.3M111 290.1Q128.7 307.5 123.1 331.7M163.3 355.1Q174.5 358.8 181.3 368.5M130.8 289.1Q147.2 304.3 142.9 326.2M159 386.7Q147.7 397.8 153.7 412.5M130.8 289.1Q139.5 304.2 129.6 318.5M146 356.5Q154.3 351.2 163.3 355.1M165.7 402.9Q160.5 408.7 153.7 412.5M155.6 298Q163.9 307.8 175.8 312.5M123.1 293.2Q136.3 299 150.1 294.9M123.1 331.7Q122.4 347.9 116.3 363" fill="none" stroke="#f06242" stroke-width="0.7" opacity="0.75"/><path d="M67.7 390.1Q54.7 426.7 51.4 465.4" fill="none" stroke="#1c8a5c" stroke-width="0.7" opacity="0.75"/><path d="M181.3 368.5Q188.7 382.2 195.1 396.4M218.1 396.8Q211.3 400.3 205.4 405.3M65.3 431.7Q57.8 445.2 67.7 457M112.2 345.4Q117.9 352.7 126.7 349.8M70.6 416.1Q130 401 183.7 430.5M105 370.9Q110.2 354.5 126.7 349.8M99 451.7Q87.9 473.7 63.4 475.7M172.9 417.3Q185.4 431.9 200.6 443.7M112.2 345.4Q115.6 328.5 129.6 318.5M70.6 416.1Q80.1 420.4 88.9 414.9M62.9 363.7Q60.5 374.5 55.2 384.3M216.2 376.7Q221.7 397.9 211.4 417.3M105 370.9Q100.1 377.2 96.6 384.4M111 322.1Q115.5 309.8 126.7 302.9M189.8 382.9Q191.4 397.7 185.4 411.3M62.9 363.7Q67.8 368.5 72.1 373.8M198.2 370.9Q205.8 378 216.2 376.7M57.6 445.4Q67.7 450.2 76.2 443M189.8 382.9Q203.5 390.8 218.1 396.8M153.2 341.3Q158.3 380.9 195.1 396.4M67.7 390.1Q108.9 378 146 356.5M194.6 420.4Q181.3 427.3 170.5 437.7M165.7 402.9Q170.6 419.3 183.7 430.5M168.1 340.6Q173.7 346.8 178.9 353.4M87.5 372.6Q79.3 383.2 67.7 390.1M212.6 361.8Q217.4 368.5 216.2 376.7M194.6 327.6Q205.2 343.9 212.6 361.8M81 332.9Q82.5 340.7 89.9 343.7M25.6 383.2Q66.9 379.8 88.9 414.9M121.5 476Q141.3 472.5 160.4 466.1M47.3 337.3Q40.5 344.6 40.8 354.6M153.2 341.3Q141.9 351.6 126.7 349.8M216.2 376.7Q203.4 381.4 189.8 382.9M195.1 396.4Q177.3 444.9 128.4 461.8M65.3 431.7Q49.3 438 32.9 443M206.6 386.7Q209.9 394.5 218.1 396.8M67.7 390.1Q68.9 403.1 70.6 416.1M121.5 476Q106.7 476.2 96.6 487M54.5 419.7Q54.7 432.7 57.6 445.4M67.7 390.1Q69 399.5 77.8 402.9M172.4 456.5Q153.7 462.8 137.3 473.8M206.1 345Q207.6 354.1 212.6 361.8M40.8 354.6Q60.6 372.9 87.5 372.6M205.4 405.3Q195.2 409.4 194.6 420.4M195.1 396.4Q202 398.8 205.4 405.3M105 370.9Q89.2 379.3 72.1 373.8M205.4 431Q194.1 450.5 172.4 456.5M179.7 398Q181.1 405.3 185.4 411.3M212.6 361.8Q208.4 371.2 198.2 370.9M185.4 411.3Q181.8 420.7 183.7 430.5M72.1 373.8Q82.2 377.6 82.2 388.4M55.2 384.3Q60.3 389.7 67.7 390.1M146 356.5Q162.9 359.9 178.9 353.4M84.1 452.6Q72.8 463.3 63.4 475.7M111 322.1Q135.9 365.6 153.7 412.5M150.1 397.3Q143.9 401 138 405.3M49.7 367.8Q61.1 377 67.7 390.1M194.6 420.4Q196.7 432.3 200.6 443.7M81 332.9Q70.9 345.6 55.2 349.8M59.3 326.4Q69.1 333 81 332.9M150.1 397.3Q145.9 415.7 161.4 426.4M78.6 470.2Q72.2 476.4 63.4 475.7M55.2 349.8Q48.6 354.1 40.8 354.6" fill="none" stroke="#22b2f2" stroke-width="0.7" opacity="0.75"/><path d="M48.5 434.8Q57.9 449.4 51.4 465.4M43.2 455.1Q44.5 462.5 51.4 465.4" fill="none" stroke="#1c8a5c" stroke-width="0.7" opacity="0.75"/><path d="M188.6 461.3Q180.4 465.8 175.8 473.8M178.9 353.4Q180.5 369.7 172.9 384.3M60 403.6Q63.9 417.4 65.3 431.7M189.8 382.9Q212.6 392.6 211.4 417.3M81 332.9Q70.6 339.9 73 352.2M94.2 437.7Q112.1 451.9 105.7 473.8M206.6 386.7Q217.7 400.6 211.4 417.3M105.7 473.8Q126.3 475.4 144.1 485.8M54.5 419.7Q96.9 467.1 159 480.6M198.2 370.9Q199.8 380.2 206.6 386.7M181.3 368.5Q208.4 385.5 211.4 417.3M113.9 397.3Q105.4 411.8 88.9 414.9M95.4 304.8Q78.8 314 81 332.9M102.6 426.2Q104.6 434.5 111 440.1M172.4 456.5Q165.2 468.3 159 480.6M198.2 370.9Q196.5 378.7 189.8 382.9M31.2 340.1Q38.5 345.7 40.8 354.6M172.9 417.3Q192.2 406.4 211.4 417.3M54.5 419.7Q64.1 432.5 76.2 443M55.2 384.3Q37.1 395.1 16 395.6M102.6 426.2Q92.6 439.6 76.2 443M40.8 382.9Q52.5 391.3 60 403.6M175.8 473.8Q161.3 483.2 144.1 485.8M142.9 326.2Q160.5 324.7 168.1 340.6M115.8 382.6Q105.1 391.6 94.2 400.4M40.8 382.9Q36.3 400.3 23.2 412.5M159 386.7Q152.9 390.6 150.1 397.3M31.2 400.4Q40.8 412.6 54.5 419.7M159 386.7Q163.4 394.4 165.7 402.9M172.9 384.3Q185.6 400.3 205.4 405.3M111 440.1Q106.2 449.9 111.5 459.4M159 386.7Q145.1 393.7 129.6 393.2M150.1 437.7Q142.7 455.4 137.3 473.8M146 356.5Q156.4 363.3 166.2 370.9M65.3 431.7Q65.4 440.7 57.6 445.4M25.6 383.2Q17.1 386.5 16 395.6M23.2 412.5Q40.3 409.6 54.5 419.7M200.6 443.7Q200.3 456.4 188.6 461.3M178.9 353.4Q178.6 366.5 166.2 370.9M113.9 397.3Q123.2 400.7 129.6 393.2M130.8 434.8Q140.4 436.4 150.1 437.7M105.7 473.8Q115.8 465.4 128.4 461.8M95.4 304.8Q80.2 331.7 55.2 349.8M73 352.2Q86.9 354.7 100.9 355.8M76.2 443Q91.6 451.8 93 469.5M160.4 466.1Q166 474.1 175.8 473.8M113.9 397.3Q110.9 412.8 102.6 426.2M62.9 363.7Q56.3 365.8 49.7 367.8M95.4 304.8Q92.3 313.6 94.2 322.8M102.6 426.2Q92 422.8 82.2 428.1M70.6 416.1Q67.8 430.7 76.2 443M49.7 367.8Q40 379.2 25.6 383.2M104.3 334.1Q108.8 349.2 116.3 363M189.8 343Q200.1 362.9 189.8 382.9M178.9 353.4Q139.7 412.6 175.8 473.8M166.2 370.9Q172.5 384.7 179.7 398M61.7 301.2Q43.8 315 47.3 337.3M93 469.5Q98.1 475.4 105.7 473.8M100.9 355.8Q93.6 360.7 85.1 358.9M196.5 357Q200.8 372.1 206.6 386.7M166.2 370.9Q182.2 380.8 198.2 370.9M62.9 363.7Q65 382 82.2 388.4M146 356.5Q141.7 362.9 134 363.7M36.9 426.2Q49.7 438.5 43.2 455.1M47.3 337.3Q46.5 352.7 49.7 367.8M163.3 355.1Q154.8 379.5 165.7 402.9" fill="none" stroke="#6db823" stroke-width="0.7" opacity="0.75"/><path d="M153.2 341.3Q142 354.9 150.8 370.2M144.1 424.5Q152.6 426.8 161.4 426.4M118.3 424.5Q121.9 408.5 138 405.3M200.6 443.7Q182.1 453.7 175.8 473.8M23.2 426.2Q22.3 437.9 32.9 443M128.4 376.7Q128.8 405.8 130.8 434.8M153.2 341.3Q144.4 353.2 134 363.7M82.2 388.4Q89.5 402.3 102.6 410.8M60 403.6Q50.7 406.4 42 410.8M172.4 456.5Q167.9 463.2 160.4 466.1M144.1 424.5Q137.9 430.2 130.8 434.8M150.1 294.9Q138.7 299.8 126.7 302.9M185.4 411.3Q194.1 429.1 185.4 446.9M200.6 443.7Q186.2 449.4 172.4 456.5M196.5 357Q224.3 391.2 205.4 431M121.6 447.4Q133.7 456.3 147.7 461.8M31.2 400.4Q33.3 413.5 36.9 426.2M128.4 376.7Q138.9 389.1 138 405.3M121.6 447.4Q130.3 453 139.7 448.6M62.9 363.7Q56.1 378.2 40.8 382.9M85.1 358.9Q86 373.9 82.2 388.4M79.8 306Q88.3 313.3 94.2 322.8M31.2 400.4Q28.8 421.8 32.9 443M94.2 400.4Q96.3 407.3 102.6 410.8M140.4 308.4Q139 323.7 136.8 338.9M82.2 428.1Q71.4 440.8 67.7 457M77.8 402.9Q86.5 404.7 94.2 400.4M61.7 301.2Q55.2 313.3 59.3 326.4M63.4 475.7Q73.4 477.2 81 483.9M40.8 382.9Q40.4 390.9 46.1 396.4M102.6 410.8Q106.8 426.9 94.2 437.7M34.5 366.6Q42.1 367.6 49.7 367.8M94.2 322.8Q75.8 321.8 66.5 337.7M24.4 353.4Q28.4 370.5 40.8 382.9M178.9 353.4Q165.4 390.9 144.1 424.5M42 410.8Q51.7 421.1 48.5 434.8M128.4 376.7Q145.9 375.1 159 386.7M61.7 301.2Q56.2 317 41.3 324.5M121.6 447.4Q111.1 453.8 99 451.7M42 410.8Q40.6 418.9 36.9 426.2M111 440.1Q118.4 440.7 121.6 447.4M61.7 301.2Q69.2 309.3 79.8 306M126.7 349.8Q133.4 362.9 128.4 376.7M144.1 424.5Q140 436.2 139.7 448.6M102.6 426.2Q118.6 428.2 131.5 418.5M121.5 476Q135.2 470 147.7 461.8M211.4 417.3Q198.4 427.4 200.6 443.7M67.7 390.1Q78.9 400.4 94.2 400.4M128.4 461.8Q138.1 459.4 147.7 461.8M150.8 370.2Q159 376.4 159 386.7M88.9 414.9Q89.5 423.5 82.2 428.1M41.3 324.5Q60.2 333.3 81 332.9M150.1 294.9Q168 296.3 175.8 312.5M150.8 370.2Q166.3 373.4 181.3 368.5M153.2 341.3Q167.6 352.6 166.2 370.9M41.3 324.5Q57.5 324.1 66.5 337.7M172.9 417.3Q160.6 429.3 144.1 424.5M46.1 396.4Q48.8 408.6 54.5 419.7M54.5 419.7Q68.2 424.3 82.2 428.1M31.2 340.1Q40.5 351.6 55.2 349.8M130.8 434.8Q131.4 444.2 139.7 448.6M120.5 408.9Q120 398.1 129.6 393.2M136.8 338.9Q150 347.1 163.3 355.1M158.5 324.5Q153.6 332.2 153.2 341.3M111.5 459.4Q127.1 451.8 130.8 434.8M89.9 343.7Q86 350.8 85.1 358.9M131.5 418.5Q139.2 418.7 144.1 424.5M205.4 431Q186.9 429.1 170.5 437.7M31.2 340.1Q40.5 352.4 34.5 366.6M142.9 326.2Q141.2 333.2 136.8 338.9M75.4 294.4Q41 339.7 46.1 396.4M185.4 411.3Q176.8 423.8 170.5 437.7M120.5 408.9Q111 416.9 102.6 426.2M120.5 408.9Q124.8 422.2 130.8 434.8M126.7 302.9Q142.1 320.6 153.2 341.3M40.8 382.9Q31.6 395.5 16 395.6M102.6 410.8Q95.8 423.5 82.2 428.1M31.2 400.4Q38.1 396.3 46.1 396.4M24.4 353.4Q19.7 362.1 19.1 371.9M212.6 361.8Q176 366.4 142.9 382.6M140.4 308.4Q147.8 318.3 158.5 324.5M158.5 324.5Q172.7 380.2 170.5 437.7M94.2 322.8Q106.1 331.8 112.2 345.4M147.7 461.8Q154.5 470.5 159 480.6M175.8 312.5Q169.9 331.2 153.2 341.3M94.2 322.8Q100.3 327.5 104.3 334.1M36.9 426.2Q44.8 427.7 48.5 434.8M59.3 326.4Q61.2 333.2 66.5 337.7M161.4 426.4Q177.9 442 200.6 443.7M19.1 371.9Q16.7 389.8 31.2 400.4" fill="none" stroke="#c074c4" stroke-width="0.7" opacity="0.75"/><path d="M123.1 331.7Q122.7 309.6 130.8 289.1M41.3 324.5Q86.3 334 129.6 318.5M162.1 310.1Q176.7 321.9 194.6 327.6M150.1 294.9Q155.8 312.7 142.9 326.2M111 322.1Q127 323.8 142.9 326.2M75.4 318Q75.7 334.8 89.9 343.7M163.3 355.1Q158.8 364.1 150.8 370.2M111 322.1Q120.2 320 129.6 318.5M140.4 308.4Q143.5 317 142.9 326.2M176.5 330.5Q184.8 335 189.8 343M130.8 289.1Q148.4 296.7 162.1 310.1M140.4 308.4Q137.6 316.2 129.6 318.5M123.1 331.7Q133.1 321.1 140.4 308.4M155.6 298Q147.6 302.6 140.4 308.4M155.6 298Q151.3 313 142.9 326.2M123.1 293.2Q178.2 303.9 196.5 357M175.8 312.5Q160.4 331.1 163.3 355.1M153.7 412.5Q164.8 409 172.9 417.3M102.6 426.2Q128.9 422 153.7 412.5M158.5 324.5Q176.8 322.8 194.6 327.6M111 290.1Q121 292.4 130.8 289.1M163.3 355.1Q155.7 370.2 159 386.7M130.8 289.1Q131.4 300.8 140.4 308.4M111 322.1Q121.5 306 130.8 289.1M93 292Q108.2 289.1 123.1 293.2M110.6 303.3Q126.9 297.6 140.4 308.4M93 292Q100.1 312.7 104.3 334.1M155.6 298Q159.6 318.4 176.5 330.5M110.6 303.3Q118.6 302.2 126.7 302.9M93 292Q94.8 298.3 95.4 304.8M110.6 303.3Q123.1 307.2 129.6 318.5" fill="none" stroke="#f06242" stroke-width="0.7" opacity="0.75"/><path d="M25.6 383.2Q36.3 389.1 46.1 396.4M55.2 349.8Q62.8 354.7 62.9 363.7M113.9 397.3Q124.6 405.4 138 405.3M195.1 396.4Q189.6 412.7 172.9 417.3M99 451.7Q84.6 456.3 78.6 470.2M178.9 353.4Q193.4 366.8 212.6 361.8M105 370.9Q96.6 383.6 82.2 388.4M96.6 487Q134.3 430.9 200.6 443.7M81 332.9Q85.4 379.1 129.6 393.2M205.4 405.3Q192 418.9 172.9 417.3M84.1 452.6Q114.3 468.9 144.1 485.8M163.3 355.1Q170.9 352.9 178.9 353.4M57.6 445.4Q63.7 450.3 67.7 457M113.9 397.3Q87.5 395.8 70.6 416.1M111 322.1Q128.1 324 136.8 338.9M25.6 383.2Q33.1 379.2 40.8 382.9M81 332.9Q83.7 379.7 120.5 408.9M89.9 343.7Q79.5 357.4 87.5 372.6M212.6 361.8Q216.9 376 206.6 386.7M189.8 343Q200.2 353.6 212.6 361.8M49.7 367.8Q47.8 377.6 55.2 384.3M176.5 330.5Q174.8 342.3 178.9 353.4M121.6 447.4Q104.1 454.4 93 469.5M36.9 426.2Q47.5 435.6 57.6 445.4M25.6 383.2Q70.6 424 81 483.9M104.3 334.1Q108 339.9 112.2 345.4M216.2 376.7Q210.1 387.4 218.1 396.8M176.5 330.5Q173.6 336.6 168.1 340.6M25.6 383.2Q33.4 390.2 31.2 400.4M123.1 331.7Q119.5 341.8 126.7 349.8M78.6 470.2Q91.9 473.6 105.7 473.8M99 451.7Q102.9 470.6 121.5 476M40.8 354.6Q24.9 413.5 67.7 457M78.6 470.2Q85.7 466.8 93 469.5M176.5 330.5Q176.4 366.1 195.1 396.4M62.9 363.7Q111.5 372.9 159 386.7M72.1 373.8Q89.1 308.6 155.6 298M57.6 445.4Q113.2 469.1 172.4 456.5M120.5 408.9Q137.6 409 150.1 397.3M105 370.9Q96.2 371.3 87.5 372.6M72.1 373.8Q37.6 422.2 63.4 475.7M55.2 384.3Q47 396.8 42 410.8M57.6 445.4Q61.3 460.4 63.4 475.7M104.3 334.1Q99.3 370.8 67.7 390.1M55.2 384.3Q64.3 392.3 60 403.6M102.6 426.2Q106.9 439.8 99 451.7M185.4 411.3Q189.7 416.2 194.6 420.4M166.2 370.9Q132.9 422.6 93 469.5M57.6 445.4Q68.6 457.4 84.1 452.6M172.9 384.3Q157.6 383.9 150.1 397.3M93 469.5Q105.2 481.5 121.5 476M185.4 411.3Q200.2 406.6 211.4 417.3M34.5 366.6Q61.3 366.6 87.5 372.6M212.6 361.8Q196.1 361.2 181.3 368.5M172.9 384.3Q182.2 396.4 185.4 411.3M34.5 366.6Q43.7 376.8 55.2 384.3M194.6 327.6Q178.2 335.3 178.9 353.4M25.6 383.2Q25.2 402.1 42 410.8M218.1 396.8Q212.1 414.3 194.6 420.4M153.7 412.5Q169.2 403.8 185.4 411.3M116.3 363Q129.1 350.5 146 356.5M126.7 349.8Q137.7 349.4 146 356.5M72.1 373.8Q138.9 365.5 194.6 327.6M105 370.9Q94.3 383.7 94.2 400.4" fill="none" stroke="#22b2f2" stroke-width="0.7" opacity="0.75"/><path d="M51.4 465.4Q69.9 468.7 81 483.9" fill="none" stroke="#1c8a5c" stroke-width="0.7" opacity="0.75"/><path d="M22 345Q8 400 30 440Q45 462 70 470" fill="none" stroke="#c9a0d6" stroke-width="1"/><path d="M112 289Q172 290 194.6 327.6" fill="none" stroke="#e89a84" stroke-width="0.9"/><circle cx="75.4" cy="294.4" r="3.5" fill="#f06242"/><circle cx="93" cy="292" r="4.3" fill="#f06242"/><circle cx="111" cy="290.1" r="4.8" fill="#f06242"/><circle cx="123.1" cy="293.2" r="3.4" fill="#f06242"/><circle cx="61.7" cy="301.2" r="3.5" fill="#c074c4"/><circle cx="79.8" cy="306" r="4.8" fill="#c074c4"/><circle cx="95.4" cy="304.8" r="2.9" fill="#6db823"/><circle cx="110.6" cy="303.3" r="3.8" fill="#f06242"/><circle cx="48" cy="309.6" r="2.9" fill="#6db823"/><circle cx="75.4" cy="318" r="3.2" fill="#f06242"/><circle cx="41.3" cy="324.5" r="3.8" fill="#c074c4"/><circle cx="59.3" cy="326.4" r="4" fill="#c074c4"/><circle cx="94.2" cy="322.8" r="4.8" fill="#c074c4"/><circle cx="111" cy="322.1" r="3.5" fill="#22b2f2"/><circle cx="123.1" cy="331.7" r="3.4" fill="#f06242"/><circle cx="81" cy="332.9" r="3.5" fill="#22b2f2"/><circle cx="104.3" cy="334.1" r="3.2" fill="#f06242"/><circle cx="31.2" cy="340.1" r="3.2" fill="#6db823"/><circle cx="47.3" cy="337.3" r="4.3" fill="#6db823"/><circle cx="66.5" cy="337.7" r="4.8" fill="#c074c4"/><circle cx="89.9" cy="343.7" r="2.9" fill="#c074c4"/><circle cx="112.2" cy="345.4" r="3.5" fill="#22b2f2"/><circle cx="55.2" cy="349.8" r="3.2" fill="#c074c4"/><circle cx="24.4" cy="353.4" r="3.5" fill="#c074c4"/><circle cx="40.8" cy="354.6" r="5.4" fill="#22b2f2"/><circle cx="73" cy="352.2" r="4.6" fill="#6db823"/><circle cx="100.9" cy="355.8" r="3.5" fill="#6db823"/><circle cx="85.1" cy="358.9" r="4.6" fill="#c074c4"/><circle cx="62.9" cy="363.7" r="5.4" fill="#22b2f2"/><circle cx="116.3" cy="363" r="3.2" fill="#6db823"/><circle cx="34.5" cy="366.6" r="5.4" fill="#c074c4"/><circle cx="49.7" cy="367.8" r="3.5" fill="#6db823"/><circle cx="105" cy="370.9" r="3.5" fill="#22b2f2"/><circle cx="72.1" cy="373.8" r="5.2" fill="#22b2f2"/><circle cx="87.5" cy="372.6" r="3.2" fill="#22b2f2"/><circle cx="19.1" cy="371.9" r="3.5" fill="#c074c4"/><circle cx="25.6" cy="383.2" r="3.8" fill="#22b2f2"/><circle cx="40.8" cy="382.9" r="4.9" fill="#c074c4"/><circle cx="55.2" cy="384.3" r="4.6" fill="#22b2f2"/><circle cx="67.7" cy="390.1" r="4.6" fill="#22b2f2"/><circle cx="96.6" cy="384.4" r="4.3" fill="#c074c4"/><circle cx="115.8" cy="382.6" r="4.6" fill="#6db823"/><circle cx="130.8" cy="289.1" r="3.2" fill="#f06242"/><circle cx="150.1" cy="294.9" r="4" fill="#c074c4"/><circle cx="155.6" cy="298" r="2.9" fill="#f06242"/><circle cx="126.7" cy="302.9" r="4" fill="#c074c4"/><circle cx="140.4" cy="308.4" r="3.2" fill="#f06242"/><circle cx="162.1" cy="310.1" r="2.9" fill="#f06242"/><circle cx="175.8" cy="312.5" r="2.9" fill="#c074c4"/><circle cx="129.6" cy="318.5" r="2.9" fill="#f06242"/><circle cx="142.9" cy="326.2" r="4" fill="#f06242"/><circle cx="158.5" cy="324.5" r="4" fill="#c074c4"/><circle cx="194.6" cy="327.6" r="2.9" fill="#f06242"/><circle cx="176.5" cy="330.5" r="3.2" fill="#22b2f2"/><circle cx="136.8" cy="338.9" r="4.6" fill="#c074c4"/><circle cx="153.2" cy="341.3" r="3.2" fill="#c074c4"/><circle cx="168.1" cy="340.6" r="3.5" fill="#6db823"/><circle cx="189.8" cy="343" r="4" fill="#f06242"/><circle cx="206.1" cy="345" r="3.5" fill="#f06242"/><circle cx="126.7" cy="349.8" r="3.8" fill="#22b2f2"/><circle cx="146" cy="356.5" r="3.2" fill="#22b2f2"/><circle cx="163.3" cy="355.1" r="4.6" fill="#f06242"/><circle cx="178.9" cy="353.4" r="3.5" fill="#22b2f2"/><circle cx="196.5" cy="357" r="3.2" fill="#c074c4"/><circle cx="212.6" cy="361.8" r="3.5" fill="#22b2f2"/><circle cx="134" cy="363.7" r="4.3" fill="#6db823"/><circle cx="150.8" cy="370.2" r="4.8" fill="#c074c4"/><circle cx="166.2" cy="370.9" r="3.5" fill="#6db823"/><circle cx="181.3" cy="368.5" r="5.4" fill="#6db823"/><circle cx="198.2" cy="370.9" r="3.8" fill="#6db823"/><circle cx="216.2" cy="376.7" r="4" fill="#22b2f2"/><circle cx="128.4" cy="376.7" r="4.6" fill="#c074c4"/><circle cx="142.9" cy="382.6" r="4.5" fill="#c074c4"/><circle cx="159" cy="386.7" r="4.3" fill="#6db823"/><circle cx="172.9" cy="384.3" r="4.8" fill="#6db823"/><circle cx="189.8" cy="382.9" r="4.8" fill="#6db823"/><circle cx="206.6" cy="386.7" r="4.8" fill="#6db823"/><circle cx="82.2" cy="388.4" r="4" fill="#6db823"/><circle cx="16" cy="395.6" r="3.2" fill="#6db823"/><circle cx="31.2" cy="400.4" r="3.8" fill="#c074c4"/><circle cx="46.1" cy="396.4" r="3.2" fill="#c074c4"/><circle cx="60" cy="403.6" r="3.8" fill="#6db823"/><circle cx="77.8" cy="402.9" r="4.3" fill="#c074c4"/><circle cx="94.2" cy="400.4" r="4.3" fill="#c074c4"/><circle cx="113.9" cy="397.3" r="4.8" fill="#6db823"/><circle cx="23.2" cy="412.5" r="4.3" fill="#6db823"/><circle cx="42" cy="410.8" r="4.3" fill="#c074c4"/><circle cx="70.6" cy="416.1" r="5.4" fill="#22b2f2"/><circle cx="88.9" cy="414.9" r="4.3" fill="#6db823"/><circle cx="102.6" cy="410.8" r="4.3" fill="#c074c4"/><circle cx="120.5" cy="408.9" r="4.8" fill="#c074c4"/><circle cx="54.5" cy="419.7" r="3.8" fill="#6db823"/><circle cx="23.2" cy="426.2" r="3.2" fill="#c074c4"/><circle cx="36.9" cy="426.2" r="3.5" fill="#c074c4"/><circle cx="102.6" cy="426.2" r="4.8" fill="#6db823"/><circle cx="118.3" cy="424.5" r="4.3" fill="#c074c4"/><circle cx="65.3" cy="431.7" r="4.6" fill="#6db823"/><circle cx="82.2" cy="428.1" r="3.5" fill="#c074c4"/><circle cx="48.5" cy="434.8" r="3.8" fill="#c074c4"/><circle cx="94.2" cy="437.7" r="4.8" fill="#c074c4"/><circle cx="111" cy="440.1" r="4.8" fill="#6db823"/><circle cx="32.9" cy="443" r="3.5" fill="#22b2f2"/><circle cx="57.6" cy="445.4" r="4.6" fill="#22b2f2"/><circle cx="76.2" cy="443" r="4.3" fill="#6db823"/><circle cx="121.6" cy="447.4" r="4" fill="#c074c4"/><circle cx="84.1" cy="452.6" r="3.5" fill="#c074c4"/><circle cx="99" cy="451.7" r="3.2" fill="#22b2f2"/><circle cx="43.2" cy="455.1" r="3.5" fill="#6db823"/><circle cx="67.7" cy="457" r="3.5" fill="#22b2f2"/><circle cx="111.5" cy="459.4" r="3.2" fill="#6db823"/><circle cx="51.4" cy="465.4" r="2.1" fill="#1c8a5c"/><circle cx="78.6" cy="470.2" r="3.2" fill="#22b2f2"/><circle cx="93" cy="469.5" r="3.8" fill="#22b2f2"/><circle cx="105.7" cy="473.8" r="3.5" fill="#6db823"/><circle cx="121.5" cy="476" r="4" fill="#22b2f2"/><circle cx="63.4" cy="475.7" r="3.5" fill="#22b2f2"/><circle cx="81" cy="483.9" r="3.5" fill="#c074c4"/><circle cx="96.6" cy="487" r="3.4" fill="#22b2f2"/><circle cx="129.6" cy="393.2" r="4.8" fill="#6db823"/><circle cx="150.1" cy="397.3" r="4.3" fill="#22b2f2"/><circle cx="179.7" cy="398" r="5.4" fill="#6db823"/><circle cx="195.1" cy="396.4" r="4.8" fill="#22b2f2"/><circle cx="218.1" cy="396.8" r="4" fill="#22b2f2"/><circle cx="165.7" cy="402.9" r="5.4" fill="#6db823"/><circle cx="205.4" cy="405.3" r="4" fill="#6db823"/><circle cx="138" cy="405.3" r="5.2" fill="#22b2f2"/><circle cx="153.7" cy="412.5" r="3.5" fill="#f06242"/><circle cx="185.4" cy="411.3" r="5.2" fill="#22b2f2"/><circle cx="172.9" cy="417.3" r="4" fill="#22b2f2"/><circle cx="211.4" cy="417.3" r="5.4" fill="#6db823"/><circle cx="194.6" cy="420.4" r="5.4" fill="#22b2f2"/><circle cx="131.5" cy="418.5" r="4.6" fill="#c074c4"/><circle cx="144.1" cy="424.5" r="2.9" fill="#c074c4"/><circle cx="161.4" cy="426.4" r="5.7" fill="#c074c4"/><circle cx="183.7" cy="430.5" r="3.5" fill="#22b2f2"/><circle cx="205.4" cy="431" r="4.3" fill="#22b2f2"/><circle cx="130.8" cy="434.8" r="5.9" fill="#c074c4"/><circle cx="150.1" cy="437.7" r="3.8" fill="#6db823"/><circle cx="170.5" cy="437.7" r="3.2" fill="#c074c4"/><circle cx="200.6" cy="443.7" r="3.2" fill="#c074c4"/><circle cx="139.7" cy="448.6" r="4.3" fill="#c074c4"/><circle cx="158.5" cy="449.8" r="5.2" fill="#c074c4"/><circle cx="185.4" cy="446.9" r="3.5" fill="#c074c4"/><circle cx="172.4" cy="456.5" r="3.8" fill="#22b2f2"/><circle cx="128.4" cy="461.8" r="4.3" fill="#c074c4"/><circle cx="147.7" cy="461.8" r="4.6" fill="#c074c4"/><circle cx="160.4" cy="466.1" r="3.8" fill="#c074c4"/><circle cx="188.6" cy="461.3" r="3.2" fill="#6db823"/><circle cx="137.3" cy="473.8" r="4" fill="#6db823"/><circle cx="175.8" cy="473.8" r="3.2" fill="#6db823"/><circle cx="159" cy="480.6" r="3.5" fill="#6db823"/><circle cx="144.1" cy="485.8" r="3.5" fill="#22b2f2"/><path d="M358 294.6Q361.1 311.6 346.4 320.6M358 294.6Q365.5 298.4 373.2 295.1M358 294.6Q365.7 290.6 373.2 295.1M351.2 307.9Q357.4 305.2 364 306.7M351.2 307.9Q357.4 312.7 360.4 319.9M351.2 307.9Q355.2 314.4 360.4 319.9M351.2 307.9Q363.7 313.2 376.4 308.6M351.2 307.9Q363.9 304 376.4 308.6M351.2 307.9Q364.3 311 373.2 321.1M351.2 307.9Q359.9 318.4 373.2 321.1M364 306.7Q353.7 311.7 346.4 320.6M364 306.7Q372.5 304 373.2 295.1M364 306.7Q369.7 311.2 376.4 308.6M364 306.7Q370.7 304.2 376.4 308.6M364 306.7Q364.7 316.4 373.2 321.1M360.4 319.9Q367 318.6 373.2 321.1M301.9 313.9Q291.9 314.6 288.7 324M301.9 313.9Q296.4 320.4 288.7 324M301.9 313.9Q310.3 315.3 315.1 322.3M288.7 324Q295.8 322.5 301.9 326.4M288.7 324Q294.9 327.5 301.9 326.4M288.7 324Q288.8 331.7 294.7 336.7M288.7 324Q295.6 337.7 310.8 336M288.7 324Q303.2 323.7 310.8 336M301.9 326.4Q299.6 332.5 294.7 336.7M301.9 326.4Q305 332.5 310.8 336M294.7 336.7Q302.6 332.5 310.8 336M304.3 348Q312 345.4 320 347.1M304.3 348Q312.3 350.3 320 347.1M304.3 348Q302.3 354.6 297.1 359.1M304.3 348Q311.2 351 312.7 358.4M304.3 348Q311.5 358.9 304.3 369.7M320 347.1Q313.8 351.1 312.7 358.4M320 347.1Q318.6 354.2 312.7 358.4M320 347.1Q311.2 357.8 317.1 370.4M297.1 359.1Q305 361.6 312.7 358.4M297.1 359.1Q297.3 366.7 304.3 369.7M312.7 358.4Q309.5 364.8 304.3 369.7M312.7 358.4Q317.2 363.5 317.1 370.4M317.1 370.4Q324.6 365.9 332.5 369.7M317.1 370.4Q325 373.7 332.5 369.7M317.1 370.4Q316.6 378.9 309.1 382.9M317.1 370.4Q309.9 374.6 309.1 382.9M332.5 369.7Q324.2 382.3 309.1 382.9M277.9 375.9Q270.3 373.3 264.1 378.3M277.9 375.9Q271.3 378.9 264.1 378.3M277.9 375.9Q278.3 383 271.8 386M264.1 378.3Q270.5 379.6 271.8 386M264.1 378.3Q265.5 384.6 271.8 386M264.1 378.3Q259.3 386.2 263.4 394.4M271.8 386Q270.2 392.8 263.4 394.4M271.8 386Q266.4 389 263.4 394.4M373.2 295.1Q370.6 302.8 376.4 308.6M376.4 308.6Q372.3 314.2 373.2 321.1M376.4 308.6Q377.5 315.5 373.2 321.1M402.1 303Q394.2 302.7 390.1 309.5M402.1 303Q396.6 307.2 390.1 309.5M402.1 303Q405.5 310.1 401.4 316.8M402.1 303Q398.5 309.7 401.4 316.8M402.1 303Q399.6 316.9 386.9 323M402.1 303Q408.1 313.5 410 325.4M402.1 303Q403.8 315 410 325.4M402.1 303Q393.9 316.5 397.3 331.9M413.4 309.5Q419.2 311.9 423.7 316.3M413.4 309.5Q417.4 314.7 423.7 316.3M413.4 309.5Q401.3 318.5 386.9 323M413.4 309.5Q416.9 318.6 410 325.4M413.4 309.5Q406.4 316.3 410 325.4M413.4 309.5Q411 322.4 422.1 329.5M413.4 309.5Q424.6 316.5 422.1 329.5M390.1 309.5Q387.7 316.1 386.9 323M390.1 309.5Q402.1 314.9 410 325.4M390.1 309.5Q401.1 318.3 397.3 331.9M401.4 316.8Q412.4 310.8 423.7 316.3M401.4 316.8Q393.3 317.9 386.9 323M401.4 316.8Q408.8 327.9 422.1 329.5M401.4 316.8Q414.8 318.2 422.1 329.5M401.4 316.8Q402.8 325.3 397.3 331.9M401.4 316.8Q397.3 323.8 397.3 331.9M423.7 316.3Q418.5 322.4 422.1 329.5M423.7 316.3Q427.2 323.4 422.1 329.5M386.9 323Q397.9 329.9 410 325.4M386.9 323Q398.6 322.9 410 325.4M410 325.4Q404.6 330.5 397.3 331.9M420.1 342.7Q426.1 337.1 433.4 340.8M433.4 340.8Q428 346.4 431 353.6M445.4 374Q446.5 378.7 446.6 383.6M445.4 374Q443.6 379.1 446.6 383.6M458.6 372.1Q462.9 384.9 459.8 398M458.6 372.1Q451.2 385.4 459.8 398M446.6 383.6Q453.5 386.3 460.6 384.1M446.6 383.6Q453.7 380.7 460.6 384.1M446.6 383.6Q443.2 391.2 446.6 398.8M276.2 401.7Q283.2 402.1 289.9 404.1M276.2 401.7Q276.4 408.2 279.1 414.2M276.2 401.7Q287 406.2 292.3 416.6M289.9 404.1Q286.7 411.5 279.1 414.2M289.9 404.1Q281.7 406.1 279.1 414.2M271.4 434.8Q279.6 441.6 289.9 438.9M271.4 434.8Q281.1 435 289.9 438.9M289.9 438.9Q282.8 446.7 285.1 457M289.9 438.9Q288.9 448.3 285.1 457M277.9 445Q287.1 448.8 297.1 449.8M277.9 445Q288.7 442.7 297.1 449.8M297.1 449.8Q289.2 450.2 285.1 457M309.8 453.4Q317.1 454.1 323.6 457.5M309.8 453.4Q315.8 458.3 323.6 457.5M309.8 453.4Q308.4 460.1 312.7 465.4M309.8 453.4Q312.5 459.1 312.7 465.4M309.8 453.4Q324.1 457.9 327.2 472.6M309.8 453.4Q315.3 465.9 327.2 472.6M323.6 457.5Q320.7 465 312.7 465.4M323.6 457.5Q316.3 458.9 312.7 465.4M323.6 457.5Q318.3 468.1 316.3 479.8M312.7 465.4Q316.3 472.1 316.3 479.8M327.2 472.6Q315.5 480.5 303.1 473.8M327.2 472.6Q314.7 464.8 303.1 473.8M303.1 473.8Q309.2 478 316.3 479.8M349.3 467.1Q354.7 472 362 472.6M353.6 479.8Q359.1 477.7 362 472.6M353.6 479.8Q350.8 484.2 346.4 487M353.6 479.8Q359.5 480.6 364.8 483.4M353.6 479.8Q358 485.4 364.8 483.4M346.4 487Q354.8 481.4 364.8 483.4M428.6 429.3Q436.2 430.6 443 426.9M386.9 460.6Q390.6 467.9 386.5 475M386.9 460.6Q381.9 467.7 386.5 475M386.9 460.6Q389.5 469.7 398.5 472.6M386.9 460.6Q396.1 463.3 398.5 472.6M399.7 458.2Q391 464.9 386.5 475M399.7 458.2Q395.6 468.6 386.5 475M399.7 458.2Q403.7 465.8 398.5 472.6M399.7 458.2Q397.4 465.3 398.5 472.6M399.7 458.2Q395.1 472.3 385.3 483.4M399.7 458.2Q393 471.3 395.6 485.8M399.7 458.2Q405.6 473.2 395.6 485.8M386.5 475Q392 471.5 398.5 472.6M386.5 475Q393.3 477.8 398.5 472.6M398.5 472.6Q393.7 480.2 385.3 483.4M271.4 434.8Q276.1 439 277.9 445M433.4 340.8Q438.8 337.9 444.7 336.7M353.6 479.8Q357.7 476 362 472.6M333.2 346.3Q338.2 350.8 340.4 357.2M288.7 324Q295.8 322.6 301.9 326.4M312.7 358.4Q313.7 364.8 317.1 370.4M276.2 401.7Q276.7 408.2 279.1 414.2M338 310.3Q344.8 313.3 346.4 320.6M387.7 296.5Q385.2 303.7 390.1 309.5M458.6 372.1Q462.4 377.6 460.6 384.1M340.4 357.2Q347.2 355.6 353.6 358.4M289.9 404.1Q292.7 410 292.3 416.6M386.9 323Q385.4 329 382.1 334.3M433.4 340.8Q432.3 347.2 431 353.6M444.7 336.7Q443.7 343.6 448.5 348.7M397.3 331.9Q404.3 333.4 407.6 339.8M268.2 422.1Q269.2 428.6 271.4 434.8M301.9 313.9Q301 320.1 301.9 326.4M264.1 378.3Q269.1 381 271.8 386M285.1 457Q290.8 459.5 295.4 463.7M309.8 453.4Q311.6 459.3 312.7 465.4M402.1 352.4Q396.2 356.6 395.6 363.9M386.9 460.6Q379.7 461.3 374.4 466.1M294.7 381.2Q296.3 381.5 297.8 381.9M336.8 462.3Q344.3 461.5 349.3 467.1M385.3 483.4Q390.7 483.7 395.6 485.8M321.9 445Q320.4 451.6 323.6 457.5M373.2 481Q369.1 482.5 364.8 483.4M332.5 369.7Q339.2 369.2 345.9 370.4M413.4 309.5Q418 313.8 423.7 316.3M407.6 339.8Q414.6 337.8 420.1 342.7M446.6 398.8Q446.1 405.2 447.8 411.3M401.4 316.8Q404.7 322.1 410 325.4M301.9 326.4Q300.7 333.2 294.7 336.7M339.7 477.4Q343.5 481.9 346.4 487M448.5 348.7Q449.4 355.5 455 359.6M294.7 381.2Q291.8 386.8 286.3 390.1M459.8 398Q460 404.1 460.6 410.1M272.3 350Q277.3 354.7 280.3 360.8" fill="none" stroke="#c0c0c0" stroke-width="0.75" opacity="0.9"/><path d="M314.7 306.2Q321.3 301.7 329.1 299.9M314.7 306.2Q317.6 312.3 324.3 312.7M314.7 306.2Q324.5 313.2 331.5 323M329.1 299.9Q325.3 305.8 324.3 312.7M329.1 299.9Q333.5 311.1 331.5 323M324.3 312.7Q325.1 319.8 331.5 323M324.3 312.7Q330.9 323.6 338.7 333.6M331.5 323Q333 329.7 338.7 333.6M331.5 323Q344 330.7 346.9 345.1M338.7 333.6Q352.6 336.2 366.6 333.9M338.7 333.6Q342.6 339.5 346.9 345.1M338.7 333.6Q327.4 344.6 324.8 360.1M366.6 333.9Q355.4 337.2 346.9 345.1M346.9 345.1Q332.2 347.2 324.8 360.1M302.6 408.9Q305.8 415.5 309.1 422.1M302.6 408.9Q296.7 418.3 298.8 429.3M302.6 408.9Q289.8 414.1 283.4 426.2M302.6 408.9Q309.3 423.9 306.7 440.1M309.1 422.1Q303.5 425 298.8 429.3M309.1 422.1Q297.2 430.1 283.4 426.2M309.1 422.1Q308.2 431.1 306.7 440.1M298.8 429.3Q290.4 431.4 283.4 426.2M298.8 429.3Q305.7 432.6 306.7 440.1M283.4 426.2Q294.4 434.2 306.7 440.1" fill="none" stroke="#62b822" stroke-width="0.85" opacity="0.9"/><path d="M322.8 384.6Q329 385 335 383.4M322.8 384.6Q321.8 392.9 314.7 397.3M322.8 384.6Q335.2 386 340.4 397.3M322.8 384.6Q323.7 397.8 331.5 408.4M335 383.4Q341.1 386.2 347.6 384.2M335 383.4Q324.9 390.4 314.7 397.3M335 383.4Q336.3 390.9 340.4 397.3M335 383.4Q340.6 396.9 331.5 408.4M347.6 384.2Q342.4 389.9 340.4 397.3M347.6 384.2Q346.4 396.7 345.9 409.3M347.6 384.2Q333.8 384.7 327.2 396.8M314.7 397.3Q327.5 395.6 340.4 397.3M314.7 397.3Q324.3 401.1 331.5 408.4M314.7 397.3Q319.4 409.3 324.8 420.9M340.4 397.3Q332.8 400.4 331.5 408.4M340.4 397.3Q344.3 402.8 345.9 409.3M340.4 397.3Q339.7 408.2 338 419M340.4 397.3Q325.6 397.7 317.5 410.1M331.5 408.4Q338.9 405.4 345.9 409.3M331.5 408.4Q330.1 415.7 324.8 420.9M331.5 408.4Q333.4 414.5 338 419M331.5 408.4Q324.4 408.8 317.5 410.1M331.5 408.4Q346.7 407.3 356.5 419M345.9 409.3Q336 416.3 324.8 420.9M345.9 409.3Q342.7 414.8 338 419M345.9 409.3Q337.4 401.8 327.2 396.8M345.9 409.3Q350.7 403.8 353.1 396.8M324.8 420.9Q331.1 417.7 338 419M338 419Q326.4 417.7 317.5 410.1M338 419Q347.2 416.1 356.5 419" fill="none" stroke="#f08012" stroke-width="0.85" opacity="0.9"/><path d="M322.8 384.6Q328.5 389.4 327.2 396.8M322.8 384.6Q318.1 396.9 317.5 410.1M335 383.4Q334.1 391.8 327.2 396.8M335 383.4Q343.8 390.5 353.1 396.8M347.6 384.2Q352.7 389.5 353.1 396.8M314.7 397.3Q320.8 393.8 327.2 396.8M314.7 397.3Q319.6 402.9 317.5 410.1M340.4 397.3Q333.9 395.1 327.2 396.8M340.4 397.3Q346.7 397 353.1 396.8M331.5 408.4Q331.3 401.9 327.2 396.8M331.5 408.4Q342.5 402.9 353.1 396.8M345.9 409.3Q350.9 414.5 356.5 419M324.8 420.9Q324.2 408.7 327.2 396.8M324.8 420.9Q322.3 414.7 317.5 410.1M338 419Q338.1 405.2 327.2 396.8M338 419Q352.1 412.4 353.1 396.8M327.2 396.8Q340.1 398.5 353.1 396.8M327.2 396.8Q324.3 404.9 317.5 410.1M353.1 396.8Q361.3 406.9 356.5 419M353.1 396.8Q365.2 400.9 374 410.1M356.5 419Q363.2 421.5 370.1 423.3M356.5 419Q367.3 418.5 374 410.1M356.5 419Q370.7 425 384.1 417.3M356.5 419Q371.4 418.6 381.7 429.3M356.5 419Q365.9 426.9 372.5 437.3M409.3 388.4Q415.7 386.9 422.1 388.4M409.3 388.4Q422 383 433.4 390.8M404.5 400.4Q413.7 394.9 422.1 388.4M404.5 400.4Q397.8 402.1 394.9 408.4M404.5 400.4Q395.6 410.4 384.1 417.3M418.9 401.2Q405.1 398.7 394.9 408.4M433.4 403.6Q432.4 397.2 433.4 390.8M433.4 403.6Q428.7 409.8 422.1 413.7M433.4 403.6Q437.7 409.5 434.6 416.1M408.1 413.2Q393.1 414 384.1 402.1M408.1 413.2Q402.1 409 394.9 408.4M408.1 413.2Q408.3 420.4 414.1 424.5M370.1 423.3Q375.7 417.8 374 410.1M370.1 423.3Q376.9 419.8 384.1 417.3M370.1 423.3Q374.7 428.5 381.7 429.3M398 421.4Q394.2 415.4 394.9 408.4M398 421.4Q388.1 411.2 374 410.1M398 421.4Q390.7 420.5 384.1 417.3M398 421.4Q390.6 427 381.7 429.3M393.7 431.7Q388 429.2 381.7 429.3M393.7 431.7Q383.6 436.4 372.5 437.3M405.2 434.1Q393.6 427 384.1 417.3M405.2 434.1Q413.9 424.1 422.1 413.7M384.1 443.7Q383.3 430.5 384.1 417.3M397.3 444.5Q404.1 433.2 414.1 424.5M422.1 388.4Q427.8 389.1 433.4 390.8M422.1 388.4Q414.9 401 422.1 413.7M433.4 390.8Q431.7 404.2 422.1 413.7M433.4 390.8Q432.2 403.5 434.6 416.1M384.1 402.1Q390.4 403.7 394.9 408.4M384.1 402.1Q379.5 406.7 374 410.1M384.1 402.1Q386.7 409.7 384.1 417.3M384.1 402.1Q382.9 415.7 381.7 429.3M394.9 408.4Q384.7 411.9 374 410.1M394.9 408.4Q388.2 411.3 384.1 417.3M394.9 408.4Q409 408.4 422.1 413.7M394.9 408.4Q400.4 421.4 414.1 424.5M394.9 408.4Q386.2 417.5 381.7 429.3M374 410.1Q378.3 414.7 384.1 417.3M374 410.1Q380.1 418.8 381.7 429.3M374 410.1Q368.1 423.4 372.5 437.3M384.1 417.3Q385.2 423.8 381.7 429.3M384.1 417.3Q379.1 427.8 372.5 437.3M422.1 413.7Q428.2 415.5 434.6 416.1M422.1 413.7Q416.7 418.1 414.1 424.5M434.6 416.1Q426.7 426 414.1 424.5M381.7 429.3Q377.5 433.8 372.5 437.3" fill="none" stroke="#b088d0" stroke-width="0.85" opacity="0.9"/><path d="M368.1 357.2Q362.9 362.6 360.8 369.7M368.1 357.2Q357.6 368.5 361.2 383.6M368.1 357.2Q373 352.3 374.9 345.6M368.1 357.2Q378.1 348.3 390.8 343.9M368.1 357.2Q375.6 352.4 384.1 354.8M368.1 357.2Q373 361.1 377.3 365.6M368.1 357.2Q367.2 367.6 372 376.9M360.8 369.7Q364.8 376.5 361.2 383.6M360.8 369.7Q371 359.5 374.9 345.6M360.8 369.7Q375.3 366.7 384.1 354.8M360.8 369.7Q369.1 367.7 377.3 365.6M360.8 369.7Q365.5 374.7 372 376.9M360.8 369.7Q370.1 378 379.7 386M361.2 383.6Q367.9 373.4 377.3 365.6M361.2 383.6Q367.7 381.9 372 376.9M361.2 383.6Q370.5 384.1 379.7 386M374.9 345.6Q382.8 344.7 390.8 343.9M374.9 345.6Q380.9 348.8 384.1 354.8M390.8 343.9Q385.3 348 384.1 354.8M390.8 343.9Q387 356.6 377.3 365.6M384.1 354.8Q382.3 361.2 377.3 365.6M384.1 354.8Q372.4 362.8 372 376.9M377.3 365.6Q375.1 371.4 372 376.9M377.3 365.6Q372.9 376.5 379.7 386" fill="none" stroke="#3e3a32" stroke-width="0.85" opacity="0.9"/><path d="M416.5 354.8Q413.5 360.6 409.3 365.6M416.5 354.8Q419.9 361.1 426.2 364.4M416.5 354.8Q416.6 365 417.7 375.2M416.5 354.8Q429.3 361.7 432.2 375.9M409.3 365.6Q418 368.2 426.2 364.4M409.3 365.6Q411.3 372.3 417.7 375.2M409.3 365.6Q417.8 377.4 432.2 375.9M426.2 364.4Q421 369 417.7 375.2M426.2 364.4Q429.7 369.9 432.2 375.9M417.7 375.2Q424.9 377.5 432.2 375.9" fill="none" stroke="#dcb4ac" stroke-width="0.85" opacity="0.9"/><path d="M360.4 408.9Q351.5 418.1 345.2 429.3M360.4 408.9Q355.1 420.8 358 433.4M345.2 429.3Q351 433.4 358 433.4M345.2 429.3Q339.7 433.9 332.5 434.1M345.2 429.3Q354.3 436.5 360.8 446.2M345.2 429.3Q343 439.9 335.6 447.8M345.2 429.3Q347.7 440.8 348.3 452.6M345.2 429.3Q358.1 428.9 367.6 437.7M358 433.4Q345.2 432.8 332.5 434.1M358 433.4Q356.1 440.5 360.8 446.2M358 433.4Q347.5 441.7 335.6 447.8M358 433.4Q355.9 444.4 348.3 452.6M358 433.4Q361.8 437.9 367.6 437.7M332.5 434.1Q337 440.3 335.6 447.8M332.5 434.1Q342.5 441.6 348.3 452.6M360.8 446.2Q348.2 446.5 335.6 447.8M360.8 446.2Q355.5 451.2 348.3 452.6M360.8 446.2Q365.7 443.1 367.6 437.7M335.6 447.8Q343 447.4 348.3 452.6M348.3 452.6Q354.4 440.6 367.6 437.7" fill="none" stroke="#1aaa86" stroke-width="0.85" opacity="0.9"/><path d="M409.3 388.4Q408.5 395.1 404.5 400.4M409.3 388.4Q410.9 397.2 418.9 401.2M409.3 388.4Q412.9 401 408.1 413.2M409.3 388.4Q406.3 401.4 394.9 408.4M404.5 400.4Q411.6 401.9 418.9 401.2M404.5 400.4Q404.2 407.4 408.1 413.2M404.5 400.4Q395.8 409.2 398 421.4M404.5 400.4Q394.3 401.5 384.1 402.1M404.5 400.4Q413 407.5 422.1 413.7M404.5 400.4Q416.2 409.7 414.1 424.5M418.9 401.2Q425.6 405.5 433.4 403.6M418.9 401.2Q413.3 407.1 408.1 413.2M418.9 401.2Q424 395.7 422.1 388.4M418.9 401.2Q426.7 396.8 433.4 390.8M418.9 401.2Q420.2 407.5 422.1 413.7M418.9 401.2Q427.7 407.7 434.6 416.1M418.9 401.2Q413.8 412.3 414.1 424.5M433.4 403.6Q418.4 402.1 408.1 413.2M433.4 403.6Q424.9 398.1 422.1 388.4M408.1 413.2Q401.2 415.1 398 421.4M408.1 413.2Q401.7 423.1 393.7 431.7M408.1 413.2Q400.9 422.9 405.2 434.1M408.1 413.2Q395 408.7 384.1 417.3M408.1 413.2Q415 415.7 422.1 413.7M408.1 413.2Q421.5 412.9 434.6 416.1M370.1 423.3Q383.7 416.8 398 421.4M370.1 423.3Q383.1 424.1 393.7 431.7M370.1 423.3Q376.2 434.1 384.1 443.7M370.1 423.3Q372.2 409.5 384.1 402.1M370.1 423.3Q374.6 429.7 372.5 437.3M398 421.4Q397.8 427.3 393.7 431.7M398 421.4Q403.8 426.5 405.2 434.1M398 421.4Q397.7 436.7 384.1 443.7M398 421.4Q404.2 433.1 397.3 444.5M398 421.4Q390.7 412 384.1 402.1M398 421.4Q411.4 421.7 422.1 413.7M398 421.4Q406.1 422.5 414.1 424.5M393.7 431.7Q398.9 435.5 405.2 434.1M393.7 431.7Q388.2 437.1 384.1 443.7M393.7 431.7Q394.7 438.3 397.3 444.5M393.7 431.7Q404.5 429.9 414.1 424.5M405.2 434.1Q394.3 438.2 384.1 443.7M405.2 434.1Q402.5 440.3 397.3 444.5M405.2 434.1Q407.4 418.3 394.9 408.4M405.2 434.1Q407.8 427.6 414.1 424.5M405.2 434.1Q392.8 434.7 381.7 429.3M384.1 443.7Q390.7 444.7 397.3 444.5M384.1 443.7Q385.4 436.1 381.7 429.3M384.1 443.7Q378.5 440.2 372.5 437.3M397.3 444.5Q393.9 432.4 381.7 429.3M397.3 444.5Q386.8 434.5 372.5 437.3" fill="none" stroke="#22b4f0" stroke-width="0.85" opacity="0.9"/><path d="M419.7 439.7Q427.9 434.7 436.5 438.9M419.7 439.7Q421.6 447 428.6 449.8M419.7 439.7Q417.3 446.5 411.7 451M419.7 439.7Q429.4 449.4 443 451.7M419.7 439.7Q423.1 449.3 421.3 459.4M419.7 439.7Q427.9 450.5 433.4 463M419.7 439.7Q422 455.9 409.3 466.1M436.5 438.9Q431.2 443.4 428.6 449.8M436.5 438.9Q424.9 446.5 411.7 451M436.5 438.9Q436.5 446.9 443 451.7M436.5 438.9Q434.7 453.4 421.3 459.4M436.5 438.9Q431.8 450.5 433.4 463M428.6 449.8Q420 448.7 411.7 451M428.6 449.8Q435.7 451.5 443 451.7M428.6 449.8Q427.4 456.5 421.3 459.4M428.6 449.8Q432.6 455.8 433.4 463M428.6 449.8Q422.4 462.1 409.3 466.1M411.7 451Q427.2 459 443 451.7M411.7 451Q417.1 454.5 421.3 459.4M411.7 451Q423.6 455.1 433.4 463M443 451.7Q437.1 456.4 433.4 463M421.3 459.4Q426.4 464.2 433.4 463M421.3 459.4Q415.9 463.8 409.3 466.1M421.3 459.4Q418.4 471.8 409.3 480.6M433.4 463Q420.6 458.6 409.3 466.1M409.3 466.1Q407.2 473.4 409.3 480.6" fill="none" stroke="#e63e78" stroke-width="0.85" opacity="0.9"/><path d="M338.7 333.6Q331 348 324.8 360.1Q307 384 302.6 408.9M314.7 306.2Q322 330 338.7 333.6M329.1 299.9Q345 318 338.7 333.6" fill="none" stroke="#6cb82c" stroke-width="0.8"/><path d="M360.4 408.9Q372 390 368.1 357.2M360.4 408.9Q358 392 361.2 383.6M345.2 429.3Q352 400 360.8 369.7" fill="none" stroke="#20a888" stroke-width="0.8"/><path d="M409.3 480.6Q396 460 411.7 439.7M409.3 466.1Q405 450 419.7 439.7" fill="none" stroke="#d84c7c" stroke-width="0.8"/><circle cx="314.7" cy="306.2" r="2.5" fill="#62b822"/><circle cx="329.1" cy="299.9" r="2.5" fill="#62b822"/><circle cx="324.3" cy="312.7" r="2.5" fill="#62b822"/><circle cx="331.5" cy="323" r="2.5" fill="#62b822"/><circle cx="338.7" cy="333.6" r="3.1" fill="#62b822"/><circle cx="366.6" cy="333.9" r="2.5" fill="#62b822"/><circle cx="346.9" cy="345.1" r="2.5" fill="#62b822"/><circle cx="324.8" cy="360.1" r="2.3" fill="#62b822"/><circle cx="302.6" cy="408.9" r="3.3" fill="#62b822"/><circle cx="309.1" cy="422.1" r="2.5" fill="#62b822"/><circle cx="298.8" cy="429.3" r="2.5" fill="#62b822"/><circle cx="283.4" cy="426.2" r="2.5" fill="#62b822"/><circle cx="306.7" cy="440.1" r="2.5" fill="#62b822"/><circle cx="344" cy="295.8" r="2.6" fill="#c0c0c0"/><circle cx="358" cy="294.6" r="2.6" fill="#c0c0c0"/><circle cx="351.2" cy="307.9" r="2.6" fill="#c0c0c0"/><circle cx="364" cy="306.7" r="2.6" fill="#c0c0c0"/><circle cx="338" cy="310.3" r="2.6" fill="#c0c0c0"/><circle cx="346.4" cy="320.6" r="2.6" fill="#c0c0c0"/><circle cx="360.4" cy="319.9" r="2.6" fill="#c0c0c0"/><circle cx="301.9" cy="313.9" r="2.6" fill="#c0c0c0"/><circle cx="288.7" cy="324" r="2.6" fill="#c0c0c0"/><circle cx="301.9" cy="326.4" r="2.6" fill="#c0c0c0"/><circle cx="315.1" cy="322.3" r="2.6" fill="#c0c0c0"/><circle cx="294.7" cy="336.7" r="2.6" fill="#c0c0c0"/><circle cx="310.8" cy="336" r="2.6" fill="#c0c0c0"/><circle cx="324.8" cy="334.3" r="2.6" fill="#c0c0c0"/><circle cx="279.1" cy="336.7" r="2.6" fill="#c0c0c0"/><circle cx="353.6" cy="333.1" r="2.6" fill="#c0c0c0"/><circle cx="286.3" cy="348.7" r="2.6" fill="#c0c0c0"/><circle cx="272.3" cy="350" r="2.6" fill="#c0c0c0"/><circle cx="304.3" cy="348" r="2.6" fill="#c0c0c0"/><circle cx="320" cy="347.1" r="2.6" fill="#c0c0c0"/><circle cx="333.2" cy="346.3" r="2.6" fill="#c0c0c0"/><circle cx="280.3" cy="360.8" r="2.6" fill="#c0c0c0"/><circle cx="267" cy="364.4" r="2.6" fill="#c0c0c0"/><circle cx="340.4" cy="357.2" r="2.6" fill="#c0c0c0"/><circle cx="353.6" cy="358.4" r="2.6" fill="#c0c0c0"/><circle cx="297.1" cy="359.1" r="2.6" fill="#c0c0c0"/><circle cx="312.7" cy="358.4" r="2.6" fill="#c0c0c0"/><circle cx="290.6" cy="370.4" r="2.6" fill="#c0c0c0"/><circle cx="304.3" cy="369.7" r="2.6" fill="#c0c0c0"/><circle cx="317.1" cy="370.4" r="2.6" fill="#c0c0c0"/><circle cx="332.5" cy="369.7" r="2.6" fill="#c0c0c0"/><circle cx="345.9" cy="370.4" r="2.6" fill="#c0c0c0"/><circle cx="277.9" cy="375.9" r="2.6" fill="#c0c0c0"/><circle cx="264.1" cy="378.3" r="2.6" fill="#c0c0c0"/><circle cx="271.8" cy="386" r="2.6" fill="#c0c0c0"/><circle cx="294.7" cy="381.2" r="2.6" fill="#c0c0c0"/><circle cx="322.8" cy="384.6" r="3.1" fill="#f08012"/><circle cx="335" cy="383.4" r="3.1" fill="#f08012"/><circle cx="347.6" cy="384.2" r="3.1" fill="#f08012"/><circle cx="368.1" cy="357.2" r="2.8" fill="#3e3a32"/><circle cx="360.8" cy="369.7" r="2.8" fill="#3e3a32"/><circle cx="361.2" cy="383.6" r="2.8" fill="#3e3a32"/><circle cx="373.2" cy="295.1" r="2.6" fill="#c0c0c0"/><circle cx="376.4" cy="308.6" r="2.6" fill="#c0c0c0"/><circle cx="387.7" cy="296.5" r="2.6" fill="#c0c0c0"/><circle cx="402.1" cy="303" r="2.6" fill="#c0c0c0"/><circle cx="413.4" cy="309.5" r="2.6" fill="#c0c0c0"/><circle cx="390.1" cy="309.5" r="2.6" fill="#c0c0c0"/><circle cx="401.4" cy="316.8" r="2.6" fill="#c0c0c0"/><circle cx="423.7" cy="316.3" r="2.6" fill="#c0c0c0"/><circle cx="373.2" cy="321.1" r="2.6" fill="#c0c0c0"/><circle cx="386.9" cy="323" r="2.6" fill="#c0c0c0"/><circle cx="410" cy="325.4" r="2.6" fill="#c0c0c0"/><circle cx="422.1" cy="329.5" r="2.6" fill="#c0c0c0"/><circle cx="434.6" cy="326.4" r="2.6" fill="#c0c0c0"/><circle cx="382.1" cy="334.3" r="2.6" fill="#c0c0c0"/><circle cx="397.3" cy="331.9" r="2.6" fill="#c0c0c0"/><circle cx="407.6" cy="339.8" r="2.6" fill="#c0c0c0"/><circle cx="420.1" cy="342.7" r="2.6" fill="#c0c0c0"/><circle cx="433.4" cy="340.8" r="2.6" fill="#c0c0c0"/><circle cx="444.7" cy="336.7" r="2.6" fill="#c0c0c0"/><circle cx="448.5" cy="348.7" r="2.6" fill="#c0c0c0"/><circle cx="431" cy="353.6" r="2.6" fill="#c0c0c0"/><circle cx="441.8" cy="361.5" r="2.6" fill="#c0c0c0"/><circle cx="455" cy="359.6" r="2.6" fill="#c0c0c0"/><circle cx="402.1" cy="352.4" r="2.6" fill="#c0c0c0"/><circle cx="395.6" cy="363.9" r="2.6" fill="#c0c0c0"/><circle cx="388.9" cy="375.9" r="2.6" fill="#c0c0c0"/><circle cx="402.1" cy="376.4" r="2.6" fill="#c0c0c0"/><circle cx="445.4" cy="374" r="2.6" fill="#c0c0c0"/><circle cx="458.6" cy="372.1" r="2.6" fill="#c0c0c0"/><circle cx="446.6" cy="383.6" r="2.6" fill="#c0c0c0"/><circle cx="460.6" cy="384.1" r="2.6" fill="#c0c0c0"/><circle cx="374.9" cy="345.6" r="2.8" fill="#3e3a32"/><circle cx="390.8" cy="343.9" r="2.8" fill="#3e3a32"/><circle cx="384.1" cy="354.8" r="2.8" fill="#3e3a32"/><circle cx="377.3" cy="365.6" r="2.8" fill="#3e3a32"/><circle cx="372" cy="376.9" r="2.8" fill="#3e3a32"/><circle cx="379.7" cy="386" r="2.8" fill="#3e3a32"/><circle cx="416.5" cy="354.8" r="2.8" fill="#dcb4ac"/><circle cx="409.3" cy="365.6" r="2.8" fill="#dcb4ac"/><circle cx="426.2" cy="364.4" r="2.8" fill="#dcb4ac"/><circle cx="417.7" cy="375.2" r="2.8" fill="#dcb4ac"/><circle cx="432.2" cy="375.9" r="2.8" fill="#dcb4ac"/><circle cx="314.7" cy="397.3" r="3.5" fill="#f08012"/><circle cx="340.4" cy="397.3" r="3.5" fill="#f08012"/><circle cx="331.5" cy="408.4" r="3.5" fill="#f08012"/><circle cx="345.9" cy="409.3" r="3.5" fill="#f08012"/><circle cx="324.8" cy="420.9" r="3.5" fill="#f08012"/><circle cx="338" cy="419" r="3.5" fill="#f08012"/><circle cx="327.2" cy="396.8" r="3.5" fill="#b088d0"/><circle cx="353.1" cy="396.8" r="3.5" fill="#b088d0"/><circle cx="317.5" cy="410.1" r="3.5" fill="#b088d0"/><circle cx="356.5" cy="419" r="5.1" fill="#b088d0"/><circle cx="360.4" cy="408.9" r="3.3" fill="#1aaa86"/><circle cx="345.2" cy="429.3" r="3.3" fill="#1aaa86"/><circle cx="358" cy="433.4" r="3.3" fill="#1aaa86"/><circle cx="332.5" cy="434.1" r="3.3" fill="#1aaa86"/><circle cx="360.8" cy="446.2" r="3.3" fill="#1aaa86"/><circle cx="335.6" cy="447.8" r="3.3" fill="#1aaa86"/><circle cx="348.3" cy="452.6" r="3.3" fill="#1aaa86"/><circle cx="346.4" cy="440.6" r="2.6" fill="#c0c0c0"/><circle cx="367.6" cy="437.7" r="3.3" fill="#1aaa86"/><circle cx="286.3" cy="390.1" r="2.6" fill="#c0c0c0"/><circle cx="297.8" cy="381.9" r="2.6" fill="#c0c0c0"/><circle cx="309.1" cy="382.9" r="2.6" fill="#c0c0c0"/><circle cx="263.4" cy="394.4" r="2.6" fill="#c0c0c0"/><circle cx="300.2" cy="395.6" r="2.6" fill="#c0c0c0"/><circle cx="276.2" cy="401.7" r="2.6" fill="#c0c0c0"/><circle cx="289.9" cy="404.1" r="2.6" fill="#c0c0c0"/><circle cx="264.1" cy="408.9" r="2.6" fill="#c0c0c0"/><circle cx="279.1" cy="414.2" r="2.6" fill="#c0c0c0"/><circle cx="292.3" cy="416.6" r="2.6" fill="#c0c0c0"/><circle cx="268.2" cy="422.1" r="2.6" fill="#c0c0c0"/><circle cx="316.3" cy="431.7" r="2.6" fill="#c0c0c0"/><circle cx="271.4" cy="434.8" r="2.6" fill="#c0c0c0"/><circle cx="289.9" cy="438.9" r="2.6" fill="#c0c0c0"/><circle cx="277.9" cy="445" r="2.6" fill="#c0c0c0"/><circle cx="297.1" cy="449.8" r="2.6" fill="#c0c0c0"/><circle cx="321.9" cy="445" r="2.6" fill="#c0c0c0"/><circle cx="285.1" cy="457" r="2.6" fill="#c0c0c0"/><circle cx="309.8" cy="453.4" r="2.6" fill="#c0c0c0"/><circle cx="323.6" cy="457.5" r="2.6" fill="#c0c0c0"/><circle cx="362" cy="459.4" r="2.6" fill="#c0c0c0"/><circle cx="295.4" cy="463.7" r="2.6" fill="#c0c0c0"/><circle cx="336.8" cy="462.3" r="2.6" fill="#c0c0c0"/><circle cx="312.7" cy="465.4" r="2.6" fill="#c0c0c0"/><circle cx="327.2" cy="472.6" r="2.6" fill="#c0c0c0"/><circle cx="303.1" cy="473.8" r="2.6" fill="#c0c0c0"/><circle cx="349.3" cy="467.1" r="2.6" fill="#c0c0c0"/><circle cx="316.3" cy="479.8" r="2.6" fill="#c0c0c0"/><circle cx="339.7" cy="477.4" r="2.6" fill="#c0c0c0"/><circle cx="353.6" cy="479.8" r="2.6" fill="#c0c0c0"/><circle cx="362" cy="472.6" r="2.6" fill="#c0c0c0"/><circle cx="328.4" cy="485.8" r="2.6" fill="#c0c0c0"/><circle cx="346.4" cy="487" r="2.6" fill="#c0c0c0"/><circle cx="409.3" cy="388.4" r="3.3" fill="#22b4f0"/><circle cx="404.5" cy="400.4" r="3.3" fill="#22b4f0"/><circle cx="418.9" cy="401.2" r="3.3" fill="#22b4f0"/><circle cx="433.4" cy="403.6" r="3.3" fill="#22b4f0"/><circle cx="408.1" cy="413.2" r="4.9" fill="#22b4f0"/><circle cx="370.1" cy="423.3" r="3.8" fill="#22b4f0"/><circle cx="398" cy="421.4" r="3.8" fill="#22b4f0"/><circle cx="393.7" cy="431.7" r="3.8" fill="#22b4f0"/><circle cx="405.2" cy="434.1" r="3.8" fill="#22b4f0"/><circle cx="384.1" cy="443.7" r="3.8" fill="#22b4f0"/><circle cx="397.3" cy="444.5" r="3.8" fill="#22b4f0"/><circle cx="422.1" cy="388.4" r="3.3" fill="#b088d0"/><circle cx="433.4" cy="390.8" r="3.3" fill="#b088d0"/><circle cx="384.1" cy="402.1" r="3.8" fill="#b088d0"/><circle cx="394.9" cy="408.4" r="3.8" fill="#b088d0"/><circle cx="374" cy="410.1" r="3.8" fill="#b088d0"/><circle cx="384.1" cy="417.3" r="3.8" fill="#b088d0"/><circle cx="422.1" cy="413.7" r="3.3" fill="#b088d0"/><circle cx="434.6" cy="416.1" r="3.3" fill="#b088d0"/><circle cx="414.1" cy="424.5" r="3.8" fill="#b088d0"/><circle cx="381.7" cy="429.3" r="3.8" fill="#b088d0"/><circle cx="372.5" cy="437.3" r="3.8" fill="#b088d0"/><circle cx="419.7" cy="439.7" r="2.8" fill="#e63e78"/><circle cx="436.5" cy="438.9" r="2.8" fill="#e63e78"/><circle cx="428.6" cy="449.8" r="2.8" fill="#e63e78"/><circle cx="411.7" cy="451" r="2.8" fill="#e63e78"/><circle cx="443" cy="451.7" r="2.8" fill="#e63e78"/><circle cx="421.3" cy="459.4" r="2.8" fill="#e63e78"/><circle cx="433.4" cy="463" r="2.8" fill="#e63e78"/><circle cx="409.3" cy="466.1" r="2.8" fill="#e63e78"/><circle cx="409.3" cy="480.6" r="2.8" fill="#e63e78"/><circle cx="393.7" cy="390.1" r="2.6" fill="#c0c0c0"/><circle cx="369.6" cy="395.6" r="2.6" fill="#c0c0c0"/><circle cx="446.6" cy="398.8" r="2.6" fill="#c0c0c0"/><circle cx="459.8" cy="398" r="2.6" fill="#c0c0c0"/><circle cx="447.8" cy="411.3" r="2.6" fill="#c0c0c0"/><circle cx="460.6" cy="410.1" r="2.6" fill="#c0c0c0"/><circle cx="428.6" cy="429.3" r="2.6" fill="#c0c0c0"/><circle cx="443" cy="426.9" r="2.6" fill="#c0c0c0"/><circle cx="456.2" cy="424.5" r="2.6" fill="#c0c0c0"/><circle cx="450.9" cy="438.9" r="2.6" fill="#c0c0c0"/><circle cx="375.6" cy="452.2" r="2.6" fill="#c0c0c0"/><circle cx="386.9" cy="460.6" r="2.6" fill="#c0c0c0"/><circle cx="399.7" cy="458.2" r="2.6" fill="#c0c0c0"/><circle cx="422.1" cy="473.8" r="2.6" fill="#c0c0c0"/><circle cx="374.4" cy="466.1" r="2.6" fill="#c0c0c0"/><circle cx="386.5" cy="475" r="2.6" fill="#c0c0c0"/><circle cx="398.5" cy="472.6" r="2.6" fill="#c0c0c0"/><circle cx="373.2" cy="481" r="2.6" fill="#c0c0c0"/><circle cx="385.3" cy="483.4" r="2.6" fill="#c0c0c0"/><circle cx="395.6" cy="485.8" r="2.6" fill="#c0c0c0"/><circle cx="364.8" cy="483.4" r="2.6" fill="#c0c0c0"/></g>
<g filter="url(#bt)"><circle cx="22" cy="231.8" r="6.1" fill="#c21a2c"/><text x="32.3" y="235.2" font-size="8.1">Proteobacteria (56.86%)</text><circle cx="22" cy="249.0" r="6.1" fill="#55ade2"/><text x="32.3" y="252.5" font-size="8.1">Bacteroidetes (11.42%)</text><circle cx="22" cy="266.6" r="6.1" fill="#1d69ab"/><text x="32.3" y="270.1" font-size="8.1">RsaHF231 (1.96%)</text><circle cx="141.7" cy="233.3" r="6.0" fill="#e6a014"/><text x="152.8" y="236.8" font-size="8.1">Firmicutes (22.88%)</text><circle cx="141.7" cy="250.6" r="6.0" fill="#f08a1a"/><text x="152.8" y="254.1" font-size="8.1">Tenericutes (3.92%)</text><circle cx="141.7" cy="267.9" r="6.0" fill="#e4e040"/><text x="152.8" y="271.4" font-size="8.1">Actinobacteria (1.31%)</text><circle cx="262.1" cy="230.0" r="5.85" fill="#c2182c"/><text x="271.9" y="233.0" font-size="7.8">Proteobacteria (29.85%)</text><circle cx="262.1" cy="247.7" r="5.85" fill="#1f9a6c"/><text x="271.9" y="250.6" font-size="7.8">Cyanobacteria (24.38%)</text><circle cx="262.1" cy="263.3" r="5.85" fill="#d07ab2"/><text x="271.9" y="265.3" font-size="7.8">Verrucomicrobia (4.48%)</text><circle cx="376.9" cy="230.0" r="5.7" fill="#4caae2"/><text x="386.1" y="233.0" font-size="7.8">Bacteroidetes (20.9%)</text><circle cx="376.9" cy="248.2" r="5.7" fill="#e8dc32"/><text x="386.6" y="251.5" font-size="7.8">Actinobacteria (13.93%)</text><circle cx="376.9" cy="264.5" r="5.7" fill="#e8940e"/><text x="386.3" y="267.8" font-size="7.8">Firmicutes (2.49%)</text><circle cx="24.3" cy="505.8" r="6.0" fill="#c074c4"/><text x="34.4" y="509.2" font-size="8.1">Module I (34.64%)</text><circle cx="24.3" cy="521.2" r="6.0" fill="#22b2f2"/><text x="36.1" y="523.9" font-size="8.1">Module III (25.49%)</text><circle cx="24.3" cy="535.5" r="6.0" fill="#1c8a5c"/><text x="36.1" y="538.4" font-size="8.1">Module V (0.65%)</text><circle cx="130.1" cy="505.8" r="5.8" fill="#6db823"/><text x="142.1" y="509.2" font-size="8.1">Module II (27.45%)</text><circle cx="130.1" cy="522.1" r="5.8" fill="#f06242"/><text x="142.1" y="525.1" font-size="8.1">Module IV (11.76%)</text><circle cx="276.4" cy="504.8" r="5.4" fill="#b088d0"/><text x="286.0" y="508.2" font-size="7.6">Module I (7.46%)</text><circle cx="276.4" cy="519.4" r="5.4" fill="#22b4f0"/><text x="287.3" y="522.1" font-size="7.6">Module III (5.47%)</text><circle cx="276.4" cy="532.6" r="5.4" fill="#f08012"/><text x="287.3" y="535.5" font-size="7.6">Module V (4.48%)</text><circle cx="375.5" cy="505.0" r="5.4" fill="#62b822"/><text x="386.5" y="508.3" font-size="7.6">Module II (6.47%)</text><circle cx="375.5" cy="519.8" r="5.4" fill="#3e3a32"/><text x="386.5" y="523.0" font-size="7.6">Module IV (4.48%)</text><circle cx="375.5" cy="533.4" r="5.4" fill="#e63e78"/><text x="387.0" y="537.2" font-size="7.6">Module VI (4.48%)</text>
<text x="27.3" y="34.5" font-size="21.5">a</text><text x="250.4" y="44.7" font-size="21.5">b</text><text x="19.2" y="311.7" font-size="21.5">c</text><text x="265.6" y="307.6" font-size="21.5">d</text></g>
</svg>
</body></html>
